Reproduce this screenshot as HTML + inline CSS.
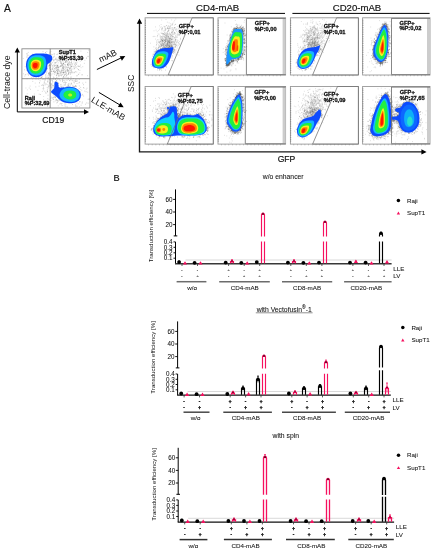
<!DOCTYPE html>
<html><head><meta charset="utf-8"><title>Figure</title>
<style>html,body{margin:0;padding:0;background:#fff}svg{display:block}text{font-family:"Liberation Sans",sans-serif}</style>
</head><body>
<svg width="434" height="550" viewBox="0 0 434 550">
<defs><filter id="b" x="-20%" y="-20%" width="140%" height="140%"><feGaussianBlur stdDeviation="0.45"/></filter>
<filter id="b2" x="-20%" y="-20%" width="140%" height="140%"><feGaussianBlur stdDeviation="0.3"/></filter></defs>
<rect width="434" height="550" fill="#fff"/>
<text x="4.0" y="11.5" font-size="10.3" text-anchor="start" font-weight="normal" fill="#111" stroke="#111" stroke-width="0.18" >A</text>
<rect x="21.9" y="48.8" width="68.0" height="59.2" fill="#fff" stroke="#8a8a8a" stroke-width="0.9"/>
<path d="M44.3 58.4h0.8M65.9 53.9h0.8M58.3 70.7h0.8M26.7 78.8h0.8M25.4 74.6h0.8M27.5 55.0h0.8M50.9 97.1h0.8M31.1 62.6h0.8M64.3 104.0h0.8M61.0 72.5h0.8M87.3 52.5h0.8M79.6 66.4h0.8M32.4 56.5h0.8M43.3 96.5h0.8M34.8 83.1h0.8M65.1 71.1h0.8M59.1 53.4h0.8M26.8 61.6h0.8M67.8 74.3h0.8M43.6 83.3h0.8M52.8 66.9h0.8M75.3 89.8h0.8M39.0 82.7h0.8M57.6 99.9h0.8M71.0 66.3h0.8M87.6 56.6h0.8M50.5 93.1h0.8M32.9 77.8h0.8M25.5 88.0h0.8M73.4 82.6h0.8M80.7 67.7h0.8M68.8 83.8h0.8M61.2 75.9h0.8M78.3 103.8h0.8M54.2 87.8h0.8M26.9 89.9h0.8M65.6 106.6h0.8M77.1 66.1h0.8M48.4 88.0h0.8M24.4 76.2h0.8M34.0 56.5h0.8M26.8 93.7h0.8M31.4 64.0h0.8M48.7 99.6h0.8M28.2 75.5h0.8M59.2 100.3h0.8M77.0 99.2h0.8M41.3 73.6h0.8M46.6 100.4h0.8M86.1 58.4h0.8M34.5 63.1h0.8M38.3 77.5h0.8M61.8 64.8h0.8M23.2 73.8h0.8M47.3 82.2h0.8M85.8 89.3h0.8M56.9 85.1h0.8M67.5 52.9h0.8M82.3 94.4h0.8M80.6 95.4h0.8M48.8 72.6h0.8M29.7 86.1h0.8M27.0 53.7h0.8M36.7 59.1h0.8M45.3 52.8h0.8M22.9 58.5h0.8M29.6 70.6h0.8M24.6 99.8h0.8M63.4 58.3h0.8M39.5 69.7h0.8M46.9 56.8h0.8M78.9 106.6h0.8M53.7 77.5h0.8M28.6 55.6h0.8M45.5 64.9h0.8M77.6 59.0h0.8M24.4 104.2h0.8M57.8 58.2h0.8M58.7 51.3h0.8M57.8 105.8h0.8M79.9 89.6h0.8M40.1 70.8h0.8M33.9 94.0h0.8M58.1 94.4h0.8M44.7 62.6h0.8M76.5 106.1h0.8M79.2 95.9h0.8M76.9 92.1h0.8M37.9 79.4h0.8M46.4 51.5h0.8" stroke="#555" stroke-opacity="0.28" stroke-width="0.8" fill="none"/>
<path d="M70.2 67.2h0.8M62.2 79.0h0.8M72.4 63.5h0.8M87.7 56.3h0.8M71.2 63.7h0.8M64.2 72.0h0.8M65.0 71.4h0.8M49.3 53.2h0.8M68.5 57.8h0.8M53.8 53.5h0.8M74.4 72.3h0.8M76.3 58.0h0.8M63.0 56.3h0.8M69.9 79.5h0.8M55.0 79.3h0.8M71.9 64.5h0.8M45.3 78.0h0.8M62.1 60.9h0.8M66.6 69.5h0.8M76.5 57.3h0.8M73.2 78.6h0.8M76.1 64.5h0.8M56.3 74.7h0.8M64.0 67.1h0.8M75.8 63.8h0.8M46.3 73.0h0.8M65.9 60.8h0.8M62.9 73.1h0.8M63.7 77.3h0.8M62.4 74.8h0.8M76.4 79.7h0.8M57.0 73.5h0.8M46.1 56.8h0.8M45.3 75.1h0.8M51.9 65.9h0.8M61.3 65.8h0.8M57.7 68.0h0.8M79.1 66.4h0.8M67.8 74.5h0.8M61.2 55.3h0.8M58.0 75.1h0.8M48.2 60.9h0.8M72.1 72.7h0.8M63.1 72.8h0.8M64.5 56.0h0.8M48.9 60.6h0.8M71.3 61.2h0.8M54.9 59.4h0.8M49.2 65.0h0.8M52.4 69.1h0.8M69.5 63.7h0.8M65.6 62.1h0.8M70.0 72.4h0.8M69.0 68.8h0.8M75.0 71.6h0.8M71.1 77.1h0.8M60.3 62.0h0.8M80.5 51.1h0.8M67.2 86.6h0.8M54.7 71.9h0.8M80.0 65.0h0.8M68.1 73.7h0.8M54.8 65.2h0.8M65.6 73.0h0.8M62.7 64.3h0.8M53.9 62.9h0.8M71.0 66.9h0.8M55.3 58.8h0.8M87.0 75.7h0.8M68.6 70.1h0.8M78.2 69.6h0.8M62.4 70.4h0.8M45.5 74.8h0.8M65.9 60.0h0.8M74.9 81.4h0.8M50.4 60.3h0.8M65.6 67.6h0.8M59.4 57.7h0.8M82.1 74.8h0.8M52.3 54.6h0.8M78.3 74.4h0.8M79.4 72.9h0.8M55.2 68.2h0.8M62.5 70.4h0.8M56.5 64.9h0.8M67.1 69.2h0.8M68.7 67.8h0.8M60.1 72.7h0.8M63.4 59.0h0.8M57.4 66.0h0.8M62.0 67.3h0.8M63.0 67.5h0.8M61.8 55.3h0.8M66.8 75.0h0.8M66.9 64.4h0.8M67.0 57.8h0.8M45.9 66.5h0.8M54.6 72.3h0.8M53.6 79.4h0.8M59.6 54.4h0.8M56.1 70.4h0.8M67.5 67.5h0.8M76.4 72.0h0.8M62.8 71.1h0.8M77.9 74.3h0.8M72.2 56.8h0.8M61.7 72.2h0.8M60.3 75.1h0.8M68.4 73.7h0.8M61.1 87.6h0.8M74.2 64.2h0.8M63.8 88.1h0.8M59.9 73.4h0.8M71.8 66.1h0.8M52.5 67.6h0.8M66.2 75.6h0.8M70.0 66.2h0.8M70.7 70.6h0.8M64.9 66.5h0.8M60.8 71.8h0.8M53.5 60.7h0.8M63.0 53.6h0.8M56.9 70.8h0.8M68.1 65.5h0.8M60.9 54.0h0.8M79.5 70.4h0.8M72.8 58.5h0.8M61.3 50.5h0.8M70.0 73.9h0.8M45.9 65.6h0.8M68.7 51.0h0.8M46.6 56.9h0.8M57.3 54.1h0.8M63.3 68.1h0.8M68.7 72.0h0.8M76.5 75.9h0.8M51.2 61.7h0.8M53.5 56.8h0.8M62.3 66.0h0.8M67.4 52.5h0.8M51.9 65.8h0.8M61.2 63.4h0.8M62.4 59.5h0.8M69.3 69.0h0.8M62.2 60.3h0.8M54.2 66.3h0.8M49.5 67.7h0.8M64.3 54.3h0.8M60.7 63.3h0.8M67.1 71.2h0.8M62.7 58.8h0.8M61.7 65.4h0.8M69.6 68.5h0.8M56.5 54.5h0.8M59.6 59.7h0.8M53.0 65.0h0.8M58.6 66.9h0.8M67.7 62.5h0.8M83.9 63.3h0.8M72.9 67.0h0.8M56.2 68.1h0.8M68.4 85.9h0.8M65.9 76.9h0.8M69.9 74.1h0.8M67.6 64.7h0.8M67.6 56.8h0.8M73.6 57.4h0.8M65.2 84.0h0.8M61.0 66.2h0.8M73.5 66.2h0.8M55.7 68.2h0.8M68.2 72.0h0.8M56.0 80.9h0.8M78.0 66.2h0.8M65.4 62.4h0.8M75.7 60.0h0.8M69.1 61.9h0.8M56.8 72.1h0.8M75.0 65.9h0.8M56.9 72.9h0.8M62.6 68.6h0.8M76.7 75.6h0.8M58.3 85.4h0.8M63.0 72.7h0.8M57.2 65.6h0.8M47.3 81.2h0.8M75.3 55.7h0.8M49.5 52.2h0.8M73.6 62.1h0.8M62.5 63.3h0.8M61.9 56.8h0.8M63.2 53.8h0.8M62.4 68.6h0.8M67.2 64.0h0.8M54.9 67.4h0.8M58.6 79.3h0.8M69.9 65.0h0.8M58.8 60.0h0.8M54.6 63.0h0.8M65.7 70.4h0.8M68.1 83.8h0.8M56.7 66.1h0.8M88.2 50.1h0.8M58.3 67.4h0.8M64.4 69.5h0.8M60.9 69.1h0.8M63.5 72.6h0.8M46.0 58.5h0.8M63.0 57.2h0.8M53.6 71.3h0.8M57.2 71.4h0.8M69.7 68.6h0.8M67.6 65.1h0.8M50.3 65.7h0.8M67.1 61.5h0.8M62.1 72.4h0.8M55.1 71.4h0.8M79.8 61.3h0.8M64.3 64.7h0.8M76.9 68.7h0.8M71.1 60.1h0.8M62.9 65.9h0.8M47.0 78.2h0.8M71.1 51.1h0.8M69.7 64.9h0.8M67.0 69.1h0.8M49.5 64.2h0.8M76.4 61.1h0.8M53.8 54.4h0.8M52.0 68.9h0.8M78.2 69.7h0.8M65.2 85.0h0.8M58.3 60.3h0.8M67.8 70.7h0.8M53.9 56.1h0.8M65.6 68.1h0.8M51.2 64.3h0.8M58.1 69.9h0.8M61.9 65.3h0.8M59.8 75.0h0.8M75.5 62.9h0.8M70.6 59.6h0.8M63.6 72.4h0.8M76.6 62.7h0.8M62.3 67.7h0.8M49.5 66.1h0.8M56.9 69.2h0.8M63.3 68.2h0.8M58.1 73.6h0.8M60.5 60.9h0.8M67.3 52.7h0.8M56.9 65.8h0.8M70.6 64.6h0.8M65.8 60.4h0.8M65.7 80.1h0.8M56.8 86.1h0.8M57.2 66.1h0.8M64.6 74.7h0.8M68.5 72.8h0.8M68.6 88.4h0.8M64.8 68.2h0.8M71.4 69.1h0.8M78.0 55.5h0.8M70.3 62.8h0.8M71.3 84.3h0.8M62.9 63.8h0.8M58.5 58.9h0.8M57.3 71.4h0.8M63.3 66.6h0.8M61.4 73.8h0.8M67.4 64.8h0.8M69.0 64.7h0.8M52.6 78.4h0.8M67.2 57.9h0.8M72.7 68.9h0.8M48.9 79.7h0.8M66.0 73.6h0.8M64.8 64.7h0.8M49.1 74.3h0.8M63.3 63.6h0.8M66.2 66.7h0.8M69.1 62.8h0.8M59.2 71.7h0.8M75.0 62.9h0.8M61.9 79.5h0.8M60.1 72.2h0.8M78.1 66.3h0.8M74.0 60.0h0.8M64.9 65.3h0.8M64.0 75.6h0.8M84.5 60.3h0.8M57.8 70.2h0.8M53.5 70.2h0.8M68.1 63.6h0.8M67.8 52.8h0.8M69.8 52.9h0.8M56.7 61.3h0.8M59.4 73.3h0.8M63.7 62.6h0.8M67.9 79.4h0.8M63.1 69.1h0.8M74.2 68.3h0.8M51.4 87.2h0.8M62.6 69.5h0.8M71.7 71.7h0.8M60.6 57.0h0.8M63.9 74.8h0.8M53.2 57.3h0.8M60.7 62.3h0.8M67.1 60.0h0.8M55.1 62.6h0.8M62.6 60.4h0.8M63.1 72.4h0.8M73.7 80.5h0.8M55.9 62.4h0.8M56.5 65.7h0.8M67.7 54.5h0.8M67.2 65.8h0.8M46.6 68.5h0.8M73.8 50.1h0.8M70.3 67.8h0.8M67.3 69.8h0.8M74.7 64.1h0.8M70.9 62.5h0.8M69.6 59.1h0.8M62.0 80.7h0.8M67.0 64.7h0.8M52.7 59.3h0.8M64.7 74.0h0.8M66.8 70.5h0.8M62.6 77.5h0.8M59.5 61.3h0.8M71.0 66.5h0.8M60.5 61.1h0.8M60.7 71.3h0.8M66.2 55.7h0.8M66.8 67.5h0.8M54.0 72.6h0.8M60.5 63.1h0.8M70.2 77.2h0.8M56.8 69.7h0.8M55.1 85.7h0.8M58.6 76.2h0.8M57.2 72.9h0.8M59.1 70.3h0.8M62.2 60.3h0.8M82.4 66.7h0.8M48.2 73.3h0.8M47.5 75.8h0.8M57.8 67.2h0.8M74.3 67.0h0.8M50.5 51.6h0.8M73.6 72.3h0.8M55.7 73.3h0.8M67.5 71.5h0.8M71.1 72.2h0.8M64.5 70.2h0.8M86.0 57.9h0.8M60.0 66.3h0.8M71.0 62.2h0.8M73.3 59.3h0.8M65.4 61.5h0.8M64.4 60.1h0.8M48.6 75.3h0.8M65.7 61.3h0.8M64.8 74.4h0.8M54.2 65.1h0.8M67.9 70.5h0.8M74.2 68.8h0.8M63.1 63.6h0.8M65.4 62.4h0.8M53.8 59.7h0.8M57.6 60.8h0.8M52.6 71.4h0.8M51.2 71.6h0.8M53.9 69.0h0.8M75.4 67.7h0.8M56.4 66.4h0.8M64.3 51.3h0.8M57.5 67.4h0.8M58.8 66.7h0.8M69.6 72.5h0.8M71.2 71.0h0.8M60.4 65.8h0.8M60.6 63.3h0.8M61.4 51.3h0.8M60.0 65.8h0.8M54.2 65.8h0.8M67.6 64.6h0.8M61.1 50.5h0.8M71.8 88.6h0.8M67.7 63.4h0.8M70.7 69.2h0.8M63.2 61.0h0.8M68.7 61.9h0.8M65.0 61.7h0.8M64.8 72.4h0.8M55.1 65.7h0.8M68.6 67.2h0.8M74.2 82.9h0.8M70.7 79.0h0.8M71.3 72.9h0.8M57.4 59.9h0.8M71.0 58.3h0.8M46.7 57.5h0.8M85.4 82.3h0.8M56.8 59.8h0.8M65.1 59.6h0.8M74.8 65.3h0.8M53.2 77.1h0.8M57.8 67.9h0.8M62.9 63.3h0.8M65.9 60.1h0.8M51.6 59.6h0.8M62.8 66.5h0.8M68.0 67.0h0.8M55.9 60.0h0.8M67.4 70.5h0.8M61.9 64.5h0.8M71.4 66.1h0.8M69.6 71.0h0.8M64.9 77.1h0.8M57.8 62.9h0.8M55.7 59.2h0.8M77.0 81.0h0.8M63.2 70.8h0.8M73.6 72.9h0.8M73.8 55.3h0.8M57.2 69.8h0.8M75.9 66.9h0.8M55.3 63.0h0.8" stroke="#555" stroke-opacity="0.33" stroke-width="0.8" fill="none"/>
<path d="M48.7 73.1h0.8M66.0 75.0h0.8M54.2 97.3h0.8M63.5 82.7h0.8M49.1 83.3h0.8M67.0 85.0h0.8M64.1 80.8h0.8M58.1 78.4h0.8M57.4 90.4h0.8M42.6 79.5h0.8M55.9 75.4h0.8M51.5 86.3h0.8M70.0 85.0h0.8M56.6 67.6h0.8M69.4 80.6h0.8M53.7 71.1h0.8M53.5 71.2h0.8M54.6 83.7h0.8M54.2 82.2h0.8M47.2 91.4h0.8M48.8 65.5h0.8M52.5 73.9h0.8M45.9 77.2h0.8M56.3 70.5h0.8M52.9 91.4h0.8M59.5 78.8h0.8M55.0 79.0h0.8M53.6 85.9h0.8M53.3 60.8h0.8M53.8 72.9h0.8M59.2 75.1h0.8M55.2 97.4h0.8M45.6 71.0h0.8M42.7 60.8h0.8M39.0 82.9h0.8M48.9 65.1h0.8M42.1 84.9h0.8M47.8 77.1h0.8M56.6 90.9h0.8M69.5 88.3h0.8M55.1 81.5h0.8M68.4 91.4h0.8M51.5 83.7h0.8M56.3 80.4h0.8M50.0 69.4h0.8M49.7 67.6h0.8M63.8 84.3h0.8M44.4 91.2h0.8M61.1 64.7h0.8M68.7 86.5h0.8M70.5 70.2h0.8M58.2 83.4h0.8M55.6 81.4h0.8M62.4 68.0h0.8M44.1 68.8h0.8M49.5 75.2h0.8M56.9 82.1h0.8M54.3 74.6h0.8M50.5 87.6h0.8M60.1 80.8h0.8M51.4 92.4h0.8M49.2 85.2h0.8M63.2 77.9h0.8M60.6 71.1h0.8M62.1 81.6h0.8M41.3 85.4h0.8M46.9 90.3h0.8M48.6 78.7h0.8M56.3 77.3h0.8M56.1 75.6h0.8M59.4 80.0h0.8M55.7 58.0h0.8M63.3 80.3h0.8M39.7 80.8h0.8M57.7 88.6h0.8M45.3 92.4h0.8M52.7 99.2h0.8M52.8 85.4h0.8M51.1 71.1h0.8M62.8 87.3h0.8M66.3 86.9h0.8M49.4 66.7h0.8M48.8 74.6h0.8M47.5 84.7h0.8M56.6 77.8h0.8M55.4 78.8h0.8M55.7 86.0h0.8M61.7 74.5h0.8M41.9 91.4h0.8M54.9 88.8h0.8M40.9 77.4h0.8M54.2 68.5h0.8M49.9 85.8h0.8M62.6 92.8h0.8M47.1 68.8h0.8M58.2 87.5h0.8M55.5 69.6h0.8M60.3 86.3h0.8M58.4 76.1h0.8M56.4 86.3h0.8M49.5 65.3h0.8M56.6 83.8h0.8M54.1 87.1h0.8M49.3 79.3h0.8M51.6 84.6h0.8M66.8 78.0h0.8M70.4 92.2h0.8M60.3 84.7h0.8M68.2 78.6h0.8M53.1 71.5h0.8M57.8 90.8h0.8M58.3 83.4h0.8M52.4 81.4h0.8M42.6 88.4h0.8M50.7 71.2h0.8M48.0 73.4h0.8M60.8 88.5h0.8M43.1 87.4h0.8M61.1 75.4h0.8M42.1 74.0h0.8M48.9 82.7h0.8M51.1 63.8h0.8M55.9 67.7h0.8M61.2 70.3h0.8M48.5 73.2h0.8M49.7 90.4h0.8M60.8 84.8h0.8M56.6 67.6h0.8M49.8 75.6h0.8M46.2 84.1h0.8M48.1 74.3h0.8M45.6 63.5h0.8M58.8 90.6h0.8M55.4 72.2h0.8M32.4 81.4h0.8M63.7 82.4h0.8M61.4 91.8h0.8M63.0 76.5h0.8M62.4 86.2h0.8M41.7 76.8h0.8M42.6 79.1h0.8M58.6 71.5h0.8M37.6 90.4h0.8M57.0 91.8h0.8M43.4 88.5h0.8M70.6 96.1h0.8M52.3 82.2h0.8M52.8 88.0h0.8M62.3 80.7h0.8M43.1 85.9h0.8M50.2 85.0h0.8M56.1 93.0h0.8M63.1 76.4h0.8M56.8 94.1h0.8M49.7 83.5h0.8M63.5 90.1h0.8M58.1 69.4h0.8M43.9 82.0h0.8M57.1 100.4h0.8M47.1 89.1h0.8M60.2 66.6h0.8M47.5 81.3h0.8M50.1 78.8h0.8M57.8 73.5h0.8M57.7 74.9h0.8M49.6 84.3h0.8M49.4 82.3h0.8M66.8 80.2h0.8M52.8 85.9h0.8M51.1 88.7h0.8M43.7 84.9h0.8M49.9 73.6h0.8M68.2 73.2h0.8M68.1 85.3h0.8M65.6 72.2h0.8M63.6 91.7h0.8M53.1 79.0h0.8M73.6 81.4h0.8M50.6 75.0h0.8M57.6 82.6h0.8M55.4 93.8h0.8M51.4 83.8h0.8M65.7 72.0h0.8M62.3 94.7h0.8M43.2 71.2h0.8M45.7 65.2h0.8M57.6 65.2h0.8M58.0 91.6h0.8M41.1 77.5h0.8M38.7 86.2h0.8M48.1 77.9h0.8M54.4 84.4h0.8M51.2 80.1h0.8M49.6 80.9h0.8M44.6 80.5h0.8M38.5 76.1h0.8M69.3 80.6h0.8M43.9 82.1h0.8M46.2 66.8h0.8M48.1 85.9h0.8M57.1 79.2h0.8M46.6 71.4h0.8M64.8 82.0h0.8M46.4 63.1h0.8M43.0 99.8h0.8M44.8 79.4h0.8M55.7 78.7h0.8M51.8 69.0h0.8M45.6 93.5h0.8M47.9 86.8h0.8M40.4 77.8h0.8M56.1 88.3h0.8M45.0 84.8h0.8M57.1 74.1h0.8M57.8 72.8h0.8M47.6 79.8h0.8M32.3 79.1h0.8M46.0 68.3h0.8M50.6 86.1h0.8M50.8 90.1h0.8" stroke="#555" stroke-opacity="0.33" stroke-width="0.8" fill="none"/>
<path d="M26.1 53.8h0.8M49.2 68.4h0.8M44.0 58.0h0.8M42.8 67.2h0.8M41.5 65.2h0.8M46.3 59.5h0.8M27.8 52.4h0.8M45.9 58.7h0.8M27.1 57.0h0.8M32.2 54.2h0.8M33.5 59.7h0.8M31.3 56.8h0.8M36.3 61.1h0.8M37.0 67.1h0.8M31.4 58.2h0.8M42.6 51.6h0.8M29.9 62.5h0.8M33.1 73.4h0.8M32.2 73.2h0.8M46.4 68.7h0.8M40.1 66.0h0.8M40.1 54.7h0.8M44.1 60.5h0.8M44.4 65.7h0.8M45.6 63.8h0.8M32.6 67.1h0.8M32.4 60.4h0.8M36.9 66.2h0.8M48.9 65.4h0.8M52.0 80.3h0.8M50.6 74.0h0.8M37.1 66.2h0.8M34.8 58.8h0.8M35.4 59.6h0.8M49.9 69.5h0.8M35.5 61.5h0.8M26.8 55.3h0.8M35.4 86.9h0.8M35.7 63.7h0.8M48.3 66.1h0.8M37.4 61.8h0.8M30.9 77.7h0.8M44.5 79.6h0.8M33.0 65.3h0.8M28.5 73.2h0.8M24.2 69.8h0.8M45.3 77.0h0.8M28.0 74.3h0.8M29.9 58.6h0.8M24.8 74.8h0.8M50.0 59.9h0.8M29.5 62.1h0.8M57.3 73.5h0.8M30.3 75.1h0.8M51.9 62.7h0.8M30.1 60.7h0.8M26.8 74.0h0.8M38.5 58.5h0.8M42.6 65.1h0.8M26.0 70.3h0.8M51.5 69.2h0.8M29.9 62.0h0.8M45.2 52.6h0.8M34.0 67.9h0.8M40.3 78.5h0.8M41.6 62.4h0.8M26.0 57.0h0.8M30.4 66.2h0.8M35.6 79.2h0.8M38.4 55.9h0.8M49.1 73.1h0.8M36.9 58.9h0.8M43.7 58.2h0.8M24.8 66.7h0.8M38.1 70.2h0.8M41.6 77.0h0.8M28.9 73.3h0.8M27.6 70.9h0.8M37.5 67.1h0.8M44.2 64.9h0.8M45.5 72.4h0.8M37.2 60.2h0.8M29.6 60.5h0.8M34.3 64.8h0.8M61.3 70.4h0.8M42.5 57.7h0.8M30.0 62.3h0.8M37.6 56.2h0.8M49.7 60.2h0.8M35.9 67.4h0.8M37.6 70.1h0.8M38.4 66.4h0.8M38.6 63.3h0.8M29.0 60.1h0.8M51.7 79.7h0.8M35.5 75.9h0.8M31.9 57.6h0.8M31.2 66.6h0.8M61.7 59.4h0.8M36.4 67.3h0.8M35.7 72.9h0.8M51.1 54.4h0.8M37.4 62.7h0.8" stroke="#555" stroke-opacity="0.35" stroke-width="0.8" fill="none"/>
<path d="M70.9 83.3h0.8M47.7 77.8h0.8M72.8 95.3h0.8M67.8 77.4h0.8M62.9 88.7h0.8M51.4 87.6h0.8M74.7 97.8h0.8M66.8 97.6h0.8M60.4 94.5h0.8M67.4 97.9h0.8M66.2 93.0h0.8M65.5 89.5h0.8M82.4 83.1h0.8M74.6 99.9h0.8M87.7 103.2h0.8M75.5 85.8h0.8M57.4 95.9h0.8M72.6 86.8h0.8M62.8 91.2h0.8M67.7 96.4h0.8M63.8 85.3h0.8M80.7 105.2h0.8M65.8 101.2h0.8M71.9 98.6h0.8M72.3 88.7h0.8M73.3 101.1h0.8M88.9 99.2h0.8M63.3 89.8h0.8M58.1 94.8h0.8M66.6 98.7h0.8M74.4 97.3h0.8M70.0 92.5h0.8M65.6 88.2h0.8M69.0 93.8h0.8M70.5 88.0h0.8M67.4 94.3h0.8M73.6 86.6h0.8M71.6 100.9h0.8M73.6 91.4h0.8M61.6 92.3h0.8M75.0 104.9h0.8M65.3 89.5h0.8M71.1 95.4h0.8M57.0 88.8h0.8M65.9 98.7h0.8M53.9 86.9h0.8M72.5 85.4h0.8M68.2 96.5h0.8M65.8 86.9h0.8M66.3 91.7h0.8M70.7 88.1h0.8M79.0 82.3h0.8M65.1 94.1h0.8M77.6 89.7h0.8M73.0 90.0h0.8M75.1 106.2h0.8M62.6 97.1h0.8M56.8 100.8h0.8M80.3 94.2h0.8M54.5 96.8h0.8M79.6 101.6h0.8M75.9 81.2h0.8M59.5 104.0h0.8M53.5 101.9h0.8M87.7 99.3h0.8M79.3 91.7h0.8M53.5 93.3h0.8M64.8 93.7h0.8M74.7 93.0h0.8M69.1 97.0h0.8M66.9 106.9h0.8M71.9 94.6h0.8M64.7 89.6h0.8M81.8 95.1h0.8M55.1 90.1h0.8M65.5 90.9h0.8M78.9 85.9h0.8M72.4 95.0h0.8M54.0 94.3h0.8M66.0 97.5h0.8M62.0 96.1h0.8M48.7 86.4h0.8M75.6 101.3h0.8M66.9 89.8h0.8M78.9 79.4h0.8M58.2 98.7h0.8M74.2 86.8h0.8M46.2 104.2h0.8M68.7 87.7h0.8M67.6 100.3h0.8M38.5 101.8h0.8M75.1 79.4h0.8M75.5 81.5h0.8M79.5 96.8h0.8M67.1 101.3h0.8M60.0 89.1h0.8M62.9 93.5h0.8M55.1 97.4h0.8M73.0 94.5h0.8M85.7 91.7h0.8M81.4 90.2h0.8M75.3 80.5h0.8M69.2 92.8h0.8M61.6 89.7h0.8M63.2 89.0h0.8M42.9 89.8h0.8M61.0 90.3h0.8M55.4 93.1h0.8M75.6 92.2h0.8M61.6 103.5h0.8M77.7 100.5h0.8M79.7 91.7h0.8M65.6 101.8h0.8M60.9 93.2h0.8M71.2 96.6h0.8M64.0 100.9h0.8M65.0 99.1h0.8M78.8 98.6h0.8M75.1 85.9h0.8M52.6 89.7h0.8M72.2 104.5h0.8M53.6 96.1h0.8M57.6 88.9h0.8M64.0 98.8h0.8M69.3 102.3h0.8M56.2 100.2h0.8M77.2 94.5h0.8M72.2 90.1h0.8M55.0 91.2h0.8M61.7 105.6h0.8M69.2 96.2h0.8M75.2 88.5h0.8M77.1 96.6h0.8M50.3 98.2h0.8M73.1 97.2h0.8M84.4 91.1h0.8M72.6 99.2h0.8M57.1 102.4h0.8M51.0 84.9h0.8M72.7 86.4h0.8M65.7 82.5h0.8M67.8 86.1h0.8M70.8 83.3h0.8M71.9 92.1h0.8M67.7 93.5h0.8M68.4 84.8h0.8M38.8 94.2h0.8M56.7 90.8h0.8M71.7 80.1h0.8M58.6 89.7h0.8M55.4 96.3h0.8M65.5 88.3h0.8M56.2 99.7h0.8M59.7 98.1h0.8M71.9 80.7h0.8M55.1 94.0h0.8M70.8 99.5h0.8M75.8 101.2h0.8M62.9 92.5h0.8M75.5 91.0h0.8M78.6 82.9h0.8M74.2 92.8h0.8M45.4 100.9h0.8M70.4 94.1h0.8M55.2 90.7h0.8M83.6 88.2h0.8M28.8 88.0h0.8M53.8 93.1h0.8M62.7 87.6h0.8M57.7 101.3h0.8M61.0 86.4h0.8M75.7 97.9h0.8M55.5 99.2h0.8M46.8 87.5h0.8M79.4 92.2h0.8M52.7 97.6h0.8M77.1 93.8h0.8M47.1 91.6h0.8M71.6 99.4h0.8M87.4 92.2h0.8M61.7 93.7h0.8M80.3 87.4h0.8M81.4 74.8h0.8M75.8 89.3h0.8M72.1 98.8h0.8M54.0 93.4h0.8M69.6 98.1h0.8M56.8 87.1h0.8M64.9 92.4h0.8M50.6 100.5h0.8M61.1 104.0h0.8M76.4 94.1h0.8M75.0 86.2h0.8M63.4 90.0h0.8M53.0 94.1h0.8M65.4 104.0h0.8M30.1 89.3h0.8M56.9 90.8h0.8M71.6 96.8h0.8M67.3 90.7h0.8M72.4 96.5h0.8M46.7 92.2h0.8M51.9 85.7h0.8M68.6 94.4h0.8M68.3 87.9h0.8M64.8 87.6h0.8M71.2 98.8h0.8M86.3 102.9h0.8M58.1 90.8h0.8M56.7 96.1h0.8M88.8 99.0h0.8M42.8 85.2h0.8M52.8 97.6h0.8M67.0 96.1h0.8M86.6 88.2h0.8M70.8 88.5h0.8M44.7 83.3h0.8M40.1 94.5h0.8M67.5 101.0h0.8M65.5 89.1h0.8M47.6 95.2h0.8M67.3 98.3h0.8M62.5 97.5h0.8M76.0 93.0h0.8M62.0 92.7h0.8M56.4 92.5h0.8M63.7 95.5h0.8M81.7 103.2h0.8M62.1 98.2h0.8M70.2 99.3h0.8M67.2 95.9h0.8M61.8 88.5h0.8M76.6 103.1h0.8M74.3 97.1h0.8M69.9 90.8h0.8M47.4 98.6h0.8M69.2 90.1h0.8M56.4 102.9h0.8M47.2 106.3h0.8M59.1 93.8h0.8M61.4 95.1h0.8M64.7 88.8h0.8M78.8 88.5h0.8M61.4 97.9h0.8M61.1 91.0h0.8M70.9 91.4h0.8M53.3 93.3h0.8M64.6 105.9h0.8M54.9 100.8h0.8M58.4 91.5h0.8M63.4 95.9h0.8M76.5 106.2h0.8M60.0 103.3h0.8M77.9 99.7h0.8M58.6 100.3h0.8M65.8 96.5h0.8M64.0 98.6h0.8M79.3 101.9h0.8M64.7 101.0h0.8M83.0 87.5h0.8M83.2 84.7h0.8M73.0 98.2h0.8M83.3 96.0h0.8M61.7 88.4h0.8M53.2 99.4h0.8M64.4 89.0h0.8M72.9 88.6h0.8M62.2 90.8h0.8M85.2 104.2h0.8M65.3 83.0h0.8M70.0 94.5h0.8M70.8 98.0h0.8M63.5 100.5h0.8M76.2 95.5h0.8M62.5 90.6h0.8M74.6 86.3h0.8M65.2 88.8h0.8M51.7 98.2h0.8M66.7 94.3h0.8M76.6 83.5h0.8M66.3 96.0h0.8M76.2 86.4h0.8M74.9 95.5h0.8M81.9 102.0h0.8M67.0 91.0h0.8M63.3 87.4h0.8" stroke="#555" stroke-opacity="0.36" stroke-width="0.8" fill="none"/>
<path d="M50.2 48.8V108.0M21.9 78.7H89.9" stroke="#777" stroke-width="0.8" fill="none"/>
<g filter="url(#b)">
<path d="M36.00 53.60C37.83 53.33 40.00 53.50 42.00 53.60C44.00 53.70 46.40 53.83 48.00 54.20C49.60 54.57 50.90 54.92 51.60 55.80C52.30 56.68 52.47 58.38 52.20 59.50C51.93 60.62 50.78 61.67 50.00 62.50C49.22 63.33 48.00 63.42 47.50 64.50C47.00 65.58 47.58 67.42 47.00 69.00C46.42 70.58 45.42 72.67 44.00 74.00C42.58 75.33 40.50 76.63 38.50 77.00C36.50 77.37 33.83 77.12 32.00 76.20C30.17 75.28 28.50 73.37 27.50 71.50C26.50 69.63 26.00 67.08 26.00 65.00C26.00 62.92 26.67 60.63 27.50 59.00C28.33 57.37 29.58 56.10 31.00 55.20C32.42 54.30 34.17 53.87 36.00 53.60Z" fill="#0a4cff"/>
</g>
<g filter="url(#b)">
<path d="M35.50 55.20C37.08 55.05 39.42 55.13 41.00 55.60C42.58 56.07 44.13 56.77 45.00 58.00C45.87 59.23 46.20 61.17 46.20 63.00C46.20 64.83 45.70 67.25 45.00 69.00C44.30 70.75 43.25 72.40 42.00 73.50C40.75 74.60 39.17 75.38 37.50 75.60C35.83 75.82 33.48 75.57 32.00 74.80C30.52 74.03 29.38 72.63 28.60 71.00C27.82 69.37 27.30 66.92 27.30 65.00C27.30 63.08 27.90 60.92 28.60 59.50C29.30 58.08 30.35 57.22 31.50 56.50C32.65 55.78 33.92 55.35 35.50 55.20Z" fill="#14b4ff"/>
<path d="M35.34 57.28C36.61 57.16 38.47 57.23 39.74 57.60C41.01 57.97 42.25 58.53 42.94 59.52C43.63 60.51 43.90 62.05 43.90 63.52C43.90 64.99 43.50 66.92 42.94 68.32C42.38 69.72 41.54 71.04 40.54 71.92C39.54 72.80 38.27 73.43 36.94 73.60C35.61 73.77 33.73 73.57 32.54 72.96C31.35 72.35 30.45 71.23 29.82 69.92C29.19 68.61 28.78 66.65 28.78 65.12C28.78 63.59 29.26 61.85 29.82 60.72C30.38 59.59 31.22 58.89 32.14 58.32C33.06 57.75 34.07 57.40 35.34 57.28Z" fill="#20f040"/>
<path d="M35.15 59.78C36.03 59.69 37.34 59.74 38.23 60.00C39.11 60.26 39.98 60.65 40.47 61.34C40.95 62.03 41.14 63.12 41.14 64.14C41.14 65.17 40.86 66.52 40.47 67.50C40.08 68.48 39.49 69.41 38.79 70.02C38.09 70.64 37.20 71.08 36.27 71.20C35.33 71.32 34.02 71.18 33.19 70.75C32.36 70.32 31.72 69.54 31.28 68.62C30.85 67.71 30.56 66.34 30.56 65.26C30.56 64.19 30.89 62.98 31.28 62.18C31.68 61.39 32.26 60.91 32.91 60.50C33.55 60.10 34.26 59.86 35.15 59.78Z" fill="#f8f020"/>
<path d="M35.04 61.23C35.70 61.17 36.68 61.20 37.35 61.40C38.01 61.60 38.66 61.89 39.03 62.41C39.39 62.93 39.53 63.74 39.53 64.51C39.53 65.28 39.32 66.29 39.03 67.03C38.73 67.76 38.29 68.46 37.77 68.92C37.24 69.38 36.58 69.71 35.88 69.80C35.18 69.89 34.19 69.79 33.57 69.46C32.94 69.14 32.47 68.55 32.14 67.87C31.81 67.18 31.59 66.15 31.59 65.35C31.59 64.54 31.84 63.63 32.14 63.04C32.43 62.44 32.87 62.08 33.36 61.78C33.84 61.48 34.37 61.30 35.04 61.23Z" fill="#ff8000"/>
<path d="M34.91 62.90C35.32 62.86 35.93 62.88 36.34 63.00C36.75 63.12 37.15 63.30 37.38 63.62C37.60 63.94 37.69 64.45 37.69 64.92C37.69 65.40 37.56 66.03 37.38 66.48C37.20 66.94 36.92 67.37 36.60 67.65C36.27 67.94 35.86 68.14 35.43 68.20C34.99 68.26 34.38 68.19 34.00 67.99C33.61 67.79 33.32 67.43 33.11 67.00C32.91 66.58 32.78 65.94 32.78 65.44C32.78 64.95 32.93 64.38 33.11 64.01C33.30 63.65 33.57 63.42 33.87 63.23C34.17 63.05 34.50 62.93 34.91 62.90Z" fill="#ff1800"/>
</g>
<g filter="url(#b)">
<path d="M54.80 82.20C55.42 81.40 57.30 82.15 58.00 83.00C58.70 83.85 58.17 86.53 59.00 87.30C59.83 88.07 61.17 87.68 63.00 87.60C64.83 87.52 67.75 86.67 70.00 86.80C72.25 86.93 74.73 87.37 76.50 88.40C78.27 89.43 79.98 91.32 80.60 93.00C81.22 94.68 80.97 96.95 80.20 98.50C79.43 100.05 77.87 101.50 76.00 102.30C74.13 103.10 71.33 103.42 69.00 103.30C66.67 103.18 64.08 102.68 62.00 101.60C59.92 100.52 58.30 98.35 56.50 96.80C54.70 95.25 51.87 93.43 51.20 92.30C50.53 91.17 51.98 90.75 52.50 90.00C53.02 89.25 53.92 89.10 54.30 87.80C54.68 86.50 54.18 83.00 54.80 82.20Z" fill="#0a4cff"/>
</g>
<g filter="url(#b)">
<path d="M59.50 95.00C59.50 93.58 60.42 91.62 61.50 90.50C62.58 89.38 64.17 88.72 66.00 88.30C67.83 87.88 70.58 87.72 72.50 88.00C74.42 88.28 76.32 88.92 77.50 90.00C78.68 91.08 79.52 92.95 79.60 94.50C79.68 96.05 79.10 98.08 78.00 99.30C76.90 100.52 74.92 101.43 73.00 101.80C71.08 102.17 68.42 101.97 66.50 101.50C64.58 101.03 62.67 100.08 61.50 99.00C60.33 97.92 59.50 96.42 59.50 95.00Z" fill="#14b4ff"/>
<path d="M63.39 95.04C63.39 94.13 63.97 92.87 64.67 92.16C65.36 91.44 66.37 91.01 67.55 90.75C68.72 90.48 70.48 90.37 71.71 90.56C72.93 90.74 74.15 91.14 74.91 91.84C75.67 92.53 76.20 93.72 76.25 94.72C76.31 95.71 75.93 97.01 75.23 97.79C74.52 98.57 73.25 99.15 72.03 99.39C70.80 99.62 69.09 99.49 67.87 99.20C66.64 98.90 65.41 98.29 64.67 97.60C63.92 96.90 63.39 95.94 63.39 95.04Z" fill="#20f040"/>
<path d="M68.14 95.08C68.14 94.77 68.32 94.33 68.54 94.09C68.76 93.84 69.07 93.70 69.44 93.60C69.81 93.51 70.36 93.48 70.74 93.54C71.12 93.60 71.50 93.74 71.74 93.98C71.98 94.22 72.14 94.63 72.16 94.97C72.18 95.31 72.06 95.76 71.84 96.02C71.62 96.29 71.22 96.49 70.84 96.57C70.46 96.65 69.92 96.61 69.54 96.51C69.16 96.41 68.77 96.20 68.54 95.96C68.31 95.72 68.14 95.39 68.14 95.08Z" fill="#c0f020"/>
</g>
<text x="58.8" y="54.4" font-size="5.6" text-anchor="start" font-weight="bold" fill="#111" stroke="#111" stroke-width="0.28" >SupT1</text>
<text x="58.8" y="59.8" font-size="5.6" text-anchor="start" font-weight="bold" fill="#111" stroke="#111" stroke-width="0.28" >%P:63,39</text>
<text x="24.8" y="99.6" font-size="5.6" text-anchor="start" font-weight="bold" fill="#111" stroke="#111" stroke-width="0.28" >Raji</text>
<text x="24.8" y="105.2" font-size="5.6" text-anchor="start" font-weight="bold" fill="#111" stroke="#111" stroke-width="0.28" >%P:32,69</text>
<path d="M17.3 50V111.9H86" stroke="#000" stroke-width="1" fill="none"/>
<path d="M17.3 47.6l-2.6 5h5.2zM89 111.9l-5-2.6v5.2z" fill="#000"/>
<text x="53.3" y="122.6" font-size="8.6" text-anchor="middle" font-weight="normal" fill="#111" stroke="#111" stroke-width="0.18" >CD19</text>
<text transform="translate(10.3 82.3) rotate(-90)" font-size="8.7" text-anchor="middle" fill="#111">Cell-trace dye</text>
<path d="M96.9 69.5L122 57.5" stroke="#000" stroke-width="1" fill="none"/>
<path d="M125.3 55.9l-5.6 0.3l2.2 4.6z" fill="#000"/>
<text transform="translate(109.0 58.5) rotate(-25.6)" font-size="8.8" text-anchor="middle" fill="#111">mAB</text>
<path d="M98.9 92.4L120.5 105.3" stroke="#000" stroke-width="1" fill="none"/>
<path d="M123.7 107.2l-3.2-4.6l-2.6 4.4z" fill="#000"/>
<text transform="translate(106.8 111.1) rotate(30.5)" font-size="8.8" text-anchor="middle" fill="#111">LLE-mAB</text>
<text transform="translate(134 83.4) rotate(-90)" font-size="8.4" text-anchor="middle" fill="#111">SSC</text>
<path d="M139.5 21V151.9H423" stroke="#1a1a1a" stroke-width="1.35" fill="none"/>
<path d="M139.5 18.6l-2.7 5.2h5.4zM426.6 151.9l-5.2-2.6v5.2z" fill="#000"/>
<text x="286.5" y="161.7" font-size="8.6" text-anchor="middle" font-weight="normal" fill="#111" stroke="#111" stroke-width="0.18" >GFP</text>
<text x="217.7" y="11.1" font-size="9.6" text-anchor="middle" font-weight="normal" fill="#111" stroke="#111" stroke-width="0.18" >CD4-mAB</text>
<text x="357.0" y="11.2" font-size="9.6" text-anchor="middle" font-weight="normal" fill="#111" stroke="#111" stroke-width="0.18" >CD20-mAB</text>
<path d="M147 13.4H285M292.4 13.4H429.6" stroke="#000" stroke-width="1" fill="none"/>
<rect x="145.1" y="17.8" width="68.2" height="57.2" fill="#fff" stroke="#999" stroke-width="0.9"/>
<path d="M145.4 19.8V73.0" stroke="#777" stroke-width="0.9" stroke-dasharray="0.8 1.0" fill="none"/>
<path d="M148.1 75.7H211.3" stroke="#888" stroke-width="0.7" stroke-dasharray="0.8 2.9" fill="none"/>
<path d="M157.1 35.9h0.8M169.6 40.5h0.8M168.3 29.9h0.8M167.8 25.9h0.8M156.8 36.8h0.8M161.0 44.1h0.8M174.4 27.4h0.8M167.4 49.2h0.8M167.5 34.6h0.8M165.9 38.3h0.8M156.5 40.4h0.8M174.2 42.0h0.8M169.9 26.5h0.8M164.3 44.9h0.8M171.8 32.1h0.8M167.9 44.5h0.8M169.7 41.6h0.8M158.5 39.8h0.8M171.7 39.8h0.8M163.9 48.1h0.8M167.9 31.0h0.8M176.7 48.0h0.8M175.3 33.9h0.8M173.7 49.7h0.8M160.2 51.9h0.8M176.6 35.2h0.8M161.4 45.6h0.8M157.7 34.0h0.8M172.2 34.7h0.8M169.2 43.7h0.8M171.3 33.1h0.8M177.0 37.3h0.8M167.1 43.3h0.8M171.6 45.1h0.8M168.9 43.2h0.8M168.2 38.0h0.8M171.7 24.6h0.8M175.7 28.7h0.8M170.2 27.8h0.8M174.0 32.6h0.8M167.3 44.6h0.8M167.0 40.0h0.8M167.2 27.0h0.8M153.7 49.9h0.8M162.8 41.6h0.8M170.6 39.9h0.8M173.9 25.0h0.8M164.8 33.9h0.8M176.3 36.6h0.8M160.7 24.5h0.8M178.3 34.4h0.8M161.8 29.6h0.8M169.8 42.5h0.8M164.3 34.2h0.8M170.2 48.0h0.8M171.5 52.5h0.8M169.2 39.4h0.8M160.8 49.0h0.8M161.5 30.8h0.8M165.6 19.5h0.8M164.5 49.1h0.8M172.7 36.3h0.8M165.4 41.7h0.8M163.8 40.0h0.8M169.0 37.2h0.8M167.2 44.6h0.8M167.1 39.0h0.8M161.3 26.9h0.8M162.5 35.1h0.8M174.6 44.2h0.8M164.1 47.7h0.8M171.0 45.5h0.8M156.0 44.2h0.8M167.0 34.2h0.8M172.4 43.5h0.8M163.1 45.7h0.8M170.1 38.5h0.8M171.6 45.0h0.8M171.3 19.9h0.8M161.3 20.0h0.8M169.4 26.8h0.8M166.1 37.3h0.8M159.0 42.0h0.8M173.3 44.5h0.8M168.7 29.0h0.8M162.4 42.1h0.8M173.9 52.0h0.8M169.9 33.7h0.8M160.8 41.3h0.8M175.2 29.5h0.8M170.2 48.5h0.8M167.9 49.2h0.8M162.7 46.2h0.8M171.1 35.7h0.8M165.8 29.2h0.8M178.8 28.3h0.8M169.9 39.9h0.8M164.6 45.1h0.8M164.4 50.0h0.8M175.1 39.7h0.8M174.3 32.6h0.8M165.3 41.6h0.8M167.8 42.2h0.8M160.6 51.0h0.8M164.8 37.9h0.8M171.4 25.2h0.8M177.9 28.1h0.8M168.3 43.8h0.8M169.2 27.8h0.8M164.8 37.3h0.8M165.8 37.9h0.8M173.0 40.0h0.8M171.9 27.8h0.8M172.6 38.8h0.8M161.1 39.6h0.8M165.5 28.3h0.8M164.9 29.7h0.8M166.9 22.2h0.8M177.7 34.6h0.8M172.8 49.5h0.8M156.0 42.7h0.8M173.1 34.3h0.8M153.6 36.3h0.8M165.7 38.9h0.8M165.0 41.6h0.8M159.7 52.7h0.8M180.5 26.9h0.8M162.8 40.7h0.8M174.2 37.6h0.8M163.2 31.0h0.8M168.7 37.9h0.8M177.7 29.2h0.8M175.3 36.8h0.8M174.6 44.9h0.8M168.5 43.2h0.8M165.1 29.9h0.8M156.3 41.7h0.8M167.6 37.6h0.8M169.3 42.5h0.8M166.3 37.8h0.8M178.9 35.5h0.8M161.3 41.0h0.8M166.4 44.1h0.8M164.5 32.7h0.8M164.7 29.0h0.8M172.0 32.9h0.8M180.2 38.9h0.8M165.9 40.9h0.8M173.3 36.6h0.8M165.4 50.5h0.8M168.9 46.2h0.8M171.4 27.8h0.8M168.2 40.2h0.8M169.9 34.7h0.8M162.6 41.0h0.8M173.4 42.6h0.8M174.4 42.2h0.8M168.2 36.7h0.8M159.5 51.5h0.8M164.0 26.5h0.8M159.0 45.3h0.8M169.4 44.6h0.8M158.3 30.6h0.8M168.3 26.0h0.8M174.8 46.7h0.8M160.7 37.5h0.8M161.9 43.0h0.8M163.0 46.7h0.8M171.7 32.4h0.8M178.6 55.1h0.8M165.5 47.3h0.8M171.6 40.1h0.8M169.0 42.5h0.8M173.6 21.9h0.8M166.3 48.5h0.8M163.4 45.0h0.8M169.8 38.0h0.8M171.2 42.8h0.8M160.1 38.3h0.8M167.9 31.2h0.8M167.3 27.9h0.8M170.7 34.8h0.8M172.0 50.6h0.8M173.0 30.9h0.8M166.7 32.6h0.8M168.7 39.5h0.8M172.4 36.8h0.8M163.2 39.5h0.8M168.2 44.3h0.8M156.4 50.5h0.8M163.5 41.4h0.8M152.7 36.6h0.8M165.3 41.4h0.8M159.1 29.2h0.8M169.2 42.3h0.8M175.1 37.0h0.8M164.8 28.5h0.8M167.4 33.2h0.8M173.5 48.2h0.8M161.3 42.7h0.8M161.9 40.9h0.8M172.2 31.4h0.8M173.4 28.2h0.8M171.4 45.9h0.8M163.3 43.6h0.8M167.3 40.4h0.8M167.5 28.1h0.8M168.3 36.1h0.8M158.3 47.5h0.8M169.1 41.5h0.8M170.9 37.2h0.8M165.3 37.8h0.8M163.3 33.8h0.8M162.1 49.5h0.8M160.9 49.9h0.8M162.6 44.2h0.8M163.1 38.0h0.8M157.3 39.5h0.8M163.2 36.3h0.8M153.6 30.8h0.8M166.6 46.0h0.8M168.3 38.4h0.8M164.7 51.7h0.8M162.7 36.1h0.8M169.2 32.8h0.8M165.2 38.1h0.8M169.5 34.6h0.8M173.0 30.4h0.8M164.7 43.7h0.8M168.0 30.8h0.8M171.3 36.7h0.8M154.6 36.5h0.8M169.0 38.3h0.8M163.8 36.6h0.8M170.0 28.8h0.8M162.0 42.9h0.8M162.6 34.1h0.8M175.5 50.7h0.8M176.6 30.0h0.8M174.3 28.7h0.8M169.3 55.0h0.8M173.4 29.6h0.8M168.5 26.8h0.8M172.0 39.3h0.8M173.1 41.6h0.8M171.4 39.5h0.8M159.8 35.7h0.8M175.3 39.0h0.8M179.7 32.5h0.8M165.8 33.4h0.8M157.3 35.5h0.8M171.8 42.1h0.8M176.8 34.5h0.8M161.5 45.6h0.8M157.0 52.8h0.8M180.0 38.2h0.8M171.8 50.9h0.8M166.0 34.6h0.8M168.5 39.9h0.8M182.9 24.4h0.8M174.3 20.4h0.8M177.5 33.2h0.8M170.8 35.4h0.8M164.8 39.8h0.8M174.6 52.6h0.8M155.1 39.1h0.8M168.0 36.7h0.8M177.7 40.7h0.8M165.8 39.4h0.8M165.4 45.2h0.8M167.4 43.0h0.8M175.5 49.5h0.8M174.2 33.2h0.8M173.8 34.5h0.8M176.9 35.8h0.8M177.5 33.0h0.8M166.1 43.2h0.8M170.7 46.7h0.8M167.2 31.3h0.8M183.2 38.7h0.8M164.9 26.7h0.8M170.7 40.9h0.8M169.5 40.0h0.8M172.5 29.7h0.8M168.4 49.4h0.8M167.8 40.0h0.8M158.5 41.3h0.8M162.2 48.8h0.8M150.0 43.2h0.8M164.4 27.4h0.8M168.4 46.0h0.8M169.0 46.6h0.8M167.8 43.5h0.8M167.8 38.1h0.8M154.7 51.7h0.8M175.0 41.8h0.8M168.9 44.5h0.8M170.5 38.5h0.8M162.1 28.1h0.8M167.3 36.4h0.8M162.1 40.1h0.8M159.8 43.8h0.8M178.0 52.5h0.8M172.2 24.8h0.8M164.3 31.1h0.8M175.6 40.3h0.8M162.0 37.6h0.8M161.5 39.3h0.8M162.5 50.2h0.8M162.1 40.9h0.8M160.1 44.8h0.8M175.6 39.5h0.8M178.9 44.7h0.8M164.6 53.0h0.8M163.5 48.4h0.8M170.8 39.1h0.8M167.6 28.6h0.8M163.1 49.0h0.8M164.5 35.3h0.8M179.0 34.5h0.8M165.6 51.5h0.8M159.9 27.2h0.8M166.8 36.9h0.8M170.7 53.2h0.8M165.5 36.4h0.8M172.2 36.4h0.8M172.7 33.6h0.8M162.3 33.5h0.8M167.1 42.7h0.8M160.8 40.3h0.8M163.9 54.6h0.8M164.4 37.7h0.8M161.6 40.9h0.8M164.9 45.1h0.8M169.4 45.6h0.8M167.8 40.4h0.8M175.4 37.8h0.8M170.4 34.4h0.8M162.7 39.0h0.8M170.2 43.0h0.8M166.0 36.4h0.8M155.6 47.4h0.8M173.9 38.1h0.8M161.1 33.5h0.8M168.1 41.2h0.8M166.9 47.3h0.8M162.5 39.2h0.8M168.5 50.8h0.8M163.7 34.5h0.8M169.5 49.0h0.8M167.5 33.5h0.8M170.3 25.2h0.8M170.5 49.7h0.8M168.8 41.2h0.8M162.2 36.9h0.8M163.2 48.6h0.8M165.9 25.5h0.8M172.4 28.1h0.8M165.9 48.7h0.8M164.2 32.7h0.8M166.9 49.0h0.8M161.6 54.7h0.8M157.4 43.2h0.8M167.8 41.3h0.8M159.7 41.6h0.8M158.7 34.2h0.8M171.6 35.4h0.8M176.8 26.6h0.8M169.9 36.5h0.8M160.5 36.5h0.8M174.3 27.7h0.8M160.6 39.4h0.8M174.4 27.6h0.8M167.9 50.0h0.8M172.5 23.2h0.8M166.4 34.9h0.8M171.6 46.1h0.8M171.4 41.4h0.8M170.6 42.8h0.8M164.3 30.3h0.8M164.2 47.8h0.8M171.2 32.6h0.8M163.5 26.3h0.8M165.5 33.8h0.8M169.5 38.7h0.8M163.7 46.7h0.8M165.8 49.1h0.8M162.6 45.2h0.8M164.6 36.0h0.8M167.2 28.4h0.8M171.3 32.4h0.8M163.5 47.2h0.8M163.3 45.3h0.8M176.5 44.4h0.8M174.8 45.2h0.8M161.7 33.0h0.8M172.4 31.1h0.8M165.6 40.3h0.8M166.6 36.3h0.8M164.1 42.8h0.8M167.3 28.2h0.8M162.4 33.9h0.8M158.2 42.5h0.8M170.6 41.8h0.8M165.7 35.6h0.8M167.3 33.3h0.8M170.0 36.4h0.8M155.7 30.2h0.8M168.1 51.1h0.8M179.2 43.8h0.8M163.9 40.0h0.8M174.5 27.6h0.8M175.3 24.2h0.8M170.8 41.9h0.8M163.0 44.8h0.8M164.8 43.2h0.8M167.0 31.7h0.8M165.7 35.5h0.8M155.2 26.9h0.8M167.8 41.0h0.8M170.0 49.7h0.8M174.9 39.4h0.8M173.5 32.2h0.8M161.3 38.4h0.8M164.5 40.0h0.8M165.7 36.1h0.8M168.2 28.5h0.8M171.8 42.6h0.8M161.0 36.9h0.8M167.6 35.2h0.8M160.7 46.4h0.8M170.4 35.5h0.8M178.3 45.2h0.8M165.4 34.5h0.8M167.5 36.8h0.8M153.2 54.5h0.8M174.8 54.1h0.8M165.5 40.0h0.8M171.2 45.4h0.8M176.7 41.7h0.8M178.4 35.3h0.8M169.2 40.6h0.8M165.4 42.3h0.8M159.8 52.3h0.8M161.5 45.7h0.8M172.2 29.4h0.8M175.4 30.4h0.8M175.3 33.1h0.8M170.1 45.4h0.8M163.8 40.7h0.8M182.2 32.9h0.8M174.1 50.1h0.8M165.2 30.7h0.8M170.2 37.4h0.8M166.6 35.3h0.8M164.2 49.7h0.8M174.0 33.2h0.8M175.1 35.5h0.8M164.6 47.1h0.8M173.7 37.9h0.8M170.7 38.6h0.8M179.0 41.5h0.8M175.4 19.0h0.8M163.3 54.3h0.8M160.0 49.6h0.8M177.2 40.1h0.8M172.3 36.3h0.8M171.3 31.0h0.8M164.7 45.9h0.8M166.9 35.7h0.8M163.8 43.9h0.8M158.0 49.6h0.8M165.3 39.1h0.8M175.1 41.1h0.8M168.1 36.5h0.8M158.6 46.8h0.8M163.9 34.4h0.8M162.9 33.6h0.8M167.5 37.8h0.8M168.1 30.1h0.8M167.8 42.5h0.8M176.6 41.5h0.8M164.0 40.2h0.8M169.2 42.4h0.8M171.8 38.3h0.8M176.9 54.7h0.8M172.3 23.8h0.8M165.1 49.2h0.8M156.8 31.7h0.8M159.7 36.3h0.8M176.1 37.6h0.8M162.3 27.9h0.8M176.0 29.2h0.8M169.2 42.8h0.8M169.8 25.9h0.8M164.5 38.2h0.8M159.2 25.8h0.8M166.2 25.6h0.8M161.4 28.6h0.8M161.8 45.7h0.8M161.1 29.4h0.8M165.7 32.9h0.8M169.2 28.2h0.8M167.9 34.7h0.8M170.4 23.6h0.8M178.0 42.6h0.8M171.3 39.5h0.8M166.6 45.4h0.8M157.8 41.7h0.8M169.8 52.6h0.8M160.6 32.9h0.8M168.7 22.9h0.8M167.8 42.5h0.8M155.9 45.6h0.8M171.8 47.2h0.8M161.7 28.4h0.8M170.9 29.1h0.8M169.1 35.0h0.8M163.3 33.9h0.8M161.3 45.3h0.8M169.8 43.1h0.8M172.7 51.8h0.8M162.7 43.2h0.8M171.7 34.0h0.8M160.9 39.9h0.8M156.3 44.5h0.8M176.3 31.5h0.8M175.1 24.5h0.8M172.4 37.6h0.8M168.7 30.7h0.8M179.9 39.8h0.8M155.5 50.5h0.8M168.9 48.2h0.8M168.9 28.6h0.8M169.0 33.4h0.8M165.4 35.6h0.8" stroke="#555" stroke-opacity="0.27" stroke-width="0.8" fill="none"/>
<path d="M166.9 45.0h0.8M171.9 52.5h0.8M159.1 46.8h0.8M167.0 48.3h0.8M171.6 47.6h0.8M170.5 41.8h0.8M159.6 50.6h0.8M172.2 41.8h0.8M172.6 47.2h0.8M156.4 48.0h0.8M162.7 48.9h0.8M164.0 42.5h0.8M160.3 44.3h0.8M171.4 42.7h0.8M158.9 52.2h0.8M175.0 47.3h0.8M164.7 40.9h0.8M159.9 46.9h0.8M172.6 41.4h0.8M167.0 44.1h0.8M165.9 46.7h0.8M176.1 42.9h0.8M170.7 48.7h0.8M165.8 44.5h0.8M161.2 48.6h0.8M164.7 42.8h0.8M167.3 42.1h0.8M162.5 44.0h0.8M173.4 44.3h0.8M169.3 40.1h0.8M158.6 51.1h0.8M165.3 39.8h0.8M166.5 47.0h0.8M159.5 42.0h0.8M168.1 41.9h0.8M170.5 48.2h0.8M168.9 43.6h0.8M166.8 42.9h0.8M166.4 46.1h0.8M165.7 48.3h0.8M178.3 43.2h0.8M168.5 47.8h0.8M169.8 44.2h0.8M164.9 48.4h0.8M169.7 46.7h0.8M163.5 47.1h0.8M170.5 44.4h0.8M169.8 52.3h0.8M158.8 47.1h0.8M161.9 40.4h0.8M166.0 46.8h0.8M167.2 41.1h0.8M160.7 43.1h0.8M167.1 42.2h0.8M160.5 50.9h0.8M163.4 44.5h0.8M164.6 43.0h0.8M167.2 44.0h0.8M169.7 41.0h0.8M160.5 51.6h0.8M166.7 47.6h0.8M172.1 46.9h0.8M167.2 39.7h0.8M160.0 48.3h0.8M169.9 46.9h0.8M159.8 37.8h0.8M162.4 41.0h0.8M167.7 41.5h0.8M173.9 42.9h0.8M164.6 47.9h0.8M168.4 41.9h0.8M170.6 51.5h0.8M161.6 44.2h0.8M162.3 38.4h0.8M169.7 47.4h0.8M171.3 46.5h0.8M158.2 44.9h0.8M164.1 41.0h0.8M162.2 47.6h0.8M165.7 51.7h0.8M169.1 38.5h0.8M170.9 49.2h0.8M167.1 40.9h0.8M174.7 40.5h0.8M166.6 38.5h0.8M161.5 39.2h0.8M171.8 49.0h0.8M165.2 40.4h0.8M166.7 46.3h0.8M160.3 41.1h0.8M166.6 47.4h0.8M167.3 46.5h0.8M161.5 36.5h0.8M168.4 41.9h0.8M166.5 43.7h0.8M169.1 42.4h0.8M173.3 45.1h0.8M169.3 47.1h0.8M171.6 46.4h0.8M159.3 42.9h0.8M175.2 46.6h0.8M169.5 46.6h0.8M164.2 42.7h0.8M164.2 49.0h0.8M168.6 51.1h0.8M169.2 51.5h0.8M169.0 40.9h0.8M174.7 46.2h0.8M172.2 45.7h0.8M165.6 45.6h0.8M162.1 40.9h0.8M163.1 43.2h0.8M161.0 44.6h0.8M168.3 52.0h0.8M175.1 44.8h0.8M170.9 44.2h0.8M168.7 44.9h0.8M164.6 45.3h0.8M160.5 46.5h0.8M165.7 41.3h0.8M165.4 46.9h0.8M164.0 46.6h0.8M169.5 50.4h0.8M162.2 44.6h0.8M169.3 50.2h0.8M168.2 47.6h0.8M160.5 43.0h0.8M174.4 44.0h0.8M176.6 42.5h0.8M165.8 39.5h0.8M169.8 45.9h0.8M176.0 45.6h0.8M165.9 40.1h0.8M166.6 48.3h0.8M170.3 49.2h0.8M170.8 44.8h0.8M169.7 45.6h0.8M161.1 50.9h0.8M168.7 41.4h0.8M168.7 46.0h0.8M171.4 50.0h0.8M153.5 46.9h0.8M173.8 41.7h0.8M158.7 46.0h0.8M168.5 46.2h0.8M162.1 43.4h0.8M167.9 47.6h0.8M176.8 46.0h0.8M164.3 36.8h0.8M171.8 44.5h0.8M166.5 41.6h0.8M170.3 38.8h0.8M167.5 45.4h0.8M168.3 49.5h0.8M166.6 45.3h0.8M170.8 39.6h0.8M165.7 45.2h0.8M171.3 42.2h0.8M170.6 46.3h0.8M160.4 39.9h0.8M160.6 45.5h0.8M167.9 47.5h0.8M170.7 43.1h0.8M171.8 47.8h0.8M169.1 46.7h0.8M161.3 46.3h0.8M162.4 40.9h0.8M165.4 45.5h0.8M166.8 43.9h0.8M162.5 45.6h0.8M163.7 40.1h0.8M167.4 50.1h0.8M165.2 41.3h0.8M173.2 51.0h0.8M165.7 44.3h0.8M167.9 55.3h0.8M167.6 48.5h0.8M169.0 38.7h0.8M162.1 40.7h0.8M168.9 45.4h0.8M175.0 44.1h0.8M168.4 45.3h0.8M167.6 53.1h0.8M168.3 50.1h0.8M172.8 42.9h0.8M170.1 43.7h0.8M167.5 45.6h0.8M167.1 43.4h0.8M174.0 44.1h0.8M170.2 50.9h0.8M169.8 48.6h0.8M173.2 48.8h0.8M174.7 40.0h0.8M175.8 45.1h0.8M159.2 42.8h0.8M160.7 44.9h0.8M160.3 41.5h0.8M168.3 45.5h0.8M163.4 44.2h0.8M166.6 45.3h0.8" stroke="#555" stroke-opacity="0.33" stroke-width="0.8" fill="none"/>
<path d="M173.5 50.2h0.8M173.5 48.8h0.8M164.8 47.0h0.8M154.0 55.0h0.8M152.5 62.7h0.8M153.3 65.4h0.8M163.5 47.4h0.8M172.3 60.8h0.8M161.8 48.2h0.8M157.7 68.4h0.8M152.5 58.5h0.8M151.8 64.5h0.8M173.6 52.2h0.8M150.5 64.8h0.8M171.9 46.8h0.8M154.4 54.9h0.8M167.6 47.4h0.8M162.5 48.8h0.8M173.0 53.5h0.8M171.6 56.4h0.8M169.8 48.2h0.8M170.2 57.8h0.8M154.7 66.7h0.8M151.5 59.2h0.8M157.6 48.6h0.8M165.0 48.1h0.8M165.1 70.1h0.8M159.2 69.2h0.8M157.1 70.0h0.8M159.7 69.5h0.8M157.1 51.0h0.8M156.5 50.7h0.8M171.8 53.3h0.8M170.9 46.9h0.8M157.2 52.2h0.8M151.4 64.0h0.8M173.9 49.9h0.8M159.9 49.3h0.8M152.8 53.9h0.8M159.7 68.7h0.8M157.5 67.6h0.8M160.8 67.8h0.8M161.2 67.9h0.8M166.0 48.3h0.8M152.3 64.9h0.8M153.3 67.7h0.8M154.4 53.6h0.8M162.8 68.3h0.8M163.0 48.0h0.8M168.8 46.1h0.8M158.2 48.9h0.8M172.6 52.0h0.8M162.3 67.5h0.8M151.9 66.1h0.8M171.9 55.7h0.8M153.8 56.5h0.8M156.2 52.4h0.8M162.3 48.5h0.8M159.3 68.9h0.8M155.5 51.5h0.8M158.9 70.4h0.8M157.0 67.8h0.8M160.5 49.1h0.8M161.1 69.0h0.8M155.7 55.3h0.8M158.2 47.5h0.8M154.3 52.1h0.8M171.6 57.9h0.8M151.9 60.9h0.8M169.6 47.7h0.8M157.2 50.1h0.8M173.3 51.6h0.8M161.3 70.6h0.8M153.6 52.0h0.8M153.7 67.0h0.8M165.7 66.6h0.8M171.1 46.4h0.8M160.2 66.7h0.8M160.3 48.5h0.8M155.1 53.9h0.8M172.1 49.8h0.8M155.2 48.7h0.8M168.5 47.3h0.8M169.2 60.6h0.8M152.5 65.5h0.8M171.8 52.5h0.8M172.3 51.4h0.8M155.0 51.4h0.8M156.2 49.3h0.8M152.5 55.0h0.8M165.1 66.4h0.8M173.8 47.2h0.8M156.2 49.6h0.8M151.9 62.6h0.8M172.8 49.7h0.8M169.0 48.4h0.8M157.7 50.1h0.8M167.3 62.7h0.8M154.8 67.5h0.8M169.1 46.9h0.8M162.5 68.2h0.8M171.4 60.6h0.8M156.1 51.1h0.8M166.1 67.2h0.8M172.8 47.1h0.8M160.4 48.1h0.8M152.4 56.3h0.8M174.0 50.0h0.8M153.0 64.6h0.8M152.6 65.8h0.8M155.7 52.6h0.8M152.5 65.1h0.8M168.0 46.8h0.8M170.7 54.0h0.8M172.4 49.5h0.8M151.6 66.4h0.8M174.6 51.2h0.8M165.0 47.6h0.8M162.5 47.7h0.8M172.6 50.7h0.8" stroke="#444" stroke-opacity="0.3" stroke-width="0.8" fill="none"/>
<g filter="url(#b)">
<path d="M173.10 47.30C172.33 46.80 169.85 47.82 168.00 48.00C166.15 48.18 163.83 47.93 162.00 48.40C160.17 48.87 158.40 49.53 157.00 50.80C155.60 52.07 154.45 54.13 153.60 56.00C152.75 57.87 151.97 60.23 151.90 62.00C151.83 63.77 152.18 65.53 153.20 66.60C154.22 67.67 156.20 68.27 158.00 68.40C159.80 68.53 162.28 68.30 164.00 67.40C165.72 66.50 167.13 64.82 168.30 63.00C169.47 61.18 170.28 58.50 171.00 56.50C171.72 54.50 172.25 52.53 172.60 51.00C172.95 49.47 173.87 47.80 173.10 47.30Z" fill="#0a4cff"/>
</g>
<g filter="url(#b)">
<path d="M153.00 61.00C153.00 59.22 153.58 57.00 154.50 55.50C155.42 54.00 156.92 52.70 158.50 52.00C160.08 51.30 162.42 51.17 164.00 51.30C165.58 51.43 167.33 51.93 168.00 52.80C168.67 53.67 168.33 55.05 168.00 56.50C167.67 57.95 166.83 59.95 166.00 61.50C165.17 63.05 164.25 64.78 163.00 65.80C161.75 66.82 159.92 67.53 158.50 67.60C157.08 67.67 155.42 67.30 154.50 66.20C153.58 65.10 153.00 62.78 153.00 61.00Z" fill="#14b4ff"/>
<path d="M154.12 61.13C154.12 59.74 154.58 58.01 155.29 56.84C156.01 55.67 157.18 54.66 158.41 54.11C159.65 53.57 161.47 53.46 162.70 53.57C163.94 53.67 165.30 54.06 165.82 54.74C166.34 55.41 166.08 56.49 165.82 57.62C165.56 58.75 164.91 60.31 164.26 61.52C163.61 62.73 162.90 64.08 161.92 64.88C160.95 65.67 159.52 66.23 158.41 66.28C157.31 66.33 156.01 66.05 155.29 65.19C154.58 64.33 154.12 62.52 154.12 61.13Z" fill="#20f040"/>
<path d="M155.29 61.27C155.29 60.29 155.62 59.07 156.12 58.24C156.62 57.42 157.45 56.70 158.32 56.32C159.19 55.94 160.47 55.86 161.34 55.94C162.22 56.01 163.18 56.28 163.54 56.76C163.91 57.24 163.73 58.00 163.54 58.80C163.36 59.59 162.90 60.69 162.44 61.55C161.99 62.40 161.48 63.35 160.79 63.91C160.11 64.47 159.10 64.86 158.32 64.90C157.54 64.94 156.62 64.73 156.12 64.13C155.62 63.52 155.29 62.25 155.29 61.27Z" fill="#f8f020"/>
<path d="M156.06 61.36C156.06 60.65 156.29 59.76 156.66 59.16C157.03 58.56 157.63 58.04 158.26 57.76C158.89 57.48 159.83 57.43 160.46 57.48C161.09 57.53 161.79 57.73 162.06 58.08C162.33 58.43 162.19 58.98 162.06 59.56C161.93 60.14 161.59 60.94 161.26 61.56C160.93 62.18 160.56 62.87 160.06 63.28C159.56 63.69 158.83 63.97 158.26 64.00C157.69 64.03 157.03 63.88 156.66 63.44C156.29 63.00 156.06 62.07 156.06 61.36Z" fill="#ff8000"/>
<path d="M156.98 61.44C156.98 60.96 157.11 60.36 157.31 59.95C157.51 59.55 157.84 59.20 158.19 59.01C158.54 58.82 159.05 58.78 159.40 58.82C159.75 58.86 160.13 58.99 160.28 59.22C160.42 59.46 160.35 59.83 160.28 60.22C160.20 60.61 160.02 61.15 159.84 61.57C159.65 61.99 159.45 62.46 159.18 62.73C158.90 63.01 158.50 63.20 158.19 63.22C157.88 63.24 157.51 63.14 157.31 62.84C157.11 62.55 156.98 61.92 156.98 61.44Z" fill="#ff1800"/>
</g>
<path d="M168.2 75.0L192.1 17.8H213.3V75.0Z" stroke="#707070" stroke-width="0.75" fill="none"/>
<text x="178.7" y="27.8" font-size="5.7" text-anchor="start" font-weight="bold" fill="#111" stroke="#111" stroke-width="0.28" >GFP+</text>
<text x="178.7" y="33.7" font-size="5.7" text-anchor="start" font-weight="bold" fill="#111" stroke="#111" stroke-width="0.28" >%P:0,01</text>
<rect x="290.4" y="17.8" width="68.0" height="57.2" fill="#fff" stroke="#999" stroke-width="0.9"/>
<path d="M290.7 19.8V73.0" stroke="#777" stroke-width="0.9" stroke-dasharray="0.8 1.0" fill="none"/>
<path d="M293.4 75.7H356.4" stroke="#888" stroke-width="0.7" stroke-dasharray="0.8 2.9" fill="none"/>
<path d="M321.4 44.5h0.8M315.9 36.0h0.8M316.0 33.8h0.8M305.7 53.2h0.8M316.9 36.4h0.8M307.3 35.2h0.8M314.7 41.1h0.8M328.6 41.9h0.8M317.6 34.0h0.8M300.6 35.2h0.8M311.9 28.8h0.8M314.5 26.1h0.8M318.4 42.3h0.8M303.0 38.0h0.8M317.0 35.0h0.8M313.6 33.8h0.8M309.2 33.4h0.8M317.4 39.3h0.8M325.3 30.9h0.8M315.4 41.3h0.8M307.7 36.6h0.8M319.6 36.4h0.8M305.2 27.2h0.8M312.3 39.0h0.8M305.6 34.5h0.8M320.3 48.9h0.8M309.8 33.9h0.8M315.3 44.9h0.8M315.8 44.5h0.8M317.2 34.1h0.8M312.3 29.6h0.8M300.2 46.8h0.8M308.8 36.4h0.8M312.4 22.9h0.8M316.9 24.0h0.8M302.7 34.1h0.8M321.3 41.0h0.8M316.5 52.4h0.8M320.6 32.6h0.8M319.4 49.1h0.8M319.1 50.2h0.8M306.7 24.7h0.8M327.5 28.4h0.8M304.3 35.7h0.8M311.0 39.1h0.8M310.2 28.9h0.8M312.0 46.0h0.8M304.2 31.8h0.8M311.4 33.0h0.8M315.5 42.7h0.8M318.0 32.8h0.8M319.6 23.5h0.8M315.3 38.2h0.8M321.0 26.4h0.8M320.0 36.9h0.8M314.9 52.5h0.8M313.9 30.5h0.8M300.1 47.3h0.8M307.9 37.2h0.8M310.2 28.4h0.8M320.6 30.6h0.8M308.5 31.1h0.8M310.7 47.0h0.8M310.2 26.9h0.8M318.9 37.6h0.8M319.3 55.7h0.8M309.7 38.6h0.8M312.9 35.8h0.8M307.2 44.6h0.8M306.5 37.9h0.8M319.6 30.5h0.8M306.0 28.6h0.8M314.9 42.8h0.8M302.6 35.2h0.8M325.7 38.3h0.8M315.7 28.8h0.8M315.9 49.8h0.8M313.1 32.3h0.8M317.0 42.0h0.8M309.2 37.4h0.8M307.9 47.0h0.8M309.5 39.4h0.8M304.6 50.9h0.8M326.9 34.1h0.8M305.5 50.7h0.8M310.8 31.2h0.8M312.9 32.2h0.8M317.2 28.3h0.8M310.5 20.8h0.8M314.3 27.6h0.8M313.2 27.0h0.8M321.8 32.6h0.8M308.3 33.2h0.8M308.6 42.5h0.8M318.4 41.4h0.8M309.4 47.4h0.8M313.6 37.3h0.8M318.3 47.8h0.8M308.8 36.7h0.8M319.8 40.6h0.8M321.6 35.0h0.8M312.4 32.6h0.8M304.5 48.2h0.8M304.0 35.1h0.8M308.0 38.2h0.8M305.3 24.1h0.8M323.8 20.0h0.8M312.7 41.7h0.8M321.8 25.6h0.8M309.5 39.2h0.8M311.2 50.5h0.8M315.4 30.2h0.8M309.0 35.9h0.8M316.7 37.4h0.8M314.0 49.4h0.8M315.7 40.7h0.8M315.6 38.1h0.8M318.5 36.9h0.8M311.1 43.4h0.8M310.8 47.4h0.8M315.1 27.9h0.8M313.8 28.2h0.8M321.4 36.7h0.8M316.8 35.7h0.8M320.8 27.4h0.8M314.6 29.1h0.8M316.0 45.0h0.8M317.5 48.1h0.8M313.8 42.5h0.8M309.8 28.8h0.8M318.9 21.5h0.8M307.4 37.4h0.8M299.4 48.1h0.8M314.1 46.6h0.8M318.9 43.5h0.8M302.7 42.7h0.8M313.5 33.1h0.8M317.7 51.8h0.8M306.6 32.7h0.8M307.2 39.9h0.8M313.9 27.0h0.8M313.6 43.1h0.8M325.5 27.0h0.8M311.9 37.0h0.8M317.4 44.2h0.8M310.5 46.2h0.8M311.8 30.7h0.8M306.0 42.6h0.8M316.5 43.8h0.8M302.9 47.6h0.8M318.3 40.3h0.8M314.5 45.3h0.8M312.3 27.7h0.8M317.7 40.9h0.8M310.7 34.8h0.8M311.7 38.3h0.8M315.2 37.6h0.8M310.5 35.4h0.8M315.1 38.2h0.8M321.9 42.2h0.8M299.5 37.5h0.8M314.0 27.0h0.8M312.9 34.4h0.8M312.9 29.0h0.8M323.5 35.9h0.8M310.4 31.2h0.8M324.1 25.6h0.8M305.4 35.2h0.8M313.5 35.6h0.8M315.4 34.2h0.8M318.5 25.1h0.8M310.0 40.2h0.8M317.0 36.2h0.8M304.4 46.1h0.8M314.6 29.7h0.8M315.1 28.7h0.8M314.1 44.0h0.8M329.2 40.5h0.8M317.1 24.5h0.8M317.0 36.6h0.8M318.8 34.8h0.8M310.9 37.6h0.8M307.2 50.2h0.8M317.2 29.4h0.8M306.7 32.8h0.8M307.9 43.3h0.8M307.1 22.8h0.8M310.4 42.0h0.8M319.2 35.8h0.8M312.4 38.1h0.8M305.1 30.1h0.8M312.6 38.9h0.8M308.2 33.5h0.8M304.8 41.3h0.8M306.8 37.3h0.8M313.1 26.2h0.8M317.0 43.0h0.8M324.5 44.2h0.8M304.6 30.9h0.8M300.9 21.5h0.8M307.5 39.3h0.8M308.7 36.2h0.8M309.6 41.2h0.8M309.9 30.1h0.8M324.8 45.2h0.8M325.1 23.0h0.8M309.8 36.7h0.8M305.8 34.8h0.8M311.9 27.1h0.8M322.3 27.0h0.8M317.6 33.4h0.8M324.8 27.4h0.8M312.1 51.9h0.8M322.0 41.6h0.8M310.2 39.6h0.8M308.9 51.8h0.8M322.0 37.9h0.8M317.9 41.2h0.8M315.9 28.9h0.8M303.9 50.5h0.8M306.9 35.5h0.8M310.5 30.9h0.8M314.0 28.1h0.8M322.8 29.6h0.8M322.4 32.3h0.8M306.2 50.8h0.8M321.6 31.7h0.8M314.5 43.6h0.8M311.9 36.7h0.8M312.2 41.7h0.8M306.8 24.1h0.8M317.4 29.1h0.8M310.4 51.9h0.8M307.5 37.3h0.8M313.1 32.5h0.8M324.3 30.3h0.8M316.8 34.8h0.8M310.5 45.7h0.8M327.6 31.5h0.8M309.8 53.4h0.8M325.6 42.1h0.8M326.3 38.6h0.8M297.5 52.1h0.8M305.5 33.8h0.8M305.3 53.7h0.8M312.7 41.9h0.8M312.0 23.0h0.8M302.5 41.1h0.8M319.7 39.0h0.8M303.1 24.1h0.8M312.9 33.0h0.8M304.9 40.2h0.8M313.5 42.9h0.8M319.9 33.3h0.8M311.0 44.8h0.8M316.0 47.1h0.8M305.7 34.7h0.8M326.2 31.9h0.8M314.2 33.2h0.8M299.3 55.0h0.8M315.1 47.6h0.8M314.0 39.2h0.8M316.2 37.7h0.8M320.0 43.1h0.8M301.4 55.5h0.8M307.0 39.6h0.8M314.2 25.7h0.8M304.6 53.4h0.8M307.0 40.4h0.8M308.2 42.8h0.8M314.2 31.4h0.8M313.6 34.8h0.8M317.0 27.3h0.8M320.4 37.3h0.8M324.2 28.4h0.8M303.4 41.9h0.8M303.0 41.3h0.8M313.9 35.3h0.8M318.4 44.5h0.8M316.2 29.2h0.8M311.7 27.2h0.8M312.4 37.1h0.8M316.9 37.5h0.8M311.3 35.3h0.8M313.1 31.2h0.8M310.8 28.9h0.8M323.1 52.3h0.8M314.4 50.6h0.8M322.2 24.7h0.8M314.0 33.8h0.8M308.4 36.7h0.8M318.9 34.5h0.8M297.4 45.3h0.8M304.3 45.0h0.8M323.2 33.2h0.8M308.8 45.1h0.8M312.2 31.8h0.8M316.6 35.7h0.8M321.3 33.3h0.8M310.3 35.4h0.8M309.2 49.1h0.8M308.2 45.5h0.8M312.3 39.4h0.8M317.9 30.3h0.8M323.0 39.9h0.8M323.9 40.6h0.8M315.6 38.6h0.8M311.1 46.6h0.8M318.9 48.2h0.8M322.1 38.5h0.8M309.2 31.5h0.8M309.4 41.6h0.8M315.0 35.1h0.8M314.6 40.5h0.8M306.4 41.8h0.8M318.2 43.8h0.8M313.3 31.6h0.8M318.4 35.2h0.8M321.4 50.1h0.8M306.4 38.6h0.8M314.9 37.2h0.8M324.6 28.6h0.8M309.4 40.1h0.8M310.9 39.6h0.8M310.3 45.7h0.8M322.3 28.6h0.8M305.6 38.0h0.8M322.4 34.1h0.8M312.7 50.6h0.8M324.7 24.7h0.8M315.1 32.0h0.8M313.8 43.3h0.8M321.2 28.4h0.8M315.3 30.2h0.8M321.0 42.0h0.8M319.2 38.4h0.8M306.3 39.6h0.8M315.4 36.8h0.8M312.9 34.1h0.8M309.7 47.9h0.8M322.4 36.2h0.8M308.2 53.7h0.8M324.2 47.4h0.8M308.3 32.2h0.8M320.1 33.4h0.8M322.2 30.9h0.8M304.7 39.3h0.8M313.6 35.3h0.8M301.9 38.1h0.8M318.1 33.3h0.8M319.0 28.1h0.8M307.4 37.6h0.8M307.0 39.1h0.8M308.0 38.2h0.8M315.1 28.6h0.8M314.3 34.3h0.8M300.9 36.9h0.8M309.4 40.4h0.8M309.5 26.4h0.8M318.7 32.9h0.8M312.5 38.2h0.8M316.9 30.7h0.8M321.8 49.5h0.8M303.1 30.5h0.8M298.8 54.6h0.8M297.9 47.3h0.8M309.8 42.7h0.8M309.1 47.5h0.8M316.3 43.9h0.8M308.8 49.2h0.8M317.9 38.3h0.8M309.6 48.1h0.8M313.5 50.4h0.8M320.8 35.9h0.8M321.9 43.5h0.8M302.1 39.2h0.8M310.4 44.3h0.8M312.9 27.9h0.8M314.7 44.1h0.8M314.6 50.7h0.8M308.4 32.0h0.8M308.9 37.4h0.8M312.1 46.2h0.8M317.1 42.4h0.8M303.9 34.6h0.8M317.6 37.7h0.8M305.7 32.7h0.8M304.0 41.1h0.8M308.0 39.0h0.8M317.5 31.1h0.8M307.6 50.2h0.8M315.8 22.2h0.8M318.5 38.7h0.8M323.3 28.2h0.8M306.2 36.7h0.8M314.8 43.7h0.8M309.3 51.7h0.8M310.5 22.6h0.8M310.5 30.3h0.8M313.2 45.3h0.8M314.2 32.4h0.8M318.1 35.5h0.8M312.6 21.5h0.8M320.1 49.4h0.8M311.5 29.8h0.8M323.9 35.8h0.8M314.0 41.7h0.8M311.9 29.3h0.8M314.6 48.7h0.8M314.1 38.4h0.8M314.5 45.6h0.8M316.1 29.9h0.8M308.1 35.8h0.8M304.1 40.8h0.8M314.3 37.7h0.8M304.3 41.1h0.8M316.2 40.7h0.8M306.9 23.3h0.8M320.9 39.3h0.8M308.5 44.0h0.8M316.6 31.0h0.8M304.6 43.2h0.8M311.4 42.3h0.8M318.4 37.8h0.8M313.4 45.9h0.8M312.5 34.0h0.8M314.7 31.6h0.8M310.9 32.9h0.8M307.8 44.2h0.8M320.2 23.9h0.8M309.6 34.1h0.8M307.1 34.3h0.8M313.8 35.1h0.8M314.3 43.4h0.8M302.6 46.2h0.8M308.9 30.1h0.8M315.9 51.8h0.8M317.4 33.6h0.8M306.9 35.8h0.8M314.1 34.2h0.8M312.1 44.1h0.8M314.3 34.2h0.8M318.2 32.1h0.8M312.8 48.2h0.8M320.6 44.1h0.8M320.6 35.0h0.8M310.5 46.3h0.8M311.2 33.3h0.8M311.1 31.0h0.8M317.8 46.2h0.8M309.1 43.9h0.8M326.2 21.9h0.8M314.1 41.5h0.8M305.2 41.9h0.8M316.3 43.0h0.8M310.1 32.2h0.8M315.6 45.0h0.8M322.3 33.7h0.8M306.1 41.0h0.8M313.6 43.9h0.8M307.7 33.7h0.8M309.5 32.4h0.8M311.6 37.8h0.8M328.6 38.5h0.8M303.5 40.8h0.8M310.0 47.7h0.8M316.9 37.4h0.8M303.4 43.8h0.8M321.0 41.3h0.8M321.4 32.2h0.8M320.6 35.1h0.8M318.3 44.4h0.8M320.0 33.0h0.8M309.8 40.8h0.8M319.5 45.3h0.8M307.0 48.6h0.8M306.4 33.5h0.8M319.6 38.4h0.8M308.3 30.6h0.8M307.6 36.1h0.8M307.3 30.1h0.8M320.9 30.3h0.8M322.1 19.4h0.8M315.8 23.9h0.8M323.4 43.4h0.8M324.9 34.0h0.8M312.4 39.5h0.8M311.4 29.6h0.8M307.4 29.2h0.8M305.3 53.9h0.8M326.4 36.5h0.8M313.8 39.4h0.8M314.3 40.2h0.8M320.0 28.4h0.8M316.5 35.1h0.8M316.9 41.3h0.8M312.3 19.8h0.8M312.1 53.4h0.8M324.6 45.9h0.8M306.1 30.0h0.8M315.6 38.3h0.8M312.9 27.3h0.8M301.4 48.6h0.8M322.6 32.0h0.8M310.5 53.4h0.8M312.3 43.8h0.8M313.9 30.9h0.8M302.1 35.0h0.8M321.9 40.7h0.8M313.9 43.6h0.8M328.3 38.2h0.8M315.8 46.5h0.8M312.3 40.0h0.8M303.7 34.6h0.8M311.1 31.1h0.8M318.7 37.7h0.8M304.2 36.7h0.8M314.1 47.9h0.8M327.1 30.6h0.8M310.9 48.4h0.8M309.7 35.5h0.8M307.3 37.7h0.8M311.1 35.8h0.8M320.4 42.6h0.8M310.9 46.5h0.8M309.4 42.7h0.8M313.0 38.5h0.8M309.5 34.7h0.8M308.4 30.7h0.8M305.1 46.1h0.8M323.4 29.8h0.8M322.5 46.0h0.8M305.6 32.4h0.8M308.6 32.5h0.8M297.3 43.7h0.8M315.9 37.3h0.8M313.8 47.9h0.8" stroke="#555" stroke-opacity="0.27" stroke-width="0.8" fill="none"/>
<path d="M314.4 46.0h0.8M315.5 41.4h0.8M314.2 45.8h0.8M309.9 42.9h0.8M307.0 44.7h0.8M307.6 45.5h0.8M312.9 43.5h0.8M315.2 43.0h0.8M320.0 45.4h0.8M307.4 42.1h0.8M314.1 50.0h0.8M310.0 49.3h0.8M313.3 48.5h0.8M309.9 41.3h0.8M310.9 44.2h0.8M308.2 39.8h0.8M315.7 47.6h0.8M312.3 42.4h0.8M317.3 38.0h0.8M315.7 44.8h0.8M315.5 45.3h0.8M317.0 46.1h0.8M312.5 47.0h0.8M308.3 44.8h0.8M314.2 38.6h0.8M314.9 45.6h0.8M316.5 44.2h0.8M317.9 47.4h0.8M315.3 32.6h0.8M312.8 44.9h0.8M312.7 40.4h0.8M316.6 42.5h0.8M311.8 45.3h0.8M317.6 42.7h0.8M308.0 45.4h0.8M313.5 37.4h0.8M309.7 44.3h0.8M304.6 48.1h0.8M307.0 46.8h0.8M307.8 42.6h0.8M309.5 42.8h0.8M304.1 41.5h0.8M316.3 45.6h0.8M321.6 37.4h0.8M318.8 44.4h0.8M306.7 39.0h0.8M310.2 44.3h0.8M310.3 49.3h0.8M312.1 41.7h0.8M308.4 40.0h0.8M312.0 43.4h0.8M308.8 45.1h0.8M309.2 42.2h0.8M317.1 47.8h0.8M310.7 50.0h0.8M310.6 48.1h0.8M313.3 42.4h0.8M312.3 42.7h0.8M313.4 43.7h0.8M311.8 40.7h0.8M314.4 47.2h0.8M307.8 44.0h0.8M316.4 47.0h0.8M308.9 52.7h0.8M308.9 46.5h0.8M314.1 53.1h0.8M309.7 48.5h0.8M314.7 41.0h0.8M312.6 41.2h0.8M313.5 44.7h0.8M303.8 46.2h0.8M313.9 47.6h0.8M312.8 41.2h0.8M315.6 47.5h0.8M303.0 47.7h0.8M315.2 42.4h0.8M308.2 42.6h0.8M317.3 44.8h0.8M315.8 42.5h0.8M306.4 41.2h0.8M321.9 47.1h0.8M315.4 45.9h0.8M312.3 43.3h0.8M310.8 45.3h0.8M311.7 44.1h0.8M314.4 46.0h0.8M314.2 44.7h0.8M314.4 48.0h0.8M317.9 48.9h0.8M309.5 45.3h0.8M313.0 50.7h0.8M319.6 45.7h0.8M321.4 48.8h0.8M307.4 46.6h0.8M313.9 42.8h0.8M318.9 46.1h0.8M306.4 41.1h0.8M311.6 48.0h0.8M314.4 47.5h0.8M311.3 48.6h0.8M311.4 46.7h0.8M311.3 42.8h0.8M314.2 40.1h0.8M312.8 45.7h0.8M307.2 43.8h0.8M311.7 40.7h0.8M304.4 47.9h0.8M310.6 53.7h0.8M323.2 37.3h0.8M315.8 43.1h0.8M314.9 39.6h0.8M316.9 55.6h0.8M307.6 38.9h0.8M310.8 43.5h0.8M314.3 42.4h0.8M312.1 48.8h0.8M314.2 47.7h0.8M312.0 42.5h0.8M311.4 42.6h0.8M306.1 44.8h0.8M312.0 43.0h0.8M316.6 52.3h0.8M308.8 46.3h0.8M307.6 47.8h0.8M312.1 38.9h0.8M307.7 46.6h0.8M309.6 43.8h0.8M323.6 41.2h0.8M314.9 33.2h0.8M304.1 45.4h0.8M312.9 49.8h0.8M310.2 35.9h0.8M317.1 37.8h0.8M311.6 50.1h0.8M308.7 44.5h0.8M307.0 48.6h0.8M317.3 38.4h0.8M311.2 42.1h0.8M315.8 47.8h0.8M313.5 47.1h0.8M314.6 45.2h0.8M311.8 41.6h0.8M314.8 41.4h0.8M314.7 41.6h0.8M312.0 47.5h0.8M317.3 44.3h0.8M312.0 44.4h0.8M315.3 41.4h0.8M323.9 44.0h0.8M313.0 46.6h0.8M314.5 44.2h0.8M311.0 39.5h0.8M309.1 43.9h0.8M309.8 53.0h0.8M303.1 51.6h0.8M314.3 42.8h0.8M313.0 43.4h0.8M310.5 37.8h0.8M310.6 39.8h0.8M313.5 42.1h0.8M309.1 43.3h0.8M310.1 45.4h0.8M311.0 39.6h0.8M313.7 39.2h0.8M304.2 39.4h0.8M314.7 39.8h0.8M307.8 51.1h0.8M311.1 45.2h0.8M309.0 48.7h0.8M318.4 41.9h0.8M307.0 37.0h0.8M313.4 40.3h0.8M305.1 45.4h0.8M311.6 45.5h0.8M306.5 39.7h0.8M312.6 49.3h0.8M314.3 42.9h0.8M316.0 47.1h0.8M306.9 51.4h0.8M317.4 43.9h0.8M314.2 39.2h0.8M318.1 52.3h0.8M313.3 45.2h0.8M311.7 44.2h0.8M307.9 44.4h0.8M317.0 43.0h0.8M317.1 39.1h0.8M309.7 42.7h0.8M310.7 47.8h0.8M307.4 47.1h0.8M308.5 43.9h0.8M300.6 36.7h0.8M313.7 47.0h0.8M314.5 44.1h0.8M316.9 45.3h0.8M316.1 39.4h0.8M320.9 42.6h0.8M307.4 41.6h0.8M316.9 44.3h0.8M312.0 48.9h0.8" stroke="#555" stroke-opacity="0.33" stroke-width="0.8" fill="none"/>
<path d="M311.6 47.8h0.8M307.5 67.8h0.8M310.4 46.0h0.8M316.1 55.4h0.8M315.9 45.9h0.8M297.7 59.4h0.8M296.7 59.6h0.8M316.1 54.9h0.8M320.8 46.3h0.8M318.1 44.5h0.8M297.1 65.9h0.8M302.5 48.2h0.8M298.6 53.8h0.8M302.4 47.9h0.8M298.7 51.6h0.8M313.3 63.4h0.8M310.7 69.1h0.8M301.0 69.7h0.8M297.9 63.5h0.8M317.7 55.3h0.8M305.3 49.4h0.8M299.8 56.6h0.8M298.5 55.1h0.8M297.6 68.3h0.8M319.1 46.0h0.8M298.3 59.9h0.8M299.4 66.2h0.8M297.4 60.7h0.8M295.9 61.2h0.8M312.8 47.1h0.8M308.5 45.1h0.8M307.3 67.4h0.8M303.7 68.7h0.8M297.2 66.1h0.8M303.2 49.3h0.8M299.6 68.9h0.8M319.2 51.1h0.8M311.3 47.3h0.8M299.5 57.4h0.8M298.1 54.8h0.8M297.4 64.5h0.8M319.0 53.6h0.8M295.9 66.8h0.8M306.2 69.0h0.8M297.0 59.8h0.8M311.5 63.3h0.8M298.0 50.1h0.8M320.8 51.2h0.8M302.3 51.4h0.8M306.4 69.4h0.8M314.0 46.1h0.8M319.5 52.3h0.8M318.5 51.6h0.8M307.9 68.6h0.8M310.0 65.9h0.8M300.9 50.0h0.8M311.5 66.8h0.8M313.4 46.5h0.8M298.6 57.3h0.8M312.4 47.7h0.8M321.3 50.1h0.8M302.4 49.2h0.8M298.0 66.9h0.8M315.3 45.4h0.8M309.4 65.6h0.8M295.5 62.9h0.8M318.4 51.3h0.8M319.5 46.4h0.8M297.5 66.9h0.8M316.5 45.9h0.8M318.0 52.5h0.8M307.9 67.7h0.8M297.3 64.4h0.8M319.9 49.7h0.8M301.5 52.7h0.8M299.3 69.5h0.8M319.9 48.7h0.8M314.5 61.9h0.8M310.4 66.2h0.8M318.6 50.8h0.8M319.4 50.0h0.8M296.6 62.3h0.8M317.5 45.5h0.8M296.6 63.5h0.8M316.8 54.5h0.8M318.8 45.6h0.8M310.1 68.9h0.8M320.5 48.7h0.8M319.0 45.2h0.8M305.6 69.7h0.8M301.0 52.1h0.8M298.0 57.5h0.8M302.2 50.0h0.8M298.3 56.0h0.8M305.1 70.0h0.8M302.2 70.8h0.8M311.1 44.7h0.8M297.8 68.8h0.8M319.6 47.6h0.8M296.1 62.5h0.8M305.1 69.7h0.8M308.0 47.2h0.8M299.4 66.9h0.8M320.3 49.6h0.8M304.7 69.9h0.8M314.1 60.2h0.8M300.8 54.5h0.8M314.1 60.7h0.8M317.3 46.6h0.8M315.3 56.0h0.8M318.5 49.6h0.8M305.4 48.1h0.8M314.3 44.8h0.8M311.7 65.8h0.8M308.3 48.2h0.8M318.8 45.3h0.8M317.1 51.3h0.8M300.9 49.4h0.8M304.4 70.2h0.8M310.2 44.6h0.8" stroke="#444" stroke-opacity="0.3" stroke-width="0.8" fill="none"/>
<g filter="url(#b)">
<path d="M319.70 45.50C319.07 45.00 316.95 46.57 315.00 47.00C313.05 47.43 310.00 47.52 308.00 48.10C306.00 48.68 304.42 49.35 303.00 50.50C301.58 51.65 300.45 53.08 299.50 55.00C298.55 56.92 297.45 60.00 297.30 62.00C297.15 64.00 297.65 65.83 298.60 67.00C299.55 68.17 301.27 69.00 303.00 69.00C304.73 69.00 307.33 68.17 309.00 67.00C310.67 65.83 311.83 64.00 313.00 62.00C314.17 60.00 315.03 57.00 316.00 55.00C316.97 53.00 318.18 51.58 318.80 50.00C319.42 48.42 320.33 46.00 319.70 45.50Z" fill="#0a4cff"/>
</g>
<g filter="url(#b)">
<path d="M298.30 62.00C298.38 60.25 299.05 57.62 300.00 56.00C300.95 54.38 302.50 53.13 304.00 52.30C305.50 51.47 307.42 51.05 309.00 51.00C310.58 50.95 312.67 51.17 313.50 52.00C314.33 52.83 314.25 54.42 314.00 56.00C313.75 57.58 312.83 59.83 312.00 61.50C311.17 63.17 310.42 64.88 309.00 66.00C307.58 67.12 305.08 68.12 303.50 68.20C301.92 68.28 300.37 67.53 299.50 66.50C298.63 65.47 298.22 63.75 298.30 62.00Z" fill="#14b4ff"/>
<path d="M299.36 61.91C299.42 60.55 299.94 58.49 300.68 57.23C301.42 55.97 302.63 55.00 303.80 54.35C304.97 53.70 306.47 53.37 307.70 53.33C308.94 53.29 310.56 53.46 311.21 54.11C311.86 54.76 311.80 56.00 311.60 57.23C311.41 58.47 310.69 60.22 310.04 61.52C309.39 62.82 308.81 64.16 307.70 65.03C306.60 65.90 304.65 66.68 303.41 66.75C302.18 66.81 300.97 66.23 300.29 65.42C299.62 64.62 299.29 63.28 299.36 61.91Z" fill="#20f040"/>
<path d="M300.46 61.82C300.51 60.86 300.87 59.41 301.39 58.52C301.92 57.63 302.77 56.94 303.60 56.48C304.42 56.03 305.47 55.80 306.35 55.77C307.22 55.74 308.36 55.86 308.82 56.32C309.28 56.78 309.23 57.65 309.10 58.52C308.96 59.39 308.45 60.63 308.00 61.55C307.54 62.46 307.12 63.41 306.35 64.02C305.57 64.63 304.19 65.18 303.32 65.23C302.45 65.28 301.60 64.86 301.12 64.30C300.64 63.73 300.41 62.78 300.46 61.82Z" fill="#f8f020"/>
<path d="M301.18 61.76C301.21 61.06 301.48 60.01 301.86 59.36C302.24 58.71 302.86 58.21 303.46 57.88C304.06 57.55 304.83 57.38 305.46 57.36C306.09 57.34 306.93 57.43 307.26 57.76C307.59 58.09 307.56 58.73 307.46 59.36C307.36 59.99 306.99 60.89 306.66 61.56C306.33 62.23 306.03 62.91 305.46 63.36C304.89 63.81 303.89 64.21 303.26 64.24C302.63 64.27 302.01 63.97 301.66 63.56C301.31 63.15 301.15 62.46 301.18 61.76Z" fill="#ff8000"/>
<path d="M302.04 61.71C302.06 61.24 302.21 60.52 302.42 60.09C302.63 59.65 302.97 59.31 303.30 59.09C303.63 58.86 304.05 58.75 304.40 58.74C304.75 58.72 305.20 58.78 305.39 59.01C305.57 59.23 305.55 59.66 305.50 60.09C305.44 60.52 305.24 61.12 305.06 61.57C304.87 62.02 304.71 62.49 304.40 62.79C304.09 63.09 303.54 63.36 303.19 63.38C302.84 63.40 302.50 63.20 302.31 62.92C302.12 62.64 302.03 62.18 302.04 61.71Z" fill="#ff1800"/>
</g>
<path d="M312.6 75.0L336.6 17.8H358.4V75.0Z" stroke="#707070" stroke-width="0.75" fill="none"/>
<text x="323.7" y="28.0" font-size="5.7" text-anchor="start" font-weight="bold" fill="#111" stroke="#111" stroke-width="0.28" >GFP+</text>
<text x="323.7" y="33.9" font-size="5.7" text-anchor="start" font-weight="bold" fill="#111" stroke="#111" stroke-width="0.28" >%P:0,01</text>
<rect x="290.4" y="86.5" width="68.0" height="57.6" fill="#fff" stroke="#999" stroke-width="0.9"/>
<path d="M290.7 88.5V142.1" stroke="#777" stroke-width="0.9" stroke-dasharray="0.8 1.0" fill="none"/>
<path d="M293.4 144.79999999999998H356.4" stroke="#888" stroke-width="0.7" stroke-dasharray="0.8 2.9" fill="none"/>
<path d="M307.6 105.0h0.8M309.5 111.0h0.8M310.8 107.5h0.8M313.7 107.4h0.8M306.6 114.4h0.8M317.9 99.9h0.8M310.4 108.7h0.8M320.4 109.2h0.8M310.5 112.1h0.8M317.8 109.6h0.8M305.8 113.1h0.8M314.8 110.1h0.8M310.8 112.8h0.8M314.9 105.6h0.8M309.7 111.3h0.8M321.5 94.4h0.8M310.4 94.9h0.8M322.3 109.3h0.8M309.9 124.9h0.8M309.6 89.2h0.8M312.3 111.7h0.8M325.6 104.4h0.8M308.4 102.6h0.8M317.8 120.6h0.8M301.2 107.5h0.8M312.6 113.5h0.8M306.0 106.0h0.8M302.2 119.3h0.8M315.0 90.9h0.8M323.6 99.9h0.8M317.1 97.6h0.8M306.8 121.7h0.8M318.0 94.7h0.8M312.1 113.7h0.8M312.7 103.2h0.8M300.1 117.7h0.8M305.3 105.7h0.8M316.9 91.6h0.8M324.8 91.7h0.8M316.4 100.2h0.8M313.7 101.1h0.8M305.8 124.8h0.8M311.6 115.4h0.8M326.5 106.5h0.8M310.2 111.8h0.8M315.4 99.5h0.8M313.1 93.1h0.8M310.4 122.4h0.8M320.3 114.5h0.8M322.1 107.2h0.8M306.2 114.2h0.8M310.6 93.7h0.8M325.9 103.0h0.8M321.4 117.6h0.8M314.7 101.5h0.8M313.6 109.5h0.8M307.9 97.8h0.8M328.6 102.6h0.8M315.2 111.6h0.8M318.6 89.3h0.8M328.2 96.7h0.8M319.8 89.8h0.8M307.3 119.2h0.8M323.0 101.0h0.8M318.4 90.8h0.8M321.3 111.9h0.8M309.2 105.6h0.8M314.0 102.8h0.8M318.6 102.2h0.8M308.0 119.5h0.8M319.0 89.4h0.8M305.6 100.3h0.8M310.7 107.3h0.8M305.2 104.3h0.8M303.9 111.0h0.8M318.9 95.6h0.8M312.2 103.8h0.8M299.2 116.3h0.8M321.0 105.8h0.8M303.5 122.0h0.8M309.3 125.6h0.8M307.5 103.6h0.8M304.0 99.9h0.8M304.4 119.5h0.8M298.2 101.6h0.8M309.6 96.8h0.8M307.1 106.9h0.8M320.3 112.2h0.8M323.9 109.5h0.8M319.1 100.4h0.8M304.2 117.5h0.8M315.4 112.5h0.8M299.3 116.7h0.8M315.6 95.5h0.8M319.1 113.4h0.8M312.2 95.8h0.8M317.6 98.7h0.8M310.7 111.9h0.8M314.8 97.0h0.8M309.3 111.2h0.8M313.7 110.5h0.8M299.7 113.7h0.8M314.6 103.9h0.8M318.9 105.7h0.8M305.4 94.7h0.8M315.8 95.6h0.8M327.8 100.5h0.8M304.2 111.5h0.8M315.9 110.0h0.8M311.2 117.4h0.8M318.9 105.5h0.8M319.1 103.2h0.8M318.9 108.7h0.8M307.0 101.4h0.8M305.7 113.4h0.8M310.3 106.0h0.8M305.5 103.9h0.8M299.2 116.5h0.8M305.0 117.2h0.8M319.3 104.0h0.8M312.6 105.5h0.8M317.1 103.1h0.8M314.2 97.1h0.8M314.3 99.6h0.8M322.2 93.9h0.8M315.7 108.9h0.8M316.9 117.6h0.8M313.7 96.7h0.8M310.9 108.0h0.8M319.8 115.4h0.8M318.7 101.8h0.8M321.7 94.6h0.8M305.7 120.1h0.8M316.0 116.7h0.8M306.1 114.1h0.8M315.7 105.4h0.8M310.4 95.7h0.8M303.0 108.4h0.8M312.7 109.7h0.8M313.6 99.4h0.8M313.2 101.2h0.8M313.2 95.6h0.8M318.2 103.7h0.8M295.7 111.4h0.8M311.1 120.3h0.8M312.8 106.7h0.8M317.4 108.2h0.8M302.2 105.6h0.8M313.8 97.9h0.8M312.2 102.2h0.8M308.0 92.3h0.8M305.5 103.2h0.8M317.6 89.6h0.8M320.5 89.5h0.8M318.5 108.2h0.8M303.1 120.6h0.8M313.2 104.5h0.8M312.4 111.9h0.8M309.4 109.6h0.8M303.4 116.0h0.8M317.9 116.6h0.8M295.4 106.7h0.8M304.5 107.3h0.8M312.3 108.1h0.8M307.6 124.9h0.8M313.7 118.5h0.8M318.5 96.8h0.8M313.3 96.6h0.8M319.4 100.3h0.8M322.2 109.0h0.8M305.4 111.0h0.8M303.2 123.2h0.8M314.2 94.6h0.8M307.0 117.8h0.8M306.7 125.3h0.8M315.2 100.4h0.8M312.1 116.7h0.8M306.5 121.4h0.8M301.4 125.7h0.8M308.2 108.8h0.8M317.6 108.3h0.8M316.0 114.1h0.8M313.9 107.8h0.8M308.1 102.5h0.8M302.2 105.2h0.8M304.5 117.2h0.8M320.7 104.4h0.8M310.7 99.3h0.8M328.7 91.9h0.8M318.2 115.9h0.8M312.1 109.2h0.8M297.9 105.2h0.8M311.7 101.2h0.8M315.5 118.1h0.8M307.1 112.3h0.8M299.3 122.3h0.8M314.7 121.4h0.8M318.4 117.5h0.8M310.8 103.7h0.8M312.0 106.0h0.8M307.7 92.5h0.8M315.8 111.1h0.8M312.7 107.6h0.8M319.8 107.4h0.8M318.1 109.6h0.8M311.0 110.4h0.8M305.4 120.2h0.8M310.3 108.6h0.8M304.3 119.4h0.8M314.6 118.1h0.8M313.0 91.6h0.8M313.6 108.6h0.8M313.8 107.9h0.8M314.9 104.2h0.8M306.3 116.8h0.8M310.2 119.9h0.8M316.8 115.5h0.8M315.6 108.2h0.8M316.4 91.2h0.8M303.3 98.7h0.8M311.8 114.0h0.8M324.1 104.1h0.8M303.2 93.9h0.8M318.5 120.0h0.8M308.2 123.6h0.8M321.2 110.4h0.8M301.9 120.3h0.8M330.4 88.1h0.8M302.8 123.4h0.8M323.0 93.0h0.8M309.8 101.1h0.8M313.2 124.6h0.8M316.0 110.2h0.8M300.0 110.1h0.8M310.3 111.3h0.8M311.1 119.8h0.8M301.9 109.9h0.8M293.9 106.2h0.8M322.1 90.1h0.8M314.3 109.2h0.8M317.2 109.4h0.8M320.2 100.6h0.8M314.4 93.5h0.8M317.6 107.9h0.8M321.6 98.9h0.8M320.2 101.2h0.8M307.8 101.5h0.8M319.9 104.0h0.8M311.0 118.8h0.8M309.9 107.8h0.8M306.4 116.0h0.8M317.4 101.6h0.8M303.9 97.3h0.8M322.3 96.8h0.8M313.8 111.5h0.8M310.7 97.7h0.8M313.7 99.2h0.8M321.7 98.5h0.8M312.7 101.8h0.8M315.2 118.0h0.8M310.1 102.7h0.8M310.1 124.6h0.8M310.3 97.9h0.8M308.6 118.6h0.8M310.3 104.5h0.8M325.1 109.1h0.8M314.3 109.5h0.8M317.3 103.7h0.8M311.5 97.6h0.8M313.4 118.8h0.8M310.1 112.7h0.8M324.5 99.0h0.8M315.5 113.4h0.8M322.7 107.0h0.8M328.9 104.6h0.8M327.6 106.0h0.8M301.3 103.0h0.8M321.3 95.4h0.8M319.7 92.8h0.8M313.4 104.9h0.8M307.7 95.7h0.8M317.5 121.6h0.8M319.2 94.3h0.8M305.5 112.5h0.8M309.3 110.9h0.8M307.9 96.4h0.8M310.0 119.5h0.8M302.0 100.4h0.8M310.9 114.9h0.8M312.8 105.3h0.8M310.9 105.6h0.8M310.6 123.7h0.8M303.9 124.4h0.8M307.5 101.8h0.8M311.6 104.0h0.8M312.1 100.3h0.8M314.9 124.7h0.8M306.2 119.1h0.8M315.0 97.4h0.8M322.9 108.1h0.8M302.9 115.8h0.8M306.2 120.7h0.8M316.2 94.6h0.8M321.6 103.8h0.8M303.2 113.2h0.8M315.5 101.3h0.8M316.9 107.9h0.8M316.7 97.7h0.8M311.0 99.8h0.8M304.7 110.1h0.8M310.6 102.8h0.8M313.5 107.6h0.8M320.4 106.8h0.8M313.8 100.1h0.8M317.7 99.4h0.8M313.7 113.2h0.8M313.9 97.7h0.8M316.0 103.9h0.8M307.1 116.6h0.8M312.1 103.6h0.8M311.2 107.2h0.8M315.6 102.6h0.8M311.7 96.5h0.8M305.9 112.3h0.8M318.7 108.6h0.8M306.7 110.6h0.8M308.2 125.8h0.8M317.7 107.4h0.8M322.6 118.3h0.8M303.8 110.5h0.8M306.9 101.1h0.8M301.6 112.8h0.8M304.6 120.5h0.8M304.0 104.9h0.8M311.3 102.7h0.8M321.8 103.3h0.8M316.6 121.7h0.8M307.3 124.4h0.8M299.4 109.8h0.8M318.4 103.6h0.8M315.0 110.6h0.8M309.6 114.9h0.8M303.5 116.3h0.8M310.1 108.4h0.8M309.1 121.0h0.8M309.2 99.3h0.8M329.6 96.7h0.8M315.5 101.1h0.8M309.7 112.4h0.8M301.1 117.9h0.8M306.0 119.7h0.8M321.9 105.9h0.8M310.7 100.9h0.8M312.5 102.7h0.8M312.3 111.7h0.8M316.4 109.7h0.8M313.1 111.5h0.8M312.8 114.0h0.8M313.0 116.6h0.8M310.1 112.2h0.8M311.8 102.5h0.8M309.1 108.6h0.8M305.1 100.7h0.8M317.0 96.1h0.8M314.3 100.5h0.8M319.9 105.5h0.8M309.1 121.7h0.8M318.6 116.0h0.8M314.0 103.5h0.8M313.2 105.2h0.8M303.9 109.8h0.8M316.5 90.9h0.8M319.3 101.4h0.8M314.1 97.1h0.8M315.2 97.7h0.8M304.8 105.4h0.8M308.9 107.6h0.8M297.7 110.7h0.8M302.8 95.1h0.8M317.4 100.1h0.8M317.0 106.8h0.8M312.0 117.6h0.8M310.6 106.4h0.8M307.9 102.4h0.8M317.6 109.9h0.8M315.7 96.8h0.8M303.2 104.3h0.8M309.9 94.8h0.8M319.1 97.3h0.8M307.5 120.5h0.8M326.3 101.8h0.8M318.3 112.9h0.8M325.5 92.2h0.8M310.7 114.7h0.8M317.3 116.6h0.8M310.1 120.4h0.8M319.0 100.6h0.8M325.2 100.9h0.8M316.9 113.3h0.8M300.8 117.9h0.8M331.2 97.7h0.8M312.8 100.6h0.8M314.8 110.5h0.8M305.4 117.0h0.8M311.7 109.6h0.8M300.8 119.2h0.8M322.6 109.4h0.8M309.4 106.6h0.8M317.8 95.0h0.8M312.6 99.3h0.8M312.7 117.7h0.8M314.8 116.8h0.8M321.2 106.4h0.8M320.3 108.6h0.8M324.5 103.9h0.8M317.0 95.8h0.8M307.7 107.9h0.8M323.1 94.5h0.8M320.6 99.9h0.8M315.6 107.4h0.8M311.6 99.0h0.8M307.4 90.5h0.8M325.9 98.0h0.8M308.4 107.5h0.8M308.0 119.6h0.8M318.1 107.7h0.8M317.0 97.8h0.8M302.6 105.8h0.8M325.2 109.9h0.8M315.4 109.0h0.8M322.3 116.2h0.8M321.4 110.4h0.8M313.1 93.8h0.8M298.0 118.8h0.8M314.0 101.9h0.8M315.8 100.8h0.8M308.5 102.9h0.8M324.5 117.1h0.8M317.8 100.0h0.8M311.3 113.9h0.8M316.4 108.5h0.8M302.5 98.7h0.8M318.1 102.9h0.8M314.9 100.3h0.8M311.9 102.1h0.8M316.5 112.2h0.8M313.9 112.3h0.8M330.4 98.7h0.8M313.6 122.4h0.8M311.9 110.5h0.8M324.5 102.2h0.8M317.8 102.7h0.8M318.3 116.1h0.8M299.2 97.5h0.8M311.0 111.0h0.8M300.4 108.4h0.8M321.2 101.2h0.8M308.5 122.8h0.8M311.6 104.0h0.8M314.5 109.7h0.8M313.4 115.1h0.8M321.4 109.1h0.8M311.3 109.4h0.8M316.1 113.2h0.8M300.6 115.6h0.8M303.9 91.3h0.8M320.1 109.3h0.8M323.2 107.4h0.8M315.1 102.1h0.8M304.6 101.7h0.8M313.8 103.2h0.8M322.1 104.3h0.8M327.9 107.0h0.8M318.8 101.2h0.8M310.8 102.9h0.8M320.2 106.1h0.8M311.9 109.5h0.8M317.1 103.2h0.8M321.8 93.7h0.8M320.9 114.4h0.8M314.4 115.4h0.8M312.3 109.4h0.8M313.0 103.5h0.8M312.4 110.3h0.8M305.2 109.1h0.8M314.8 118.4h0.8M312.8 110.1h0.8M309.1 97.7h0.8M315.4 101.8h0.8M311.6 100.7h0.8M307.2 117.1h0.8M308.7 89.5h0.8M316.2 103.8h0.8M314.7 105.9h0.8M311.1 99.1h0.8M310.0 102.7h0.8M314.9 110.5h0.8M319.7 114.8h0.8M314.5 114.0h0.8M304.2 116.3h0.8M322.7 88.8h0.8M319.2 114.1h0.8M317.7 109.7h0.8M314.0 113.0h0.8M320.0 99.7h0.8M310.5 104.8h0.8M304.4 124.8h0.8M319.3 114.6h0.8M309.2 117.8h0.8M305.9 107.5h0.8M317.1 98.7h0.8M314.6 104.1h0.8M314.6 97.5h0.8M322.4 122.7h0.8M314.2 105.7h0.8M308.0 114.7h0.8M316.5 108.4h0.8M313.8 115.4h0.8M313.6 110.9h0.8M311.0 108.5h0.8M314.5 117.3h0.8M315.5 102.0h0.8M317.2 117.8h0.8M323.9 95.6h0.8M326.2 105.0h0.8M326.9 115.8h0.8M312.9 120.7h0.8M322.2 104.8h0.8M314.1 110.9h0.8M315.2 88.7h0.8M307.4 102.8h0.8M314.8 94.0h0.8M318.8 117.8h0.8M298.8 106.9h0.8M311.2 101.8h0.8M316.3 105.1h0.8M306.5 101.2h0.8M314.3 114.9h0.8M315.9 98.7h0.8M312.7 91.1h0.8M307.8 96.1h0.8M321.7 102.1h0.8M317.9 109.3h0.8M321.4 108.0h0.8M313.3 99.1h0.8M310.0 112.0h0.8M317.4 111.7h0.8M315.3 121.2h0.8M312.0 110.3h0.8M310.8 95.3h0.8M316.0 104.4h0.8M314.8 96.9h0.8M310.0 103.4h0.8M310.6 109.7h0.8M309.2 121.1h0.8M315.3 109.4h0.8M305.7 95.6h0.8M311.8 112.0h0.8M315.4 93.0h0.8M306.1 109.0h0.8M319.9 110.3h0.8M318.7 100.0h0.8M310.5 114.0h0.8M312.4 111.7h0.8M333.2 98.2h0.8M307.1 109.8h0.8M305.3 96.1h0.8M311.0 101.9h0.8" stroke="#555" stroke-opacity="0.27" stroke-width="0.8" fill="none"/>
<path d="M315.3 113.2h0.8M303.8 111.0h0.8M307.8 111.8h0.8M306.1 114.7h0.8M309.6 113.4h0.8M313.3 113.9h0.8M317.2 115.0h0.8M315.4 107.7h0.8M311.9 113.3h0.8M306.1 109.2h0.8M307.7 117.0h0.8M311.6 114.5h0.8M309.6 117.2h0.8M314.6 115.7h0.8M311.5 121.7h0.8M316.5 107.5h0.8M309.9 108.3h0.8M311.2 118.3h0.8M309.9 110.7h0.8M314.9 112.7h0.8M305.6 117.5h0.8M307.3 116.3h0.8M312.9 119.0h0.8M304.2 111.0h0.8M306.4 111.0h0.8M313.7 118.2h0.8M295.6 113.0h0.8M316.9 113.4h0.8M312.0 116.0h0.8M305.6 112.6h0.8M317.2 118.1h0.8M304.0 118.9h0.8M313.8 115.5h0.8M312.9 116.6h0.8M319.2 106.4h0.8M312.4 108.7h0.8M312.1 112.0h0.8M303.6 113.7h0.8M312.6 116.8h0.8M309.6 112.7h0.8M303.9 114.3h0.8M308.5 112.0h0.8M315.3 112.8h0.8M313.8 114.0h0.8M315.3 110.1h0.8M313.4 109.0h0.8M307.1 108.6h0.8M314.1 113.0h0.8M309.1 112.7h0.8M309.9 113.6h0.8M302.8 117.2h0.8M315.4 108.7h0.8M316.6 112.4h0.8M314.3 109.7h0.8M314.9 115.5h0.8M310.1 110.0h0.8M313.8 106.5h0.8M316.0 114.6h0.8M308.8 107.2h0.8M313.6 111.9h0.8M308.6 115.6h0.8M312.3 111.0h0.8M320.3 110.0h0.8M312.2 117.2h0.8M318.0 118.1h0.8M304.6 113.3h0.8M309.5 115.2h0.8M307.4 111.4h0.8M301.9 106.7h0.8M307.7 114.4h0.8M306.9 113.4h0.8M303.9 108.2h0.8M311.1 110.4h0.8M315.4 107.7h0.8M313.5 109.6h0.8M308.7 107.5h0.8M311.1 111.5h0.8M315.7 114.8h0.8M316.1 108.6h0.8M303.9 111.4h0.8M314.0 109.8h0.8M313.0 112.3h0.8M315.1 114.6h0.8M320.0 115.9h0.8M305.7 123.2h0.8M311.9 113.0h0.8M312.1 112.0h0.8M313.5 111.3h0.8M302.7 119.5h0.8M308.4 113.6h0.8M302.9 115.8h0.8M312.6 116.2h0.8M310.2 115.7h0.8M310.0 114.8h0.8M305.2 110.5h0.8M308.0 113.1h0.8M310.1 116.6h0.8M304.3 110.1h0.8M314.1 108.5h0.8M312.7 113.4h0.8M312.3 111.2h0.8M311.2 111.8h0.8M316.8 119.8h0.8M311.3 107.9h0.8M307.2 115.9h0.8M311.5 114.0h0.8M311.5 114.9h0.8M298.4 112.3h0.8M306.9 112.1h0.8M307.1 112.7h0.8M318.0 112.3h0.8M317.7 114.2h0.8M306.8 111.9h0.8M308.7 106.1h0.8M321.3 115.3h0.8M311.9 107.9h0.8M311.8 104.9h0.8M317.3 114.7h0.8M308.7 112.5h0.8M319.4 104.8h0.8M306.5 112.9h0.8M312.6 110.8h0.8M313.2 112.6h0.8M306.5 111.6h0.8M313.1 116.2h0.8M313.3 106.2h0.8M314.1 112.7h0.8M312.8 112.5h0.8M316.8 117.3h0.8M306.7 111.0h0.8M315.8 114.0h0.8M307.0 115.6h0.8M315.1 114.8h0.8M306.5 111.2h0.8M315.2 113.9h0.8M305.0 113.0h0.8M307.9 112.1h0.8M309.4 113.1h0.8M312.9 114.3h0.8M310.2 112.9h0.8M304.7 113.4h0.8M302.0 108.9h0.8M309.8 116.6h0.8M314.3 108.9h0.8M313.6 122.4h0.8M311.4 117.8h0.8M308.7 112.7h0.8M316.8 114.1h0.8M314.6 114.9h0.8M311.8 105.0h0.8M311.3 112.2h0.8M306.3 117.4h0.8M314.6 115.3h0.8M312.1 115.1h0.8M309.1 107.1h0.8M305.1 114.7h0.8M315.3 115.2h0.8M306.7 116.5h0.8M303.6 112.0h0.8M308.9 108.6h0.8M307.7 116.0h0.8M311.7 114.9h0.8M308.0 113.5h0.8M301.4 106.8h0.8M311.2 116.6h0.8M313.5 109.4h0.8M315.5 113.3h0.8M314.4 110.4h0.8M302.3 114.3h0.8M311.0 107.0h0.8M311.9 116.2h0.8M311.9 110.2h0.8M316.2 120.0h0.8M314.5 114.8h0.8M312.8 112.3h0.8M315.1 117.1h0.8M314.5 111.5h0.8M309.5 111.1h0.8M316.8 113.0h0.8M312.1 111.5h0.8M310.7 112.6h0.8M304.4 109.3h0.8M305.6 114.5h0.8M313.2 111.6h0.8M311.9 108.8h0.8M309.4 113.8h0.8M310.9 111.0h0.8M309.8 112.8h0.8M318.6 112.2h0.8M301.4 112.5h0.8M316.5 113.6h0.8M318.4 115.6h0.8M310.8 114.4h0.8M310.3 111.1h0.8M303.0 113.9h0.8M318.3 113.4h0.8M309.9 108.1h0.8M315.9 110.7h0.8M311.8 111.3h0.8M317.2 115.4h0.8" stroke="#555" stroke-opacity="0.33" stroke-width="0.8" fill="none"/>
<path d="M319.8 110.6h0.8M321.5 115.6h0.8M322.3 114.7h0.8M317.0 127.7h0.8M308.7 134.5h0.8M306.2 135.5h0.8M319.8 110.5h0.8M300.4 120.4h0.8M310.5 133.3h0.8M320.8 114.3h0.8M312.0 116.5h0.8M297.5 135.8h0.8M303.6 139.6h0.8M312.0 115.0h0.8M297.2 132.1h0.8M318.1 121.8h0.8M308.6 117.6h0.8M321.2 111.3h0.8M316.6 111.9h0.8M298.7 136.9h0.8M312.5 131.8h0.8M305.7 118.2h0.8M297.4 134.6h0.8M298.0 131.2h0.8M315.3 113.0h0.8M306.9 117.1h0.8M320.5 114.3h0.8M297.9 124.1h0.8M310.9 115.2h0.8M320.4 115.4h0.8M317.1 122.4h0.8M297.7 134.9h0.8M303.3 119.2h0.8M303.8 138.5h0.8M297.0 128.4h0.8M299.9 135.4h0.8M317.5 111.9h0.8M320.0 109.2h0.8M311.7 116.0h0.8M302.8 120.1h0.8M315.1 113.1h0.8M321.4 115.4h0.8M309.2 116.6h0.8M312.3 131.5h0.8M320.6 111.2h0.8M295.8 129.1h0.8M320.7 116.3h0.8M315.3 128.2h0.8M321.5 115.6h0.8M308.3 116.5h0.8M318.5 120.7h0.8M297.1 136.3h0.8M299.6 123.6h0.8M301.1 121.2h0.8M312.7 129.7h0.8M319.6 110.0h0.8M299.8 120.9h0.8M320.8 110.5h0.8M321.1 116.7h0.8M294.2 131.1h0.8M311.3 115.9h0.8M296.7 124.7h0.8M319.1 119.6h0.8M298.4 136.1h0.8M317.4 122.0h0.8M304.0 117.5h0.8M302.1 136.5h0.8M316.7 128.9h0.8M312.9 130.1h0.8M316.6 123.8h0.8M308.6 118.0h0.8M316.7 112.3h0.8M321.3 113.2h0.8M313.6 115.3h0.8M302.9 119.3h0.8M297.2 128.2h0.8M319.3 109.9h0.8M311.6 132.3h0.8M320.7 113.5h0.8M314.9 113.9h0.8M313.8 131.1h0.8M299.9 122.3h0.8M304.9 115.2h0.8M297.5 133.4h0.8M314.1 128.0h0.8M295.9 129.4h0.8M317.9 109.9h0.8M322.3 114.4h0.8M299.2 134.9h0.8M299.9 123.4h0.8M298.7 123.6h0.8M297.1 123.0h0.8M304.2 119.5h0.8M306.5 136.9h0.8M301.6 118.1h0.8M307.3 116.4h0.8M316.1 128.8h0.8M296.1 129.8h0.8M313.0 116.6h0.8M321.0 117.1h0.8M318.7 123.1h0.8M297.6 130.7h0.8M298.7 124.1h0.8M320.0 113.9h0.8M311.0 132.5h0.8M301.8 138.2h0.8M318.4 123.0h0.8M308.0 115.8h0.8M315.7 127.3h0.8M309.4 115.6h0.8M321.2 117.7h0.8M295.4 132.2h0.8M306.1 119.0h0.8M299.3 122.3h0.8M304.2 137.8h0.8M297.5 130.2h0.8M316.9 123.8h0.8M298.0 131.9h0.8M312.3 116.6h0.8M316.5 111.3h0.8" stroke="#444" stroke-opacity="0.3" stroke-width="0.8" fill="none"/>
<g filter="url(#b)">
<path d="M319.80 109.50C320.58 109.67 321.17 111.58 321.20 113.00C321.23 114.42 320.70 116.33 320.00 118.00C319.30 119.67 318.00 121.17 317.00 123.00C316.00 124.83 315.17 127.17 314.00 129.00C312.83 130.83 311.83 132.60 310.00 134.00C308.17 135.40 304.97 137.20 303.00 137.40C301.03 137.60 299.20 136.43 298.20 135.20C297.20 133.97 296.87 131.87 297.00 130.00C297.13 128.13 298.00 125.73 299.00 124.00C300.00 122.27 301.50 120.67 303.00 119.60C304.50 118.53 306.33 118.20 308.00 117.60C309.67 117.00 311.58 116.93 313.00 116.00C314.42 115.07 315.37 113.08 316.50 112.00C317.63 110.92 319.02 109.33 319.80 109.50Z" fill="#0a4cff"/>
</g>
<g filter="url(#b)">
<path d="M298.00 130.00C298.17 128.25 299.00 125.92 300.00 124.50C301.00 123.08 302.50 122.17 304.00 121.50C305.50 120.83 307.42 120.58 309.00 120.50C310.58 120.42 312.67 120.25 313.50 121.00C314.33 121.75 314.25 123.50 314.00 125.00C313.75 126.50 312.92 128.42 312.00 130.00C311.08 131.58 310.00 133.40 308.50 134.50C307.00 135.60 304.58 136.52 303.00 136.60C301.42 136.68 299.83 136.10 299.00 135.00C298.17 133.90 297.83 131.75 298.00 130.00Z" fill="#14b4ff"/>
<path d="M299.08 130.35C299.21 128.99 299.86 127.17 300.64 126.06C301.42 124.96 302.59 124.24 303.76 123.72C304.93 123.20 306.42 123.01 307.66 122.94C308.89 122.88 310.52 122.75 311.17 123.33C311.82 123.92 311.75 125.28 311.56 126.45C311.36 127.62 310.71 129.12 310.00 130.35C309.28 131.59 308.44 133.00 307.27 133.86C306.10 134.72 304.21 135.44 302.98 135.50C301.74 135.56 300.51 135.11 299.86 134.25C299.21 133.39 298.95 131.72 299.08 130.35Z" fill="#20f040"/>
<path d="M300.20 130.72C300.30 129.76 300.75 128.47 301.31 127.69C301.86 126.92 302.68 126.41 303.50 126.05C304.33 125.68 305.38 125.54 306.25 125.49C307.13 125.45 308.27 125.36 308.73 125.77C309.19 126.18 309.14 127.14 309.00 127.97C308.87 128.79 308.41 129.85 307.90 130.72C307.40 131.59 306.81 132.59 305.98 133.19C305.16 133.80 303.83 134.30 302.95 134.35C302.08 134.40 301.21 134.07 300.75 133.47C300.30 132.87 300.11 131.68 300.20 130.72Z" fill="#f8f020"/>
<path d="M300.94 130.96C301.01 130.26 301.34 129.33 301.74 128.76C302.14 128.19 302.74 127.83 303.34 127.56C303.94 127.29 304.71 127.19 305.34 127.16C305.97 127.13 306.81 127.06 307.14 127.36C307.47 127.66 307.44 128.36 307.34 128.96C307.24 129.56 306.91 130.33 306.54 130.96C306.17 131.59 305.74 132.32 305.14 132.76C304.54 133.20 303.57 133.57 302.94 133.60C302.31 133.63 301.67 133.40 301.34 132.96C301.01 132.52 300.87 131.66 300.94 130.96Z" fill="#ff8000"/>
<path d="M301.82 131.17C301.86 130.70 302.04 130.07 302.26 129.68C302.48 129.30 302.81 129.05 303.14 128.87C303.47 128.69 303.89 128.63 304.24 128.60C304.59 128.58 305.05 128.54 305.23 128.74C305.42 128.94 305.40 129.41 305.34 129.82C305.29 130.22 305.10 130.74 304.90 131.17C304.70 131.60 304.46 132.09 304.13 132.38C303.80 132.68 303.27 132.93 302.92 132.95C302.57 132.97 302.23 132.81 302.04 132.52C301.86 132.22 301.79 131.64 301.82 131.17Z" fill="#ff1800"/>
</g>
<path d="M312.6 144.1L337.5 86.5H358.4V144.1Z" stroke="#707070" stroke-width="0.75" fill="none"/>
<text x="323.7" y="96.3" font-size="5.7" text-anchor="start" font-weight="bold" fill="#111" stroke="#111" stroke-width="0.28" >GFP+</text>
<text x="323.7" y="102.2" font-size="5.7" text-anchor="start" font-weight="bold" fill="#111" stroke="#111" stroke-width="0.28" >%P:0,09</text>
<rect x="218.0" y="17.8" width="67.6" height="57.2" fill="#fff" stroke="#999" stroke-width="0.9"/>
<path d="M218.3 19.8V73.0" stroke="#777" stroke-width="0.9" stroke-dasharray="0.8 1.0" fill="none"/>
<path d="M221.0 75.7H283.6" stroke="#888" stroke-width="0.7" stroke-dasharray="0.8 2.9" fill="none"/>
<path d="M228.8 51.8h0.8M223.6 68.9h0.8M241.0 41.6h0.8M232.9 41.2h0.8M238.8 30.9h0.8M232.6 30.3h0.8M233.1 42.6h0.8M233.3 45.9h0.8M232.4 49.4h0.8M233.3 46.5h0.8M233.5 38.8h0.8M233.1 63.1h0.8M235.8 44.2h0.8M236.6 28.3h0.8M230.2 45.3h0.8M239.0 46.6h0.8M231.3 42.6h0.8M239.1 45.3h0.8M243.0 26.5h0.8M238.9 30.9h0.8M226.4 43.6h0.8M236.3 51.6h0.8M239.9 47.1h0.8M222.8 52.4h0.8M240.1 40.2h0.8M232.9 44.8h0.8M237.8 29.5h0.8M235.5 68.6h0.8M237.4 47.7h0.8M235.9 53.1h0.8M238.0 34.0h0.8M236.0 44.1h0.8M233.4 56.0h0.8M237.0 40.4h0.8M234.9 20.5h0.8M243.6 42.7h0.8M239.0 50.4h0.8M234.3 51.5h0.8M231.6 65.9h0.8M233.5 41.6h0.8M233.8 49.5h0.8M243.3 36.6h0.8M222.9 48.7h0.8M238.2 44.3h0.8M233.5 53.3h0.8M233.1 31.9h0.8M227.9 41.1h0.8M231.6 42.3h0.8M239.1 50.4h0.8M236.8 62.1h0.8M225.5 53.9h0.8M231.2 35.8h0.8M243.5 42.7h0.8M233.0 49.9h0.8M236.8 43.1h0.8M231.6 30.8h0.8M233.3 39.4h0.8M239.7 56.2h0.8M232.5 46.6h0.8M232.4 40.8h0.8M229.7 71.0h0.8M232.1 29.7h0.8M239.1 32.8h0.8M229.8 48.3h0.8M227.1 61.5h0.8M239.0 38.3h0.8M235.8 36.2h0.8M241.6 47.1h0.8M237.6 33.8h0.8M242.2 45.6h0.8M228.3 63.9h0.8M237.4 39.4h0.8M240.3 38.5h0.8M232.2 57.2h0.8M230.2 41.3h0.8M233.8 49.3h0.8M232.8 29.2h0.8M235.6 32.6h0.8M235.8 43.2h0.8M235.3 46.9h0.8M230.8 38.9h0.8M233.0 60.6h0.8M236.2 45.3h0.8M245.1 40.3h0.8M239.5 53.9h0.8M229.6 43.2h0.8M241.1 30.2h0.8M242.5 39.1h0.8M237.5 42.1h0.8M238.5 35.2h0.8M243.8 35.4h0.8M243.1 41.8h0.8M229.1 54.1h0.8M236.1 40.7h0.8M230.1 40.0h0.8M236.2 33.4h0.8M231.6 31.1h0.8M227.8 57.2h0.8M239.7 38.6h0.8M230.4 41.7h0.8M238.4 36.7h0.8M231.8 57.3h0.8M234.6 38.7h0.8M240.6 43.9h0.8M236.8 31.8h0.8M238.9 47.9h0.8M233.7 42.3h0.8M241.2 43.9h0.8M233.8 45.6h0.8M233.0 56.6h0.8M234.5 38.3h0.8M231.3 45.3h0.8M230.2 36.2h0.8M228.1 41.3h0.8M234.3 41.0h0.8M234.3 32.2h0.8M226.3 64.1h0.8M232.6 63.5h0.8M243.1 47.3h0.8M229.6 48.9h0.8M230.7 44.4h0.8M232.4 64.6h0.8M234.5 41.7h0.8M232.4 55.3h0.8M232.3 38.5h0.8M236.0 52.0h0.8M235.1 57.6h0.8M230.3 63.5h0.8M236.9 42.0h0.8M237.0 46.4h0.8M233.0 51.2h0.8M230.3 49.4h0.8M239.9 43.9h0.8M234.5 39.4h0.8M230.9 26.8h0.8M237.6 40.7h0.8M235.6 69.7h0.8M236.2 24.0h0.8M239.3 53.3h0.8M241.6 49.3h0.8M238.0 34.3h0.8M242.1 46.6h0.8M241.2 45.9h0.8M230.9 53.1h0.8M231.7 51.4h0.8M239.7 45.5h0.8M230.7 48.3h0.8M225.6 48.3h0.8M229.9 52.2h0.8M238.7 25.1h0.8M244.1 20.4h0.8M241.0 41.4h0.8M234.4 45.9h0.8M231.3 42.3h0.8M226.5 72.1h0.8M239.0 46.9h0.8M239.7 26.5h0.8M234.9 31.5h0.8M239.7 59.3h0.8M237.9 30.5h0.8M229.1 34.9h0.8M229.9 44.6h0.8M227.4 45.8h0.8M236.7 33.4h0.8M237.9 32.9h0.8M235.0 33.6h0.8M237.9 32.8h0.8M230.3 55.5h0.8M234.4 42.8h0.8M226.7 35.0h0.8M241.7 57.1h0.8M224.6 23.0h0.8M237.3 24.7h0.8M237.4 31.6h0.8M238.4 63.1h0.8M242.6 31.6h0.8M233.5 59.9h0.8M231.0 43.2h0.8M229.9 45.1h0.8M241.6 43.9h0.8M245.3 42.5h0.8M234.9 65.3h0.8M228.5 56.0h0.8M229.7 35.7h0.8M229.7 62.9h0.8M226.8 60.4h0.8M228.5 44.6h0.8M238.6 45.4h0.8M244.3 47.5h0.8M229.2 41.0h0.8M243.7 22.2h0.8M220.7 68.1h0.8M227.2 57.1h0.8M238.9 34.8h0.8M230.3 50.2h0.8M230.6 55.6h0.8M236.6 41.5h0.8M243.1 44.9h0.8M230.3 37.3h0.8M229.0 65.3h0.8M239.6 36.6h0.8M231.9 44.5h0.8M230.5 70.0h0.8M233.9 33.6h0.8M234.3 38.4h0.8M239.1 46.0h0.8M233.1 40.8h0.8M231.7 41.4h0.8M230.7 65.8h0.8M227.5 60.4h0.8M237.2 32.6h0.8M242.5 51.3h0.8M230.4 38.7h0.8M235.4 29.8h0.8M235.7 44.2h0.8M241.6 42.6h0.8M224.2 58.9h0.8M241.6 35.3h0.8M241.0 47.2h0.8M228.5 52.9h0.8M237.2 39.2h0.8M238.8 36.2h0.8M234.4 48.5h0.8" stroke="#555" stroke-opacity="0.28" stroke-width="0.8" fill="none"/>
<path d="M240.2 28.0h0.8M239.4 27.6h0.8M227.0 61.8h0.8M230.2 40.2h0.8M232.9 31.2h0.8M230.3 34.1h0.8M229.4 38.8h0.8M237.0 57.5h0.8M227.0 64.5h0.8M243.7 33.5h0.8M227.1 62.3h0.8M233.6 60.5h0.8M231.0 38.5h0.8M231.6 31.9h0.8M224.8 60.6h0.8M243.3 39.1h0.8M228.4 63.1h0.8M225.0 51.0h0.8M225.0 60.2h0.8M241.5 29.7h0.8M228.3 63.1h0.8M241.3 28.9h0.8M227.4 65.3h0.8M233.5 60.1h0.8M236.1 28.7h0.8M227.2 63.5h0.8M233.9 27.8h0.8M226.7 49.3h0.8M231.4 61.7h0.8M243.6 53.7h0.8M237.0 61.7h0.8M242.5 55.3h0.8M241.7 32.6h0.8M227.1 54.2h0.8M230.0 34.3h0.8M234.2 28.7h0.8M244.0 28.5h0.8M240.9 29.0h0.8M242.4 31.4h0.8M240.8 28.9h0.8M242.9 58.4h0.8M234.1 28.4h0.8M233.4 61.5h0.8M239.3 29.4h0.8M243.3 59.9h0.8M244.0 31.7h0.8M240.3 55.9h0.8M225.9 62.7h0.8M234.8 27.5h0.8M243.7 33.3h0.8M228.0 64.9h0.8M233.0 29.8h0.8M241.4 51.0h0.8M227.3 63.5h0.8M241.6 30.1h0.8M230.8 60.1h0.8M232.5 33.2h0.8M243.9 39.2h0.8M243.7 32.3h0.8M232.9 59.3h0.8M226.6 65.3h0.8M231.5 59.8h0.8M242.0 56.7h0.8M226.2 64.0h0.8M238.5 58.9h0.8M243.6 40.1h0.8M227.4 65.0h0.8M231.9 34.4h0.8M237.0 61.2h0.8M242.4 53.7h0.8M229.1 44.3h0.8M227.9 64.8h0.8M233.3 28.4h0.8M230.5 62.3h0.8M242.0 55.4h0.8M228.8 40.4h0.8M226.4 64.3h0.8M234.6 30.2h0.8M241.8 55.6h0.8M233.0 28.4h0.8M234.5 28.4h0.8M242.6 57.8h0.8M226.9 49.6h0.8M229.8 41.3h0.8M238.5 58.2h0.8M226.3 64.5h0.8M226.4 61.7h0.8M242.1 32.0h0.8M241.7 30.6h0.8M245.9 34.3h0.8M243.8 50.2h0.8M226.8 64.4h0.8M238.1 60.2h0.8M229.7 64.1h0.8M243.1 34.6h0.8M243.6 38.1h0.8M244.3 43.3h0.8M227.4 64.3h0.8M229.7 61.3h0.8M242.0 30.2h0.8M238.6 58.2h0.8M243.3 51.7h0.8M231.1 60.2h0.8M244.2 54.3h0.8M226.8 45.8h0.8M243.4 43.9h0.8M233.6 29.6h0.8M233.1 61.7h0.8M244.2 46.7h0.8M240.8 57.5h0.8M233.5 61.8h0.8M242.5 50.2h0.8M232.1 61.8h0.8M242.5 28.9h0.8M227.3 54.2h0.8M237.3 27.9h0.8M235.9 28.6h0.8M229.2 62.1h0.8M239.5 27.3h0.8M241.4 53.8h0.8M225.8 53.9h0.8M237.7 58.7h0.8M242.1 54.0h0.8M224.6 51.7h0.8M230.4 61.2h0.8M231.4 61.4h0.8M228.8 62.1h0.8M226.2 58.3h0.8M241.5 29.1h0.8M227.2 46.6h0.8M228.7 62.6h0.8M237.6 27.4h0.8M231.3 60.5h0.8M238.0 60.0h0.8M243.2 46.1h0.8M235.8 28.3h0.8M234.7 59.8h0.8M225.9 49.5h0.8M227.6 63.3h0.8M243.4 50.1h0.8M229.6 40.1h0.8M227.2 40.9h0.8M233.2 60.6h0.8M242.6 54.0h0.8M233.1 30.2h0.8M229.1 44.6h0.8M231.5 36.6h0.8M228.7 63.8h0.8M228.3 62.4h0.8M240.5 59.4h0.8M232.3 32.0h0.8M233.0 30.8h0.8M243.5 42.7h0.8M227.1 52.1h0.8M242.9 33.5h0.8M231.5 31.9h0.8M233.7 31.1h0.8M225.9 63.1h0.8M238.8 57.6h0.8M230.8 62.3h0.8M232.6 59.4h0.8M243.7 34.7h0.8M226.3 50.6h0.8M227.7 49.5h0.8M237.0 25.9h0.8M244.2 38.8h0.8M241.9 30.1h0.8M232.0 61.3h0.8M239.8 57.4h0.8M240.6 31.2h0.8M245.1 47.7h0.8M240.0 56.6h0.8M227.4 63.8h0.8M225.8 59.8h0.8M235.8 60.1h0.8M225.6 50.5h0.8M230.0 37.6h0.8M227.0 61.3h0.8M229.8 64.0h0.8M230.7 34.8h0.8M226.3 65.5h0.8M229.1 36.1h0.8M235.2 29.3h0.8M243.7 30.5h0.8M243.4 40.3h0.8M225.7 55.3h0.8M226.3 63.6h0.8M242.5 33.0h0.8M226.3 57.9h0.8M227.2 64.3h0.8M240.2 56.5h0.8M242.3 32.0h0.8M226.7 53.1h0.8M238.3 57.8h0.8M229.5 37.5h0.8M242.2 34.9h0.8M229.9 35.9h0.8M237.4 58.8h0.8M225.5 61.1h0.8M242.3 29.1h0.8M237.3 60.1h0.8M236.3 28.2h0.8M242.8 29.4h0.8M242.3 53.9h0.8M227.9 47.5h0.8M227.1 55.3h0.8M230.8 38.6h0.8M230.7 35.6h0.8M244.5 36.5h0.8M228.9 44.1h0.8M230.2 37.6h0.8M240.8 27.3h0.8M243.3 38.3h0.8M232.7 60.9h0.8M240.2 28.6h0.8M230.9 60.9h0.8M240.5 55.7h0.8M227.3 65.9h0.8M225.8 48.2h0.8M227.8 65.7h0.8M227.0 65.5h0.8M226.9 52.8h0.8M243.6 54.5h0.8M236.1 26.4h0.8M237.9 59.3h0.8M239.9 54.8h0.8M241.3 53.5h0.8M246.4 46.8h0.8M234.0 29.9h0.8M231.7 60.0h0.8M240.3 56.3h0.8M229.7 38.4h0.8M234.4 28.8h0.8M233.2 32.2h0.8M237.9 29.1h0.8M227.6 42.8h0.8M241.8 54.8h0.8M234.6 29.6h0.8M244.4 54.4h0.8M243.8 47.5h0.8M225.4 60.5h0.8M241.5 28.4h0.8M240.0 57.9h0.8M236.8 29.2h0.8M240.9 58.4h0.8M231.2 37.2h0.8M234.7 60.5h0.8M243.6 35.5h0.8M230.3 37.0h0.8M231.7 60.2h0.8M228.8 64.5h0.8M226.1 63.6h0.8M242.5 36.8h0.8M231.6 60.5h0.8M240.9 25.3h0.8M239.2 57.1h0.8M226.7 62.3h0.8M243.3 42.1h0.8M232.2 32.4h0.8M226.6 45.7h0.8M227.9 46.8h0.8M236.0 60.2h0.8M237.9 28.8h0.8M235.4 60.1h0.8M236.1 29.1h0.8M240.2 56.8h0.8M237.7 28.1h0.8M227.1 65.3h0.8M239.0 58.9h0.8M239.1 29.9h0.8M231.6 62.0h0.8M229.6 44.0h0.8M233.2 59.9h0.8M226.0 62.9h0.8M242.6 50.9h0.8M228.2 47.5h0.8M236.3 59.9h0.8M241.0 28.5h0.8M226.5 52.9h0.8M228.5 63.6h0.8M226.3 55.7h0.8M239.5 28.0h0.8M238.8 28.1h0.8M242.3 31.7h0.8M226.4 64.4h0.8M226.4 65.0h0.8M238.1 58.0h0.8M244.6 46.5h0.8M225.7 64.5h0.8M230.9 36.5h0.8M237.0 61.2h0.8M234.3 30.6h0.8M230.7 37.4h0.8M243.0 33.1h0.8M228.9 63.9h0.8M229.3 63.3h0.8M241.9 30.8h0.8M225.1 49.6h0.8M243.0 36.9h0.8M225.8 65.7h0.8M225.9 62.2h0.8M237.8 29.3h0.8M228.9 63.0h0.8M235.6 24.6h0.8M227.2 66.0h0.8M241.7 54.3h0.8M227.0 62.1h0.8M228.0 65.2h0.8M233.3 60.8h0.8M242.5 49.5h0.8M243.8 49.0h0.8M237.0 27.5h0.8M237.8 29.5h0.8M234.0 29.3h0.8M229.6 42.0h0.8M228.1 64.2h0.8M232.8 32.0h0.8M231.3 34.0h0.8M243.6 36.9h0.8M226.1 64.1h0.8M227.3 57.4h0.8M237.8 59.2h0.8M226.2 56.1h0.8M244.4 38.4h0.8M242.7 31.5h0.8M242.2 54.7h0.8M227.4 63.8h0.8M238.1 58.2h0.8M241.1 58.0h0.8M236.1 28.8h0.8M228.6 65.2h0.8M230.0 40.7h0.8M226.2 65.2h0.8M241.1 29.2h0.8M227.5 64.6h0.8M240.8 56.9h0.8M240.2 26.6h0.8M244.2 43.0h0.8M230.6 59.8h0.8M239.0 29.1h0.8M245.1 35.0h0.8M226.3 61.9h0.8M243.6 31.0h0.8M243.1 31.8h0.8M225.1 59.0h0.8M241.4 53.6h0.8M225.8 47.4h0.8M232.5 63.6h0.8M229.2 39.5h0.8M242.4 27.7h0.8M228.9 44.6h0.8M225.3 54.4h0.8M232.0 35.6h0.8M226.4 66.0h0.8M231.6 61.6h0.8M228.7 40.4h0.8M245.3 35.5h0.8M225.9 65.2h0.8M241.3 55.9h0.8M238.7 57.7h0.8M225.9 58.8h0.8M242.5 27.7h0.8M225.5 65.5h0.8M226.7 65.5h0.8M229.7 62.4h0.8M242.4 30.3h0.8M227.3 47.9h0.8M240.6 27.1h0.8M227.5 66.7h0.8M231.0 61.2h0.8M244.7 42.8h0.8M226.4 57.8h0.8M228.0 45.9h0.8M240.5 56.5h0.8M229.2 45.7h0.8M237.0 58.3h0.8M239.8 57.0h0.8M242.9 34.7h0.8M225.6 49.9h0.8M242.2 31.2h0.8M235.3 28.6h0.8M244.6 49.5h0.8M233.4 29.6h0.8M229.1 62.1h0.8M235.2 59.1h0.8M233.8 59.2h0.8M228.9 63.6h0.8M238.0 58.1h0.8M236.3 28.0h0.8M239.4 56.2h0.8M229.1 62.9h0.8M229.9 38.9h0.8M226.6 63.0h0.8M231.7 60.8h0.8M238.8 59.5h0.8M235.1 29.4h0.8M226.3 63.9h0.8M235.7 61.4h0.8M242.1 57.4h0.8M242.3 31.4h0.8M227.2 46.7h0.8M228.5 64.7h0.8M242.2 41.9h0.8M225.4 49.6h0.8M226.9 57.1h0.8M243.4 48.5h0.8M244.0 29.2h0.8M225.7 67.2h0.8M229.1 43.4h0.8M241.4 59.5h0.8M241.0 56.4h0.8M244.7 51.9h0.8M228.3 65.5h0.8M238.9 57.3h0.8M225.6 52.5h0.8M225.7 58.1h0.8M236.6 29.1h0.8M235.7 59.7h0.8M230.1 62.5h0.8M232.8 31.5h0.8M239.7 56.6h0.8M243.9 39.5h0.8M242.5 52.4h0.8M227.7 44.7h0.8M242.4 53.2h0.8M227.3 59.8h0.8M229.3 64.0h0.8M224.7 53.9h0.8M225.2 58.5h0.8M226.7 62.3h0.8M241.9 29.6h0.8M225.5 61.3h0.8M243.3 31.1h0.8M243.6 35.3h0.8M244.1 52.2h0.8M237.2 59.4h0.8M228.2 45.4h0.8M226.3 55.0h0.8M233.7 29.9h0.8M243.7 39.8h0.8M229.3 65.2h0.8M244.6 41.0h0.8M234.9 28.7h0.8M244.3 50.6h0.8M230.5 39.3h0.8M226.4 52.0h0.8M226.4 60.2h0.8M244.6 35.4h0.8M227.6 64.5h0.8M229.7 38.5h0.8M225.4 47.0h0.8M229.3 63.1h0.8M243.2 52.7h0.8M244.4 43.2h0.8M238.5 27.9h0.8M240.3 56.0h0.8M235.3 29.3h0.8M239.4 29.2h0.8M226.2 57.1h0.8M235.8 28.5h0.8M242.3 27.3h0.8M232.9 31.6h0.8M230.1 44.1h0.8M240.2 54.8h0.8M233.5 30.6h0.8M226.0 49.2h0.8M232.7 60.8h0.8M244.2 30.3h0.8M232.3 61.1h0.8M235.5 29.2h0.8M241.3 53.3h0.8M240.3 29.3h0.8M232.6 60.6h0.8M236.8 62.9h0.8M243.5 43.2h0.8M235.4 28.6h0.8M244.2 54.4h0.8M240.4 57.8h0.8M243.5 39.6h0.8M244.3 50.0h0.8M228.0 65.3h0.8M226.2 59.4h0.8M231.4 61.3h0.8M243.6 43.3h0.8M233.2 60.6h0.8M244.0 41.4h0.8M242.4 27.3h0.8M238.2 59.7h0.8M226.4 66.8h0.8M235.4 29.8h0.8M232.5 32.5h0.8M243.1 28.1h0.8M237.3 59.3h0.8M237.3 28.2h0.8M225.4 59.7h0.8M225.5 63.5h0.8M241.9 31.3h0.8M242.8 29.1h0.8M238.9 29.4h0.8M246.2 46.6h0.8M242.3 29.4h0.8M230.0 37.8h0.8M225.3 63.5h0.8M241.8 32.9h0.8M243.1 33.2h0.8M230.9 65.0h0.8M229.7 62.5h0.8M244.2 41.0h0.8M242.4 30.7h0.8M239.8 29.5h0.8M243.7 46.6h0.8M237.8 59.2h0.8M242.2 30.6h0.8M242.6 33.5h0.8M225.9 60.9h0.8M226.6 55.4h0.8M243.1 34.7h0.8M244.6 33.9h0.8M236.5 26.7h0.8M231.8 31.7h0.8M224.8 60.7h0.8M227.9 46.9h0.8M243.0 33.1h0.8M233.1 58.8h0.8M239.8 55.8h0.8M224.7 58.4h0.8M228.4 63.7h0.8M233.6 60.3h0.8M234.0 32.4h0.8M224.5 59.3h0.8M227.2 46.8h0.8M244.8 50.9h0.8M228.0 64.8h0.8M226.2 51.8h0.8M230.5 63.8h0.8M228.9 62.8h0.8M244.1 30.2h0.8M237.2 58.3h0.8M228.8 45.2h0.8M228.1 64.1h0.8M242.7 53.1h0.8M238.2 29.2h0.8M227.1 63.7h0.8M232.2 62.0h0.8M229.0 64.0h0.8M227.3 63.9h0.8M243.7 42.8h0.8M227.8 44.2h0.8M231.9 60.7h0.8M231.4 62.0h0.8M242.7 30.9h0.8M233.8 29.9h0.8M241.2 28.8h0.8M229.9 62.7h0.8M228.2 47.7h0.8M231.0 61.0h0.8M238.5 57.8h0.8M228.9 63.1h0.8M231.0 61.3h0.8M228.4 44.2h0.8" stroke="#444" stroke-opacity="0.4" stroke-width="0.8" fill="none"/>
<g filter="url(#b)">
<path d="M234.40 29.40C235.32 28.73 236.80 28.97 238.00 29.00C239.20 29.03 240.80 28.85 241.60 29.60C242.40 30.35 242.53 31.43 242.80 33.50C243.07 35.57 243.30 38.92 243.20 42.00C243.10 45.08 242.73 49.50 242.20 52.00C241.67 54.50 240.95 55.87 240.00 57.00C239.05 58.13 237.83 58.37 236.50 58.80C235.17 59.23 233.22 59.00 232.00 59.60C230.78 60.20 230.08 61.57 229.20 62.40C228.32 63.23 227.17 65.08 226.70 64.60C226.23 64.12 226.27 62.10 226.40 59.50C226.53 56.90 226.90 52.17 227.50 49.00C228.10 45.83 229.17 43.17 230.00 40.50C230.83 37.83 231.77 34.85 232.50 33.00C233.23 31.15 233.48 30.07 234.40 29.40Z" fill="#1c94ff"/>
</g>
<g filter="url(#b)">
<path d="M234.60 32.60C235.70 31.47 236.87 32.10 238.00 32.20C239.13 32.30 240.72 31.90 241.40 33.20C242.08 34.50 242.07 37.20 242.10 40.00C242.13 42.80 241.98 47.40 241.60 50.00C241.22 52.60 240.73 54.33 239.80 55.60C238.87 56.87 237.30 57.33 236.00 57.60C234.70 57.87 233.10 57.88 232.00 57.20C230.90 56.52 229.80 55.37 229.40 53.50C229.00 51.63 229.27 48.42 229.60 46.00C229.93 43.58 230.57 41.23 231.40 39.00C232.23 36.77 233.50 33.73 234.60 32.60Z" fill="#20f040"/>
<path d="M234.60 36.77C235.39 35.98 236.23 36.42 237.05 36.49C237.86 36.56 239.00 36.28 239.50 37.19C239.99 38.10 239.98 39.99 240.00 41.95C240.02 43.91 239.92 47.13 239.64 48.95C239.36 50.77 239.02 51.98 238.34 52.87C237.67 53.76 236.54 54.08 235.61 54.27C234.67 54.46 233.52 54.47 232.73 53.99C231.94 53.51 231.14 52.71 230.86 51.40C230.57 50.09 230.76 47.84 231.00 46.15C231.24 44.46 231.70 42.81 232.30 41.25C232.90 39.69 233.81 37.56 234.60 36.77Z" fill="#f8f020"/>
<path d="M234.60 39.55C235.08 38.98 235.60 39.30 236.10 39.35C236.59 39.40 237.29 39.20 237.59 39.85C237.89 40.50 237.89 41.85 237.90 43.25C237.91 44.65 237.85 46.95 237.68 48.25C237.51 49.55 237.30 50.42 236.89 51.05C236.48 51.68 235.79 51.92 235.22 52.05C234.64 52.18 233.94 52.19 233.46 51.85C232.97 51.51 232.49 50.93 232.31 50.00C232.14 49.07 232.25 47.46 232.40 46.25C232.55 45.04 232.83 43.87 233.19 42.75C233.56 41.63 234.12 40.12 234.60 39.55Z" fill="#ff8000"/>
<path d="M233.30 41.50C233.54 41.09 233.80 41.32 234.05 41.35C234.30 41.39 234.65 41.24 234.80 41.71C234.95 42.18 234.94 43.15 234.95 44.16C234.96 45.17 234.92 46.82 234.84 47.76C234.76 48.70 234.65 49.32 234.44 49.78C234.24 50.23 233.89 50.40 233.61 50.50C233.32 50.59 232.97 50.60 232.73 50.35C232.49 50.11 232.24 49.69 232.16 49.02C232.07 48.35 232.13 47.19 232.20 46.32C232.27 45.45 232.41 44.60 232.60 43.80C232.78 43.00 233.06 41.90 233.30 41.50Z" fill="#ff1800"/>
<path d="M237.30 45.44C237.44 45.19 237.59 45.33 237.74 45.35C237.89 45.38 238.10 45.29 238.18 45.57C238.27 45.86 238.27 46.45 238.28 47.07C238.28 47.69 238.26 48.70 238.21 49.27C238.16 49.84 238.10 50.22 237.98 50.50C237.85 50.78 237.65 50.88 237.48 50.94C237.31 51.00 237.11 51.00 236.96 50.85C236.82 50.70 236.68 50.45 236.62 50.04C236.57 49.63 236.61 48.92 236.65 48.39C236.69 47.86 236.78 47.34 236.88 46.85C236.99 46.36 237.16 45.69 237.30 45.44Z" fill="#ff4800"/>
</g>
<path d="M246.4 18.3V74.5" stroke="#686868" stroke-width="0.8" fill="none"/>
<rect x="282.6" y="18.3" width="3" height="56.2" fill="#ccc"/>
<path d="M246.4 18.400000000000002H285.6M246.4 74.7H285.6" stroke="#606060" stroke-width="0.8" fill="none"/>
<text x="254.8" y="25.0" font-size="5.7" text-anchor="start" font-weight="bold" fill="#111" stroke="#111" stroke-width="0.28" >GFP+</text>
<text x="254.8" y="30.9" font-size="5.7" text-anchor="start" font-weight="bold" fill="#111" stroke="#111" stroke-width="0.28" >%P:0,00</text>
<rect x="218.0" y="86.5" width="67.6" height="57.6" fill="#fff" stroke="#999" stroke-width="0.9"/>
<path d="M218.3 88.5V142.1" stroke="#777" stroke-width="0.9" stroke-dasharray="0.8 1.0" fill="none"/>
<path d="M221.0 144.79999999999998H283.6" stroke="#888" stroke-width="0.7" stroke-dasharray="0.8 2.9" fill="none"/>
<path d="M237.1 113.5h0.8M239.1 105.3h0.8M233.5 130.7h0.8M237.8 108.6h0.8M233.9 127.4h0.8M233.6 127.7h0.8M236.0 114.0h0.8M231.6 116.9h0.8M235.1 128.2h0.8M240.6 110.7h0.8M230.0 106.1h0.8M232.3 120.1h0.8M241.9 107.1h0.8M237.8 110.0h0.8M236.8 108.4h0.8M235.6 118.7h0.8M230.1 122.6h0.8M234.2 89.7h0.8M228.4 119.5h0.8M230.0 119.3h0.8M234.7 115.2h0.8M230.8 132.7h0.8M240.6 97.4h0.8M229.8 117.5h0.8M234.5 122.4h0.8M240.9 115.0h0.8M228.8 121.3h0.8M231.2 113.7h0.8M229.6 119.3h0.8M231.2 126.3h0.8M230.8 143.0h0.8M236.1 124.9h0.8M239.7 116.0h0.8M234.2 114.3h0.8M235.6 125.9h0.8M231.0 114.8h0.8M237.9 118.2h0.8M232.9 118.2h0.8M233.5 108.6h0.8M229.0 108.9h0.8M239.9 116.3h0.8M232.9 93.8h0.8M236.4 92.5h0.8M234.9 106.5h0.8M241.7 96.4h0.8M224.5 114.1h0.8M242.5 123.7h0.8M229.1 124.7h0.8M237.2 107.4h0.8M234.2 113.9h0.8M244.3 122.9h0.8M233.3 126.3h0.8M238.4 134.3h0.8M226.6 111.2h0.8M231.6 126.8h0.8M231.8 129.7h0.8M236.6 98.9h0.8M232.8 108.2h0.8M236.0 113.5h0.8M235.1 129.8h0.8M244.2 111.9h0.8M229.3 142.2h0.8M228.6 116.9h0.8M234.1 100.2h0.8M226.4 135.9h0.8M228.8 129.7h0.8M235.5 128.7h0.8M234.9 103.5h0.8M237.4 113.1h0.8M238.5 97.0h0.8M239.6 116.4h0.8M238.0 124.9h0.8M233.2 111.9h0.8M241.6 109.0h0.8M233.8 107.3h0.8M235.4 123.0h0.8M237.5 116.3h0.8M230.6 113.4h0.8M236.5 107.6h0.8M233.5 128.1h0.8M235.5 104.3h0.8M234.4 120.0h0.8M230.3 122.1h0.8M237.7 105.9h0.8M227.6 129.5h0.8M234.7 117.2h0.8M231.7 122.5h0.8M231.6 115.4h0.8M242.1 90.7h0.8M236.4 102.3h0.8M234.3 130.5h0.8M238.7 102.7h0.8M236.9 104.2h0.8M238.7 120.5h0.8M238.1 120.8h0.8M241.1 102.5h0.8M233.0 122.0h0.8M231.2 108.0h0.8M238.1 110.4h0.8M229.7 115.7h0.8M231.9 118.8h0.8M228.8 123.0h0.8M234.3 124.0h0.8M225.7 107.1h0.8M230.7 114.3h0.8M239.5 118.1h0.8M232.8 118.6h0.8M228.4 115.4h0.8M227.5 128.5h0.8M234.6 110.7h0.8M239.2 119.5h0.8M232.5 103.9h0.8M233.3 124.8h0.8M236.6 102.2h0.8M232.2 111.8h0.8M233.6 103.5h0.8M242.3 115.9h0.8M242.8 108.9h0.8M231.2 115.2h0.8M236.2 102.0h0.8M232.9 119.0h0.8M232.0 101.5h0.8M236.7 107.4h0.8M233.3 130.4h0.8M237.5 133.1h0.8M242.1 107.9h0.8M231.4 129.0h0.8M237.7 103.3h0.8M234.2 100.4h0.8M243.7 104.3h0.8M235.0 100.6h0.8M241.8 104.8h0.8M235.6 104.3h0.8M237.4 124.3h0.8M231.5 138.9h0.8M232.2 120.3h0.8M232.6 108.4h0.8M241.2 114.7h0.8M236.8 120.6h0.8M237.0 123.7h0.8M231.6 111.4h0.8M235.2 102.3h0.8M241.2 98.6h0.8M229.9 136.0h0.8M237.8 116.3h0.8M244.6 121.4h0.8M227.8 107.3h0.8M237.0 114.1h0.8M236.0 112.7h0.8M236.9 93.6h0.8M224.6 128.9h0.8M238.5 100.4h0.8M233.1 120.7h0.8M238.4 121.8h0.8M232.4 112.2h0.8M233.4 112.7h0.8M229.4 130.1h0.8M235.6 126.3h0.8M237.2 133.4h0.8M231.8 140.9h0.8M230.0 131.1h0.8M242.8 129.6h0.8M235.2 110.9h0.8M235.4 118.5h0.8M224.2 135.3h0.8M238.1 104.1h0.8M235.6 112.5h0.8M231.5 109.9h0.8M241.2 127.9h0.8M233.8 100.6h0.8M236.4 124.3h0.8M241.4 105.9h0.8M234.0 103.4h0.8M234.3 115.3h0.8M234.0 121.5h0.8M235.8 116.4h0.8M236.8 92.5h0.8M232.4 136.6h0.8M225.3 128.4h0.8M233.2 123.9h0.8M232.2 112.0h0.8M230.6 132.8h0.8M234.6 104.5h0.8M228.6 115.8h0.8M229.8 97.9h0.8M227.4 99.6h0.8M229.9 114.8h0.8M238.4 116.7h0.8M234.3 114.1h0.8M232.5 115.7h0.8M228.9 138.0h0.8M237.5 111.5h0.8M232.2 106.0h0.8M237.8 118.0h0.8M231.0 110.4h0.8M233.9 111.8h0.8M232.6 102.5h0.8M234.1 128.6h0.8M233.1 103.6h0.8M237.7 101.1h0.8M236.2 102.8h0.8M229.6 106.1h0.8M231.6 104.8h0.8M230.4 120.6h0.8M234.6 102.9h0.8" stroke="#555" stroke-opacity="0.28" stroke-width="0.8" fill="none"/>
<path d="M228.0 122.9h0.8M243.4 104.3h0.8M232.3 101.6h0.8M240.3 128.1h0.8M236.9 133.0h0.8M226.1 123.0h0.8M243.3 107.0h0.8M226.2 127.1h0.8M240.9 124.8h0.8M244.1 124.2h0.8M241.7 103.7h0.8M228.2 128.8h0.8M242.0 123.5h0.8M236.4 95.8h0.8M241.1 127.3h0.8M241.8 127.1h0.8M236.9 96.4h0.8M231.3 105.0h0.8M246.0 121.4h0.8M243.3 99.9h0.8M235.0 133.4h0.8M227.0 123.8h0.8M235.2 132.9h0.8M239.2 131.0h0.8M228.8 105.1h0.8M243.2 109.6h0.8M241.7 100.8h0.8M229.8 102.9h0.8M242.2 96.8h0.8M241.3 127.6h0.8M235.7 94.8h0.8M229.7 127.9h0.8M236.8 96.0h0.8M228.2 124.3h0.8M239.2 94.4h0.8M229.1 127.0h0.8M237.2 95.2h0.8M242.4 100.3h0.8M228.3 115.9h0.8M242.8 97.1h0.8M226.8 119.9h0.8M238.5 130.0h0.8M231.6 130.7h0.8M235.1 99.8h0.8M231.9 104.7h0.8M236.5 131.4h0.8M227.2 115.7h0.8M229.8 102.5h0.8M236.5 97.6h0.8M232.6 99.9h0.8M231.9 130.7h0.8M240.3 94.4h0.8M243.1 116.2h0.8M240.0 130.5h0.8M238.0 94.8h0.8M234.6 99.6h0.8M241.0 125.5h0.8M230.2 128.0h0.8M226.2 126.4h0.8M244.8 111.5h0.8M226.7 121.9h0.8M236.1 96.4h0.8M228.6 126.5h0.8M236.6 93.9h0.8M230.9 129.8h0.8M240.0 91.7h0.8M228.5 129.6h0.8M228.1 126.5h0.8M241.0 125.0h0.8M238.6 130.1h0.8M241.0 96.6h0.8M239.1 132.0h0.8M235.0 131.9h0.8M244.0 98.6h0.8M239.7 91.9h0.8M226.3 119.8h0.8M240.0 131.1h0.8M229.0 105.3h0.8M226.8 120.1h0.8M229.8 106.1h0.8M232.7 100.4h0.8M240.8 96.8h0.8M240.1 94.4h0.8M232.3 102.2h0.8M231.3 127.7h0.8M234.4 97.9h0.8M243.2 124.0h0.8M239.8 94.3h0.8M238.3 94.3h0.8M240.1 127.5h0.8M236.4 96.6h0.8M226.6 111.2h0.8M226.7 120.3h0.8M239.0 94.3h0.8M237.1 96.6h0.8M241.6 123.2h0.8M241.9 101.7h0.8M243.0 107.7h0.8M230.1 104.1h0.8M242.5 110.9h0.8M241.8 122.7h0.8M240.5 95.2h0.8M237.1 131.5h0.8M238.9 92.2h0.8M231.2 130.4h0.8M237.3 95.7h0.8M229.4 109.1h0.8M242.3 118.4h0.8M244.0 117.2h0.8M231.1 104.7h0.8M244.0 114.9h0.8M235.2 97.5h0.8M242.7 104.5h0.8M241.8 121.2h0.8M229.7 105.5h0.8M239.2 95.3h0.8M228.5 126.9h0.8M234.3 131.7h0.8M227.0 124.7h0.8M242.7 117.8h0.8M239.7 130.0h0.8M233.2 131.6h0.8M232.8 130.9h0.8M226.6 126.3h0.8M242.4 112.1h0.8M234.4 133.4h0.8M238.1 95.7h0.8M227.2 126.6h0.8M243.4 126.0h0.8M236.0 97.5h0.8M230.0 128.6h0.8M242.0 126.7h0.8M232.0 131.4h0.8M237.4 131.0h0.8M236.7 130.6h0.8M227.0 119.9h0.8M236.2 131.8h0.8M235.1 97.8h0.8M237.3 95.2h0.8M241.2 127.4h0.8M227.4 107.4h0.8M237.6 95.7h0.8M240.3 94.6h0.8M244.0 112.5h0.8M227.7 124.7h0.8M242.5 118.0h0.8M242.7 110.6h0.8M243.4 125.4h0.8M236.2 96.7h0.8M229.4 128.4h0.8M233.7 100.7h0.8M238.6 92.2h0.8M226.1 122.9h0.8M228.3 123.3h0.8M238.2 95.0h0.8M235.3 97.3h0.8M240.0 93.4h0.8M234.0 131.7h0.8M230.0 108.2h0.8M230.3 105.8h0.8M235.9 95.6h0.8M226.5 125.1h0.8M234.5 98.5h0.8M225.6 117.0h0.8M239.5 93.8h0.8M241.3 125.9h0.8M242.3 123.2h0.8M240.2 95.2h0.8M230.7 105.8h0.8M236.9 94.8h0.8M242.7 108.4h0.8M243.0 105.1h0.8M238.0 93.6h0.8M240.7 97.4h0.8M226.9 123.1h0.8M234.4 100.1h0.8M236.3 96.3h0.8M240.6 128.2h0.8M237.4 95.9h0.8M244.1 110.3h0.8M228.5 131.6h0.8M241.6 126.2h0.8M238.3 93.7h0.8M230.8 105.9h0.8M235.6 97.9h0.8M226.6 124.3h0.8M239.1 128.8h0.8M239.6 93.0h0.8M236.9 96.9h0.8M232.9 101.1h0.8M230.5 130.3h0.8M243.4 95.9h0.8M227.4 116.1h0.8M242.4 105.5h0.8M225.3 120.5h0.8M234.8 132.2h0.8M240.1 130.2h0.8M243.0 103.9h0.8M239.5 94.7h0.8M241.5 97.5h0.8M245.2 112.5h0.8M242.4 124.8h0.8M227.0 123.8h0.8M241.6 126.3h0.8M236.3 131.7h0.8M225.2 127.0h0.8M227.3 118.8h0.8M238.4 95.7h0.8M229.9 108.4h0.8M234.0 132.7h0.8M235.7 97.4h0.8M235.8 98.0h0.8M229.3 105.5h0.8M239.3 93.8h0.8M232.7 132.5h0.8M227.7 111.4h0.8M239.0 91.9h0.8M235.3 97.0h0.8M229.6 127.5h0.8M228.2 129.2h0.8M242.1 97.6h0.8M227.0 123.5h0.8M241.6 102.8h0.8M243.8 107.3h0.8M226.9 108.7h0.8M228.8 125.6h0.8M234.2 133.1h0.8M239.5 92.2h0.8M234.8 131.2h0.8M225.9 113.4h0.8M232.5 133.5h0.8M226.8 114.1h0.8M232.6 131.6h0.8M242.4 100.2h0.8M239.7 129.0h0.8M235.0 99.5h0.8M228.2 124.7h0.8M239.4 96.0h0.8M242.1 100.6h0.8M232.2 103.2h0.8M237.2 133.0h0.8M243.0 105.9h0.8M239.7 93.6h0.8M234.1 100.3h0.8M236.5 132.4h0.8M230.9 130.7h0.8M227.7 125.7h0.8M236.7 130.6h0.8M228.7 113.2h0.8M240.7 94.8h0.8M240.8 100.0h0.8M236.7 96.9h0.8M231.7 103.5h0.8M239.9 94.4h0.8M235.9 96.8h0.8M239.8 93.1h0.8M228.7 111.3h0.8M238.8 132.2h0.8M227.7 112.3h0.8M238.0 130.5h0.8M234.1 132.8h0.8M242.1 115.1h0.8M240.2 129.6h0.8M235.6 97.5h0.8M231.9 130.5h0.8M242.4 107.8h0.8M241.1 97.2h0.8M237.3 97.5h0.8M242.5 98.6h0.8M232.7 131.2h0.8M236.4 97.3h0.8M228.3 126.6h0.8M230.9 131.0h0.8M229.8 129.9h0.8M238.7 94.0h0.8M243.8 109.3h0.8M239.9 94.1h0.8M242.3 107.2h0.8M238.8 94.2h0.8M239.9 97.8h0.8M225.8 118.8h0.8M242.6 107.3h0.8M230.7 129.3h0.8M243.2 100.2h0.8M230.9 128.5h0.8M233.8 132.5h0.8M226.3 116.9h0.8M242.6 110.8h0.8M228.8 125.5h0.8M235.9 97.2h0.8M235.4 98.6h0.8M227.5 113.2h0.8M226.6 123.6h0.8M239.8 94.3h0.8M231.4 130.8h0.8M241.0 99.2h0.8M236.8 96.3h0.8M241.6 122.6h0.8M231.1 107.5h0.8M234.7 132.6h0.8M237.8 96.1h0.8M228.6 127.7h0.8M227.0 108.8h0.8M243.0 119.8h0.8M243.4 100.1h0.8M242.3 126.2h0.8M239.6 94.4h0.8M231.8 132.8h0.8M237.8 131.6h0.8M226.3 116.0h0.8M235.5 132.9h0.8M242.2 97.1h0.8M242.7 123.5h0.8M226.2 118.2h0.8M242.0 128.7h0.8M232.1 130.0h0.8M232.6 131.2h0.8M230.8 129.9h0.8M237.5 94.9h0.8M238.1 133.6h0.8M232.8 99.5h0.8M230.0 126.9h0.8M229.4 127.0h0.8M233.6 133.1h0.8M231.2 134.3h0.8M237.5 130.5h0.8M230.1 131.4h0.8M242.3 110.9h0.8M241.7 97.6h0.8M229.7 111.8h0.8M242.6 124.5h0.8M242.3 123.4h0.8M230.3 128.5h0.8M238.3 132.5h0.8M233.7 96.4h0.8M242.9 120.1h0.8M228.2 104.2h0.8M240.7 98.5h0.8M240.2 129.3h0.8M238.1 130.6h0.8M240.5 128.9h0.8M239.0 93.8h0.8M242.7 100.9h0.8M228.6 125.9h0.8M226.5 117.1h0.8M241.6 124.6h0.8M241.8 94.5h0.8M241.9 120.9h0.8M228.6 111.6h0.8M241.6 122.4h0.8M235.4 97.9h0.8M240.2 95.7h0.8M244.1 112.7h0.8M227.0 119.0h0.8M241.5 118.3h0.8M242.6 124.5h0.8M228.8 127.7h0.8M226.3 113.7h0.8M240.5 129.2h0.8M240.8 96.4h0.8M240.8 128.5h0.8M243.5 99.4h0.8M239.4 94.6h0.8M233.3 99.8h0.8M234.1 100.6h0.8M233.3 131.2h0.8M237.3 131.9h0.8M242.2 97.8h0.8M240.0 133.1h0.8M230.6 106.2h0.8M238.2 132.2h0.8M236.9 93.2h0.8M228.3 126.1h0.8M231.4 130.9h0.8M231.3 102.7h0.8M227.4 123.8h0.8M238.3 130.6h0.8M233.8 99.5h0.8M226.8 109.0h0.8M239.4 95.2h0.8M228.8 113.5h0.8M240.9 132.6h0.8M229.6 128.4h0.8M231.9 103.2h0.8M228.7 126.7h0.8M235.1 99.2h0.8M236.4 96.6h0.8M237.6 93.5h0.8M243.5 118.4h0.8M236.0 132.6h0.8M232.2 130.1h0.8M227.2 117.9h0.8M239.9 92.7h0.8M226.7 116.6h0.8M236.2 131.8h0.8M232.5 101.4h0.8M241.5 96.2h0.8M225.5 124.0h0.8M226.2 115.6h0.8M227.0 121.1h0.8M226.8 113.8h0.8M227.2 120.6h0.8M236.2 96.2h0.8M228.9 127.4h0.8M242.5 103.6h0.8M242.0 99.9h0.8M241.0 127.3h0.8M235.8 97.7h0.8M238.9 93.2h0.8M235.2 131.3h0.8M231.3 129.3h0.8M228.1 115.2h0.8M229.5 107.3h0.8M231.6 130.2h0.8M238.7 93.6h0.8M240.5 96.6h0.8M239.0 129.6h0.8M241.9 122.9h0.8M239.3 130.6h0.8M230.4 108.0h0.8M227.5 119.7h0.8M237.4 95.5h0.8M228.7 129.6h0.8M226.5 113.3h0.8M229.6 126.6h0.8M232.1 102.1h0.8M242.5 114.0h0.8M240.6 94.5h0.8M243.5 97.2h0.8M232.9 130.8h0.8M240.6 94.1h0.8M229.9 105.0h0.8M244.4 123.5h0.8M242.0 103.7h0.8M231.8 107.0h0.8M227.3 123.7h0.8M238.4 94.9h0.8M236.5 95.6h0.8M242.5 128.6h0.8M234.8 133.1h0.8M242.6 107.5h0.8M225.7 122.5h0.8M238.7 94.3h0.8M238.1 95.6h0.8M235.2 132.7h0.8M228.9 108.2h0.8M236.5 96.2h0.8M231.6 128.7h0.8M240.1 93.7h0.8M242.1 100.0h0.8M242.6 111.4h0.8M241.3 126.1h0.8M237.4 131.8h0.8M239.7 130.4h0.8M241.1 126.7h0.8M239.6 130.2h0.8M227.2 115.4h0.8M232.0 103.7h0.8M239.5 129.6h0.8M240.9 130.9h0.8M230.1 105.5h0.8M240.3 130.4h0.8M240.2 95.5h0.8M234.2 131.5h0.8M237.5 95.6h0.8M239.7 130.1h0.8M230.9 128.7h0.8M232.4 131.8h0.8M229.6 110.6h0.8M229.5 107.1h0.8M240.2 129.5h0.8M233.3 134.3h0.8M232.6 132.3h0.8M242.8 101.4h0.8M234.4 99.2h0.8M242.1 98.0h0.8M239.3 94.5h0.8M224.6 117.0h0.8M226.5 110.7h0.8M241.0 93.8h0.8M239.1 92.4h0.8M235.6 94.6h0.8M243.1 119.9h0.8M242.4 122.6h0.8M232.7 129.8h0.8M224.9 121.5h0.8M232.5 103.0h0.8M227.6 109.5h0.8M246.0 110.7h0.8M236.7 134.6h0.8M242.5 121.6h0.8M241.6 122.0h0.8M238.1 95.6h0.8M226.9 120.7h0.8M234.9 100.4h0.8M235.7 132.9h0.8M233.2 130.6h0.8M241.4 119.8h0.8M238.9 94.5h0.8M243.3 103.1h0.8" stroke="#444" stroke-opacity="0.4" stroke-width="0.8" fill="none"/>
<g filter="url(#b)">
<path d="M239.40 94.50C240.07 95.30 241.27 97.42 241.80 100.00C242.33 102.58 242.55 106.33 242.60 110.00C242.65 113.67 242.45 118.83 242.10 122.00C241.75 125.17 241.35 127.40 240.50 129.00C239.65 130.60 238.25 131.27 237.00 131.60C235.75 131.93 234.25 131.77 233.00 131.00C231.75 130.23 230.53 128.50 229.50 127.00C228.47 125.50 227.05 124.17 226.80 122.00C226.55 119.83 227.30 116.67 228.00 114.00C228.70 111.33 229.83 108.50 231.00 106.00C232.17 103.50 233.87 100.80 235.00 99.00C236.13 97.20 237.07 95.95 237.80 95.20C238.53 94.45 238.73 93.70 239.40 94.50Z" fill="#1458ff"/>
<path d="M238.95 97.12C239.51 97.83 240.52 99.71 240.97 102.01C241.42 104.31 241.60 107.65 241.64 110.91C241.68 114.18 241.51 118.77 241.22 121.59C240.93 124.41 240.59 126.40 239.88 127.82C239.16 129.25 237.99 129.84 236.94 130.14C235.89 130.43 234.63 130.29 233.58 129.60C232.53 128.92 231.50 127.38 230.64 126.04C229.77 124.71 228.58 123.52 228.37 121.59C228.16 119.66 228.79 116.85 229.38 114.47C229.96 112.10 230.92 109.58 231.90 107.35C232.88 105.13 234.30 102.73 235.26 101.12C236.21 99.52 236.99 98.41 237.61 97.74C238.22 97.07 238.39 96.41 238.95 97.12Z" fill="#14b4ff"/>
<path d="M238.62 99.26C239.10 99.90 239.96 101.59 240.34 103.66C240.73 105.73 240.88 108.73 240.92 111.66C240.96 114.59 240.81 118.73 240.56 121.26C240.31 123.79 240.02 125.58 239.41 126.86C238.80 128.14 237.79 128.67 236.89 128.94C235.99 129.21 234.91 129.07 234.01 128.46C233.11 127.85 232.23 126.46 231.49 125.26C230.74 124.06 229.72 122.99 229.54 121.26C229.36 119.53 229.90 116.99 230.41 114.86C230.91 112.73 231.73 110.46 232.57 108.46C233.41 106.46 234.63 104.30 235.45 102.86C236.26 101.42 236.94 100.42 237.46 99.82C237.99 99.22 238.14 98.62 238.62 99.26Z" fill="#20f040"/>
<path d="M237.55 106.40C237.78 106.80 238.19 107.86 238.37 109.15C238.55 110.44 238.62 112.32 238.64 114.15C238.66 115.98 238.59 118.57 238.47 120.15C238.35 121.73 238.21 122.85 237.93 123.65C237.64 124.45 237.16 124.78 236.74 124.95C236.31 125.12 235.80 125.03 235.38 124.65C234.95 124.27 234.54 123.40 234.19 122.65C233.83 121.90 233.35 121.23 233.27 120.15C233.18 119.07 233.44 117.48 233.68 116.15C233.91 114.82 234.30 113.40 234.70 112.15C235.09 110.90 235.67 109.55 236.06 108.65C236.44 107.75 236.76 107.12 237.01 106.75C237.26 106.38 237.33 106.00 237.55 106.40Z" fill="#f8f020"/>
<path d="M237.27 109.26C237.43 109.56 237.72 110.36 237.85 111.35C237.98 112.33 238.03 113.75 238.04 115.15C238.05 116.54 238.00 118.50 237.92 119.71C237.84 120.91 237.74 121.76 237.54 122.37C237.33 122.97 237.00 123.23 236.70 123.35C236.40 123.48 236.04 123.42 235.74 123.13C235.44 122.83 235.14 122.18 234.90 121.61C234.65 121.04 234.31 120.53 234.25 119.71C234.19 118.88 234.37 117.68 234.54 116.67C234.70 115.65 234.98 114.58 235.26 113.63C235.54 112.68 235.94 111.65 236.22 110.97C236.49 110.28 236.71 109.81 236.89 109.52C237.06 109.24 237.11 108.95 237.27 109.26Z" fill="#ff8000"/>
<path d="M236.99 112.11C237.09 112.32 237.25 112.87 237.33 113.54C237.40 114.21 237.43 115.19 237.44 116.14C237.45 117.10 237.42 118.44 237.37 119.26C237.32 120.09 237.26 120.67 237.15 121.08C237.03 121.50 236.83 121.67 236.66 121.76C236.48 121.84 236.27 121.80 236.10 121.60C235.92 121.40 235.75 120.95 235.61 120.56C235.46 120.17 235.26 119.83 235.23 119.26C235.19 118.70 235.30 117.88 235.40 117.18C235.49 116.49 235.65 115.75 235.82 115.10C235.98 114.45 236.22 113.75 236.38 113.28C236.53 112.81 236.67 112.49 236.77 112.29C236.87 112.10 236.90 111.90 236.99 112.11Z" fill="#ff1800"/>
</g>
<path d="M245.3 87.0V143.6" stroke="#686868" stroke-width="0.8" fill="none"/>
<rect x="282.6" y="87.0" width="3" height="56.6" fill="#ccc"/>
<path d="M245.3 87.1H285.6M245.3 143.79999999999998H285.6" stroke="#606060" stroke-width="0.8" fill="none"/>
<text x="254.2" y="94.4" font-size="5.7" text-anchor="start" font-weight="bold" fill="#111" stroke="#111" stroke-width="0.28" >GFP+</text>
<text x="254.2" y="100.3" font-size="5.7" text-anchor="start" font-weight="bold" fill="#111" stroke="#111" stroke-width="0.28" >%P:0,00</text>
<rect x="362.6" y="17.8" width="67.4" height="57.2" fill="#fff" stroke="#999" stroke-width="0.9"/>
<path d="M362.90000000000003 19.8V73.0" stroke="#777" stroke-width="0.9" stroke-dasharray="0.8 1.0" fill="none"/>
<path d="M365.6 75.7H428.0" stroke="#888" stroke-width="0.7" stroke-dasharray="0.8 2.9" fill="none"/>
<path d="M382.8 51.7h0.8M379.2 32.2h0.8M378.3 39.0h0.8M386.0 53.2h0.8M380.9 43.9h0.8M378.5 46.3h0.8M376.1 63.4h0.8M367.3 67.0h0.8M384.1 60.3h0.8M380.1 30.3h0.8M376.0 59.6h0.8M379.4 29.1h0.8M383.0 31.1h0.8M380.7 49.4h0.8M377.9 56.5h0.8M387.1 39.5h0.8M379.1 58.8h0.8M373.9 52.8h0.8M376.8 64.3h0.8M381.5 44.5h0.8M381.9 64.8h0.8M383.0 42.6h0.8M370.9 40.6h0.8M378.3 47.7h0.8M387.1 32.1h0.8M381.7 33.8h0.8M375.3 47.1h0.8M379.1 20.6h0.8M376.3 36.3h0.8M382.0 50.0h0.8M378.2 49.7h0.8M373.7 67.4h0.8M376.1 48.8h0.8M383.3 42.4h0.8M381.6 31.6h0.8M375.6 43.7h0.8M374.6 55.4h0.8M380.4 49.6h0.8M382.8 39.4h0.8M374.7 66.7h0.8M375.7 43.8h0.8M376.1 51.5h0.8M378.7 28.5h0.8M383.9 38.3h0.8M375.7 52.2h0.8M376.7 54.6h0.8M385.5 48.0h0.8M379.8 42.2h0.8M385.3 62.3h0.8M382.9 27.2h0.8M378.2 42.6h0.8M374.6 47.5h0.8M380.8 45.6h0.8M376.8 33.3h0.8M377.9 35.3h0.8M372.4 55.4h0.8M380.9 42.9h0.8M387.4 29.4h0.8M382.9 46.1h0.8M384.1 48.6h0.8M387.3 37.5h0.8M384.0 42.5h0.8M382.1 49.6h0.8M387.9 37.1h0.8M381.1 49.3h0.8M389.8 46.7h0.8M367.7 52.6h0.8M371.0 70.7h0.8M382.8 57.7h0.8M382.0 49.8h0.8M379.5 66.0h0.8M385.1 38.8h0.8M371.2 42.9h0.8M378.3 60.9h0.8M379.8 65.7h0.8M389.6 40.1h0.8M385.2 28.0h0.8M382.0 47.3h0.8M383.7 40.2h0.8M370.6 38.1h0.8M390.3 36.5h0.8M374.4 50.0h0.8M379.2 55.5h0.8M376.0 53.1h0.8M387.2 36.9h0.8M384.2 23.2h0.8M376.5 32.7h0.8M388.5 38.9h0.8M382.5 33.9h0.8M371.5 41.3h0.8M383.1 36.7h0.8M385.6 22.0h0.8M380.6 37.9h0.8M378.9 33.0h0.8M373.7 45.7h0.8M385.9 37.1h0.8M369.7 71.7h0.8M378.2 55.0h0.8M375.7 55.5h0.8M381.6 30.4h0.8M384.7 41.2h0.8M380.2 50.3h0.8M386.6 54.7h0.8M375.0 51.1h0.8M379.6 46.4h0.8M375.3 50.8h0.8M378.9 29.5h0.8M380.1 37.7h0.8M384.2 30.4h0.8M370.3 27.0h0.8M374.2 39.3h0.8M369.3 61.7h0.8M373.6 41.8h0.8M375.3 67.7h0.8M382.8 52.8h0.8M381.4 31.0h0.8M374.7 35.1h0.8M387.7 29.6h0.8M374.0 42.0h0.8M385.4 31.8h0.8M385.1 32.6h0.8M381.8 44.7h0.8M389.2 28.8h0.8M376.8 37.9h0.8M389.8 26.7h0.8M375.4 45.2h0.8M384.2 50.4h0.8M374.3 45.7h0.8M373.5 59.5h0.8M378.2 39.8h0.8M382.1 40.0h0.8M379.0 39.6h0.8M382.2 54.4h0.8M380.4 36.6h0.8M375.4 53.5h0.8M385.6 42.2h0.8M381.6 50.7h0.8M381.7 29.5h0.8M380.2 66.2h0.8M377.5 41.0h0.8M377.4 47.2h0.8M382.9 43.2h0.8M373.7 59.6h0.8M376.1 55.1h0.8M385.2 28.5h0.8M371.9 42.5h0.8M385.4 46.3h0.8M371.6 63.2h0.8M379.6 37.2h0.8M388.4 35.3h0.8M383.1 44.1h0.8M380.5 34.6h0.8M380.0 50.5h0.8M382.7 38.6h0.8M381.7 30.7h0.8M375.2 32.9h0.8M371.1 43.3h0.8M372.1 49.5h0.8M366.1 55.3h0.8M376.2 50.1h0.8M376.1 57.7h0.8M372.8 64.5h0.8M377.9 58.5h0.8M379.8 44.0h0.8M384.1 43.1h0.8M369.6 49.7h0.8M381.8 58.2h0.8M378.7 38.6h0.8M379.3 40.8h0.8M381.3 38.9h0.8M378.9 54.5h0.8M377.9 52.3h0.8M372.7 49.4h0.8M384.3 39.2h0.8M371.1 60.9h0.8M372.2 49.2h0.8M385.4 39.4h0.8M372.1 57.6h0.8M382.7 51.5h0.8M378.6 37.6h0.8M378.0 47.5h0.8M376.6 42.5h0.8M384.9 31.4h0.8M382.2 65.6h0.8M382.7 55.3h0.8M382.1 26.7h0.8M387.1 50.7h0.8M380.0 42.2h0.8M384.7 45.2h0.8M381.2 36.8h0.8M376.3 58.5h0.8M375.5 50.6h0.8M375.8 35.0h0.8M370.5 58.5h0.8M391.0 30.4h0.8M387.0 35.4h0.8M374.6 54.2h0.8M389.7 21.6h0.8M377.2 29.3h0.8M380.2 44.9h0.8M379.8 40.9h0.8M375.0 43.7h0.8M377.8 48.5h0.8M379.1 36.8h0.8M383.9 41.0h0.8M381.3 41.7h0.8M389.9 25.2h0.8M379.6 28.0h0.8M381.0 31.9h0.8" stroke="#555" stroke-opacity="0.28" stroke-width="0.8" fill="none"/>
<path d="M374.3 45.1h0.8M381.0 63.2h0.8M374.0 45.3h0.8M388.4 46.7h0.8M381.6 62.2h0.8M372.0 49.2h0.8M389.8 56.5h0.8M385.5 58.5h0.8M383.0 61.1h0.8M382.1 27.7h0.8M374.5 58.6h0.8M380.9 29.3h0.8M389.2 46.0h0.8M378.2 33.3h0.8M382.2 28.0h0.8M391.0 35.8h0.8M386.2 57.9h0.8M372.4 50.2h0.8M386.5 24.9h0.8M388.5 42.5h0.8M381.3 63.7h0.8M374.2 43.9h0.8M379.8 62.3h0.8M386.0 26.2h0.8M376.9 37.1h0.8M381.9 24.8h0.8M375.2 56.5h0.8M376.6 59.2h0.8M388.4 45.4h0.8M371.0 55.5h0.8M373.7 53.8h0.8M384.0 26.1h0.8M387.2 50.1h0.8M380.4 31.0h0.8M388.5 31.6h0.8M372.6 53.9h0.8M376.9 60.7h0.8M387.4 30.8h0.8M375.3 44.2h0.8M379.9 62.1h0.8M372.8 47.5h0.8M387.0 26.8h0.8M387.4 28.1h0.8M381.0 29.2h0.8M387.2 29.9h0.8M373.8 56.4h0.8M373.4 54.9h0.8M381.6 61.9h0.8M375.6 59.7h0.8M388.1 52.5h0.8M372.8 58.2h0.8M380.0 62.6h0.8M387.0 30.5h0.8M380.5 30.5h0.8M385.3 25.5h0.8M377.3 59.3h0.8M373.3 49.4h0.8M381.9 27.6h0.8M385.1 26.7h0.8M381.9 28.8h0.8M375.6 63.4h0.8M377.9 61.7h0.8M372.9 51.4h0.8M387.3 27.5h0.8M378.4 38.0h0.8M374.3 42.0h0.8M385.4 57.1h0.8M388.8 29.5h0.8M385.2 58.7h0.8M382.2 26.8h0.8M383.3 24.3h0.8M387.8 53.9h0.8M382.2 63.3h0.8M387.5 31.8h0.8M387.7 36.2h0.8M387.5 32.1h0.8M374.2 54.6h0.8M380.8 30.2h0.8M378.9 62.3h0.8M386.8 52.3h0.8M376.8 59.5h0.8M384.7 25.4h0.8M388.7 49.6h0.8M391.0 42.8h0.8M375.7 57.2h0.8M373.1 48.8h0.8M387.9 32.1h0.8M388.1 50.2h0.8M385.7 60.7h0.8M374.7 53.7h0.8M373.5 55.6h0.8M373.5 45.4h0.8M373.7 54.6h0.8M375.0 40.7h0.8M388.6 29.3h0.8M387.4 54.0h0.8M390.0 43.1h0.8M382.5 61.0h0.8M386.0 24.7h0.8M384.5 24.4h0.8M374.3 57.2h0.8M389.2 35.5h0.8M386.5 24.8h0.8M379.7 29.5h0.8M381.6 28.4h0.8M374.4 58.3h0.8M382.0 24.2h0.8M381.1 62.2h0.8M381.7 63.5h0.8M381.9 62.4h0.8M387.8 26.8h0.8M383.1 25.4h0.8M378.8 61.4h0.8M378.4 35.3h0.8M373.1 48.7h0.8M388.9 54.7h0.8M388.5 35.5h0.8M382.3 25.8h0.8M390.2 52.9h0.8M387.4 52.3h0.8M373.4 51.7h0.8M386.1 25.7h0.8M384.2 59.7h0.8M387.9 50.7h0.8M372.1 50.9h0.8M384.7 60.5h0.8M382.2 64.1h0.8M373.2 55.9h0.8M382.6 62.1h0.8M381.5 60.9h0.8M375.5 59.5h0.8M386.8 29.5h0.8M386.9 29.9h0.8M373.3 56.5h0.8M386.5 29.0h0.8M387.7 29.9h0.8M387.4 52.6h0.8M374.3 55.7h0.8M386.8 30.8h0.8M383.8 25.3h0.8M376.3 39.0h0.8M376.8 60.7h0.8M376.6 59.4h0.8M383.1 60.8h0.8M377.2 60.6h0.8M387.8 31.5h0.8M379.9 63.0h0.8M382.9 26.3h0.8M373.9 51.4h0.8M385.9 56.5h0.8M373.9 59.4h0.8M380.2 64.7h0.8M384.0 24.0h0.8M373.3 49.2h0.8M388.0 37.1h0.8M382.6 27.3h0.8M372.1 56.8h0.8M378.9 31.6h0.8M377.9 34.5h0.8M375.3 59.3h0.8M380.3 62.9h0.8M372.2 53.9h0.8M384.8 24.1h0.8M379.7 63.8h0.8M374.1 46.1h0.8M385.2 62.6h0.8M380.9 63.6h0.8M387.6 34.8h0.8M372.7 52.3h0.8M388.2 35.1h0.8M380.6 30.9h0.8M376.3 41.8h0.8M375.4 58.4h0.8M374.1 42.4h0.8M380.7 31.1h0.8M372.7 57.5h0.8M386.5 30.8h0.8M375.2 56.1h0.8M381.9 28.0h0.8M379.9 62.9h0.8M384.8 61.1h0.8M376.2 58.3h0.8M377.1 61.8h0.8M386.4 55.6h0.8M390.7 44.4h0.8M376.6 35.3h0.8M387.6 42.2h0.8M379.2 32.5h0.8M376.8 36.8h0.8M388.3 41.7h0.8M373.8 51.0h0.8M384.2 24.4h0.8M372.7 56.1h0.8M381.2 27.5h0.8M384.2 26.7h0.8M385.0 25.5h0.8M373.0 53.0h0.8M381.2 29.1h0.8M388.2 31.4h0.8M373.8 47.8h0.8M387.3 31.1h0.8M375.0 57.5h0.8M375.4 42.7h0.8M389.6 37.6h0.8M389.5 35.5h0.8M387.2 55.2h0.8M385.6 24.7h0.8M379.0 33.0h0.8M389.1 49.1h0.8M387.4 50.8h0.8M388.0 45.0h0.8M387.7 30.8h0.8M375.4 59.2h0.8M389.4 37.8h0.8M380.5 28.2h0.8M388.2 52.3h0.8M391.1 41.7h0.8M375.2 40.4h0.8M374.7 52.1h0.8M383.0 24.2h0.8M386.9 56.7h0.8M382.3 26.4h0.8M382.2 61.9h0.8M375.9 36.9h0.8M375.6 56.5h0.8M379.4 62.8h0.8M385.8 28.1h0.8M374.2 42.2h0.8M384.4 59.1h0.8M379.7 61.5h0.8M382.4 23.7h0.8M381.8 24.6h0.8M373.3 57.9h0.8M376.6 59.6h0.8M379.3 61.8h0.8M377.9 34.6h0.8M385.4 58.5h0.8M387.8 50.4h0.8M388.4 36.7h0.8M384.3 26.3h0.8M388.4 53.8h0.8M378.6 60.4h0.8M382.8 27.0h0.8M381.5 29.3h0.8M377.1 60.6h0.8M388.1 55.8h0.8M384.4 60.6h0.8M378.9 31.2h0.8M388.7 39.9h0.8M373.2 41.9h0.8M388.6 38.9h0.8M383.2 25.5h0.8M373.1 54.8h0.8M387.8 24.8h0.8M379.4 63.5h0.8M379.6 61.6h0.8M378.2 61.5h0.8M388.3 54.3h0.8M387.4 52.3h0.8M374.3 43.0h0.8M373.9 38.5h0.8M379.1 61.8h0.8M385.1 60.3h0.8M380.6 31.5h0.8M375.9 40.6h0.8M380.7 62.6h0.8M374.7 43.4h0.8M375.0 35.1h0.8M383.6 63.8h0.8M384.9 57.7h0.8M378.0 60.8h0.8M377.9 62.5h0.8M386.7 52.4h0.8M382.9 60.1h0.8M370.8 44.7h0.8M380.6 29.8h0.8M387.9 37.1h0.8M388.4 38.5h0.8M381.5 61.7h0.8M381.0 60.8h0.8M386.5 27.8h0.8M380.1 63.8h0.8M372.8 48.1h0.8M374.1 42.0h0.8M377.3 60.1h0.8M388.8 33.6h0.8M389.4 43.4h0.8M382.0 63.5h0.8M378.7 61.9h0.8M383.8 26.4h0.8M386.3 25.1h0.8M384.5 60.3h0.8M379.3 63.4h0.8M377.0 60.0h0.8M378.9 32.3h0.8M380.4 31.7h0.8M381.8 28.7h0.8M388.6 56.6h0.8M388.2 52.5h0.8M386.2 27.3h0.8M374.0 55.9h0.8M376.4 57.5h0.8M377.3 60.0h0.8M376.6 37.2h0.8M380.4 27.6h0.8M373.0 54.9h0.8M384.8 23.6h0.8M385.0 60.4h0.8M386.2 56.3h0.8M388.5 37.5h0.8M386.7 27.9h0.8M386.6 24.6h0.8M381.4 26.4h0.8M374.9 58.3h0.8M383.2 60.5h0.8M388.5 34.0h0.8M374.2 47.8h0.8M380.4 61.5h0.8M389.1 32.7h0.8M385.0 58.1h0.8M373.2 53.0h0.8M384.7 24.8h0.8M388.1 33.9h0.8M373.0 45.9h0.8M383.9 27.2h0.8M386.0 56.9h0.8M382.0 29.6h0.8M383.4 25.1h0.8M374.2 47.3h0.8M382.1 60.1h0.8M373.7 55.7h0.8M386.7 26.5h0.8M377.3 39.1h0.8M385.6 62.5h0.8M372.7 40.2h0.8M373.1 45.8h0.8M389.8 53.8h0.8M374.8 57.5h0.8M378.4 63.1h0.8M388.2 51.8h0.8M372.8 52.6h0.8M387.1 62.3h0.8M385.9 28.2h0.8M375.3 58.8h0.8M385.2 57.2h0.8M380.6 28.2h0.8M381.3 63.0h0.8M375.5 42.2h0.8M374.7 59.8h0.8M384.6 60.4h0.8M374.5 57.6h0.8M373.3 53.1h0.8M373.8 55.9h0.8M380.0 30.4h0.8M374.6 44.3h0.8M382.1 26.7h0.8M387.9 49.5h0.8M371.7 45.8h0.8M379.7 61.5h0.8M391.1 48.5h0.8M388.0 43.9h0.8M381.1 29.9h0.8M374.3 47.0h0.8M388.7 46.8h0.8M382.9 26.1h0.8M386.2 57.9h0.8M377.4 59.6h0.8M385.9 28.4h0.8M386.5 55.9h0.8M381.4 26.5h0.8M378.0 38.0h0.8M373.7 56.5h0.8M374.4 49.1h0.8M386.3 25.5h0.8M373.1 46.3h0.8M372.4 57.4h0.8M386.4 54.5h0.8M386.9 54.1h0.8M379.8 32.2h0.8M381.1 27.3h0.8M372.9 49.7h0.8M373.2 53.7h0.8M388.9 42.3h0.8M384.4 60.9h0.8M373.9 56.3h0.8M383.3 62.3h0.8M387.0 52.3h0.8M380.6 30.6h0.8M387.5 28.2h0.8M379.1 32.4h0.8M382.4 28.2h0.8M372.5 54.7h0.8M379.8 61.5h0.8M383.6 24.5h0.8M381.9 61.0h0.8M376.8 40.1h0.8M381.5 62.1h0.8M387.5 28.5h0.8M379.0 34.0h0.8M385.8 23.0h0.8M379.6 30.5h0.8M372.5 53.2h0.8M388.1 53.8h0.8M373.5 51.0h0.8M375.1 54.5h0.8M377.3 62.5h0.8M389.0 37.0h0.8M378.3 60.9h0.8M388.0 32.6h0.8M376.4 59.0h0.8M387.9 56.9h0.8M381.7 62.5h0.8M380.0 64.7h0.8M375.1 44.0h0.8M376.2 62.0h0.8M375.3 43.4h0.8M389.8 43.4h0.8M387.8 52.8h0.8M382.7 25.7h0.8M386.2 26.5h0.8M376.8 37.8h0.8M374.8 59.9h0.8M386.4 53.0h0.8M378.1 34.4h0.8M374.0 45.7h0.8M385.2 23.3h0.8M385.7 56.3h0.8M374.1 45.1h0.8M382.9 60.2h0.8M381.8 29.2h0.8M386.2 26.5h0.8M381.4 28.0h0.8M374.4 48.9h0.8M375.1 42.5h0.8M380.0 63.6h0.8M385.4 59.6h0.8M384.3 62.4h0.8M383.8 24.1h0.8M389.3 32.2h0.8M374.3 46.8h0.8M385.3 57.9h0.8M374.0 39.2h0.8M388.8 56.4h0.8M386.6 26.9h0.8M373.8 51.0h0.8M385.2 26.5h0.8M373.7 46.9h0.8M380.3 63.0h0.8M373.3 47.0h0.8M380.9 28.7h0.8M377.9 60.3h0.8M381.9 64.1h0.8M389.2 44.1h0.8M387.9 36.2h0.8M388.4 39.7h0.8M374.6 56.5h0.8M389.0 49.6h0.8M386.0 26.6h0.8M376.7 58.6h0.8M385.7 58.2h0.8M387.2 26.2h0.8M379.6 63.3h0.8M386.2 26.3h0.8M377.0 34.3h0.8M374.2 46.0h0.8M385.2 23.5h0.8M377.5 63.4h0.8M383.9 24.3h0.8M373.8 48.1h0.8M372.9 55.4h0.8M377.7 61.5h0.8M374.9 61.3h0.8M382.9 60.8h0.8M372.8 49.9h0.8M374.8 45.3h0.8M380.8 30.6h0.8M382.1 28.8h0.8M374.4 56.3h0.8M386.2 58.6h0.8M387.1 31.7h0.8M375.0 40.7h0.8M374.7 57.3h0.8M387.7 52.0h0.8M373.3 52.2h0.8M384.9 24.8h0.8M388.2 29.0h0.8M382.6 62.3h0.8M384.4 22.0h0.8M380.3 63.2h0.8M383.7 25.9h0.8M385.9 23.5h0.8M391.0 52.6h0.8M387.7 28.1h0.8M384.3 60.6h0.8M381.4 62.4h0.8M386.4 29.3h0.8M373.1 48.2h0.8M388.9 38.6h0.8M380.4 30.6h0.8M389.4 40.5h0.8" stroke="#444" stroke-opacity="0.4" stroke-width="0.8" fill="none"/>
<g filter="url(#b)">
<path d="M385.50 25.50C386.30 26.42 387.32 29.25 387.80 32.00C388.28 34.75 388.43 38.67 388.40 42.00C388.37 45.33 388.17 49.17 387.60 52.00C387.03 54.83 386.10 57.32 385.00 59.00C383.90 60.68 382.33 61.93 381.00 62.10C379.67 62.27 378.17 61.10 377.00 60.00C375.83 58.90 374.60 57.33 374.00 55.50C373.40 53.67 373.07 51.42 373.40 49.00C373.73 46.58 374.90 43.83 376.00 41.00C377.10 38.17 378.83 34.42 380.00 32.00C381.17 29.58 382.08 27.58 383.00 26.50C383.92 25.42 384.70 24.58 385.50 25.50Z" fill="#1458ff"/>
<path d="M384.96 27.79C385.62 28.61 386.45 31.16 386.85 33.64C387.24 36.12 387.37 39.64 387.34 42.64C387.31 45.64 387.15 49.09 386.68 51.64C386.22 54.19 385.45 56.42 384.55 57.94C383.65 59.45 382.36 60.58 381.27 60.73C380.18 60.88 378.95 59.83 377.99 58.84C377.03 57.85 376.02 56.44 375.53 54.79C375.04 53.14 374.76 51.11 375.04 48.94C375.31 46.77 376.27 44.29 377.17 41.74C378.07 39.19 379.49 35.81 380.45 33.64C381.41 31.46 382.16 29.66 382.91 28.69C383.66 27.71 384.30 26.96 384.96 27.79Z" fill="#14b4ff"/>
<path d="M384.57 30.08C385.12 30.81 385.82 33.08 386.16 35.28C386.49 37.48 386.59 40.61 386.57 43.28C386.55 45.95 386.41 49.01 386.02 51.28C385.63 53.55 384.98 55.53 384.23 56.88C383.47 58.23 382.38 59.23 381.46 59.36C380.54 59.49 379.51 58.56 378.70 57.68C377.90 56.80 377.05 55.55 376.63 54.08C376.22 52.61 375.99 50.81 376.22 48.88C376.45 46.95 377.26 44.75 378.01 42.48C378.77 40.21 379.97 37.21 380.77 35.28C381.58 33.35 382.21 31.75 382.85 30.88C383.48 30.01 384.02 29.35 384.57 30.08Z" fill="#20f040"/>
<path d="M383.64 35.58C383.94 36.09 384.33 37.68 384.51 39.22C384.70 40.76 384.75 42.95 384.74 44.82C384.73 46.68 384.65 48.83 384.44 50.42C384.22 52.00 383.87 53.39 383.45 54.34C383.03 55.28 382.44 55.98 381.93 56.07C381.42 56.17 380.85 55.51 380.41 54.90C379.97 54.28 379.50 53.40 379.27 52.38C379.04 51.35 378.92 50.09 379.04 48.74C379.17 47.38 379.61 45.84 380.03 44.26C380.45 42.67 381.11 40.57 381.55 39.22C381.99 37.86 382.34 36.74 382.69 36.14C383.04 35.53 383.34 35.06 383.64 35.58Z" fill="#f8f020"/>
<path d="M383.28 39.24C383.49 39.61 383.75 40.74 383.88 41.84C384.00 42.94 384.04 44.51 384.03 45.84C384.03 47.17 383.97 48.71 383.83 49.84C383.68 50.97 383.44 51.97 383.15 52.64C382.86 53.31 382.46 53.81 382.11 53.88C381.76 53.95 381.37 53.48 381.07 53.04C380.77 52.60 380.45 51.97 380.29 51.24C380.13 50.51 380.05 49.61 380.13 48.64C380.22 47.67 380.52 46.57 380.81 45.44C381.10 44.31 381.55 42.81 381.85 41.84C382.15 40.87 382.39 40.07 382.63 39.64C382.87 39.21 383.07 38.87 383.28 39.24Z" fill="#ff8000"/>
<path d="M382.95 41.99C383.07 42.24 383.22 43.04 383.30 43.81C383.37 44.58 383.39 45.67 383.38 46.61C383.38 47.54 383.35 48.61 383.26 49.41C383.18 50.20 383.04 50.90 382.88 51.37C382.71 51.84 382.47 52.19 382.27 52.24C382.07 52.28 381.85 51.96 381.68 51.65C381.50 51.34 381.32 50.90 381.23 50.39C381.13 49.87 381.08 49.24 381.13 48.57C381.19 47.89 381.36 47.12 381.52 46.33C381.69 45.53 381.95 44.48 382.12 43.81C382.30 43.13 382.44 42.57 382.57 42.27C382.71 41.96 382.83 41.73 382.95 41.99Z" fill="#ff1800"/>
</g>
<path d="M391.5 18.3V74.5" stroke="#686868" stroke-width="0.8" fill="none"/>
<rect x="427.0" y="18.3" width="3" height="56.2" fill="#ccc"/>
<path d="M391.5 18.400000000000002H430.0M391.5 74.7H430.0" stroke="#606060" stroke-width="0.8" fill="none"/>
<text x="399.5" y="24.5" font-size="5.7" text-anchor="start" font-weight="bold" fill="#111" stroke="#111" stroke-width="0.28" >GFP+</text>
<text x="399.5" y="30.4" font-size="5.7" text-anchor="start" font-weight="bold" fill="#111" stroke="#111" stroke-width="0.28" >%P:0,02</text>
<rect x="362.6" y="86.5" width="67.4" height="57.6" fill="#fff" stroke="#999" stroke-width="0.9"/>
<path d="M362.90000000000003 88.5V142.1" stroke="#777" stroke-width="0.9" stroke-dasharray="0.8 1.0" fill="none"/>
<path d="M365.6 144.79999999999998H428.0" stroke="#888" stroke-width="0.7" stroke-dasharray="0.8 2.9" fill="none"/>
<path d="M382.5 129.3h0.8M371.4 120.8h0.8M383.6 122.7h0.8M372.7 108.0h0.8M380.9 113.3h0.8M387.6 112.7h0.8M386.4 106.5h0.8M377.0 131.0h0.8M377.9 115.2h0.8M376.2 98.4h0.8M380.6 132.6h0.8M377.6 113.0h0.8M384.3 111.1h0.8M382.6 111.3h0.8M386.2 110.5h0.8M382.6 97.7h0.8M381.2 95.6h0.8M376.8 129.3h0.8M376.0 103.2h0.8M374.8 121.3h0.8M380.2 111.6h0.8M376.1 111.4h0.8M381.5 105.2h0.8M387.8 124.9h0.8M379.0 120.1h0.8M392.6 127.8h0.8M377.8 115.1h0.8M386.3 124.0h0.8M379.0 117.1h0.8M375.3 110.4h0.8M379.3 112.5h0.8M389.0 118.7h0.8M387.9 117.9h0.8M368.0 129.9h0.8M378.1 113.9h0.8M383.0 136.1h0.8M377.8 133.1h0.8M375.9 123.9h0.8M372.3 127.7h0.8M375.4 123.9h0.8M369.1 133.2h0.8M391.5 115.2h0.8M384.5 103.8h0.8M384.5 97.0h0.8M385.5 116.4h0.8M387.9 117.9h0.8M382.3 105.0h0.8M385.2 115.5h0.8M378.7 95.0h0.8M387.0 116.3h0.8M382.3 108.9h0.8M377.9 115.2h0.8M386.0 100.9h0.8M392.8 131.8h0.8M369.3 114.2h0.8M389.8 109.4h0.8M371.1 121.1h0.8M377.3 115.2h0.8M390.8 118.6h0.8M391.5 108.0h0.8M371.3 108.4h0.8M376.5 124.3h0.8M390.0 91.1h0.8M375.7 108.8h0.8M378.7 106.7h0.8M378.5 117.7h0.8M375.0 101.8h0.8M371.6 130.3h0.8M384.7 96.6h0.8M380.9 128.9h0.8M375.3 97.9h0.8M383.5 117.4h0.8M379.4 137.8h0.8M381.7 130.0h0.8M373.5 133.6h0.8M375.7 119.4h0.8M370.3 107.8h0.8M388.6 105.3h0.8M383.2 98.6h0.8M382.9 109.9h0.8M378.0 110.7h0.8M378.5 115.4h0.8M375.7 130.4h0.8M389.7 115.3h0.8M386.0 104.9h0.8M382.8 124.4h0.8M381.3 100.6h0.8M382.7 122.5h0.8M373.1 119.5h0.8M391.7 105.3h0.8M381.1 101.2h0.8M385.7 106.3h0.8M389.1 126.1h0.8M381.2 110.5h0.8M388.3 112.4h0.8M378.4 116.8h0.8M382.7 135.9h0.8M382.9 99.7h0.8M376.2 112.4h0.8M383.6 122.2h0.8M387.0 97.2h0.8M383.3 109.5h0.8M373.6 122.3h0.8M387.9 120.2h0.8M381.3 129.6h0.8M382.6 110.6h0.8M391.9 110.2h0.8M378.2 119.8h0.8M381.7 103.0h0.8M387.6 117.3h0.8M378.9 107.5h0.8M382.0 127.3h0.8M378.6 131.0h0.8M376.0 136.3h0.8M390.2 102.5h0.8M379.6 120.0h0.8M384.2 103.3h0.8M384.2 115.8h0.8M376.5 97.3h0.8M375.9 127.2h0.8M380.4 118.2h0.8M387.5 114.4h0.8M381.5 115.0h0.8M388.6 108.9h0.8M385.8 107.2h0.8M378.2 130.1h0.8M375.1 120.9h0.8M380.9 118.9h0.8M384.0 117.7h0.8M378.4 139.7h0.8M380.7 101.1h0.8M384.3 122.0h0.8M394.8 110.8h0.8M387.2 110.0h0.8M380.3 107.6h0.8M379.5 102.7h0.8M379.9 113.4h0.8M379.0 126.3h0.8M376.3 113.5h0.8M373.6 125.2h0.8M377.1 110.1h0.8M373.3 128.5h0.8M377.9 99.6h0.8M380.1 110.8h0.8M372.4 129.0h0.8M384.7 88.6h0.8M384.3 98.8h0.8M379.1 108.7h0.8M377.4 109.3h0.8M377.0 123.2h0.8M397.9 110.7h0.8M375.0 129.6h0.8M388.5 128.3h0.8M373.6 140.2h0.8M378.0 131.2h0.8M382.1 99.5h0.8M391.7 106.6h0.8M374.9 116.2h0.8M373.8 123.2h0.8M382.3 113.4h0.8M373.4 133.7h0.8M385.5 132.3h0.8M368.5 135.1h0.8M376.4 137.8h0.8M386.4 108.1h0.8M373.9 105.1h0.8M389.6 111.9h0.8M394.7 102.0h0.8M385.3 115.4h0.8M372.1 118.8h0.8M379.9 111.7h0.8M372.5 100.2h0.8M377.9 113.1h0.8M370.0 140.7h0.8M378.2 118.0h0.8M375.3 131.6h0.8M381.3 129.5h0.8M372.0 115.8h0.8M378.4 123.9h0.8M377.0 116.8h0.8M376.7 110.0h0.8M384.8 110.1h0.8M376.8 113.0h0.8M381.7 121.7h0.8M375.8 108.8h0.8M377.8 101.5h0.8M390.9 134.7h0.8M386.1 113.3h0.8M381.1 136.9h0.8M385.9 126.9h0.8M382.8 128.1h0.8M382.0 121.2h0.8M384.3 93.8h0.8M381.7 125.3h0.8M378.6 125.7h0.8M380.5 114.7h0.8M390.1 95.1h0.8M390.3 113.0h0.8M382.3 124.5h0.8M384.9 139.7h0.8M376.8 101.9h0.8M387.3 95.4h0.8M385.0 115.3h0.8M374.0 125.6h0.8M378.1 105.2h0.8M378.3 127.0h0.8M381.0 111.3h0.8M383.3 111.5h0.8M367.5 125.1h0.8M380.3 130.7h0.8M380.2 122.1h0.8M375.8 96.2h0.8M366.3 128.2h0.8M372.8 132.0h0.8M384.9 110.8h0.8M383.0 105.7h0.8M377.4 119.6h0.8M386.4 110.7h0.8M368.3 128.2h0.8M372.4 123.5h0.8M375.2 102.2h0.8M367.5 121.4h0.8M391.2 120.3h0.8M369.9 110.1h0.8M381.2 120.9h0.8M385.0 103.3h0.8M373.1 139.6h0.8M379.0 110.2h0.8M376.0 106.3h0.8M386.6 122.3h0.8M379.1 110.6h0.8M387.3 109.8h0.8M377.3 110.8h0.8M373.8 124.4h0.8M377.6 128.8h0.8M384.7 114.0h0.8M389.2 89.9h0.8M380.8 88.2h0.8M387.4 97.8h0.8M370.7 118.5h0.8M385.1 114.2h0.8M388.4 121.1h0.8M389.8 129.6h0.8M382.7 126.9h0.8M387.5 125.6h0.8M382.1 120.6h0.8M380.2 123.4h0.8M395.2 97.7h0.8M382.9 96.7h0.8M376.6 118.6h0.8M380.6 121.1h0.8M383.6 122.5h0.8M379.3 113.9h0.8M376.1 108.7h0.8M379.0 120.6h0.8M368.2 127.7h0.8M385.3 96.0h0.8M378.0 123.0h0.8M382.6 110.8h0.8M375.0 117.5h0.8M380.7 120.0h0.8M374.7 130.9h0.8M370.3 113.3h0.8M377.5 88.8h0.8M379.1 126.8h0.8M377.7 121.2h0.8M376.1 130.3h0.8M375.6 121.8h0.8M387.6 96.3h0.8M389.3 110.2h0.8M376.3 105.9h0.8M386.9 112.0h0.8M388.2 105.1h0.8M387.7 94.4h0.8M374.9 131.9h0.8M377.1 117.4h0.8M365.1 134.3h0.8M378.0 121.3h0.8M381.7 102.2h0.8M379.7 111.2h0.8M375.2 112.4h0.8M376.6 108.2h0.8M367.5 99.5h0.8M381.8 119.1h0.8M378.0 120.7h0.8M389.4 122.8h0.8M381.6 114.9h0.8M380.6 124.4h0.8" stroke="#555" stroke-opacity="0.28" stroke-width="0.8" fill="none"/>
<path d="M384.8 137.9h0.8M412.9 123.2h0.8M399.1 118.0h0.8M397.7 131.0h0.8M398.4 104.4h0.8M402.4 111.3h0.8M406.1 120.2h0.8M396.9 105.1h0.8M401.4 107.3h0.8M402.6 120.5h0.8M400.8 120.4h0.8M400.8 133.7h0.8M388.7 109.2h0.8M414.2 107.9h0.8M409.8 117.0h0.8M404.3 106.3h0.8M400.7 117.6h0.8M385.5 119.1h0.8M400.3 98.8h0.8M405.6 115.7h0.8M390.9 129.2h0.8M403.1 108.7h0.8M396.4 121.5h0.8M399.3 125.2h0.8M393.2 121.2h0.8M408.1 123.5h0.8M397.0 110.4h0.8M394.1 119.7h0.8M401.7 129.6h0.8M401.3 130.6h0.8M401.8 127.9h0.8M412.8 121.5h0.8M393.1 122.6h0.8M405.4 116.1h0.8M402.1 125.0h0.8M386.0 123.8h0.8M418.1 112.9h0.8M414.7 114.8h0.8M401.4 115.7h0.8M403.8 112.0h0.8M398.8 116.8h0.8M396.0 118.3h0.8M412.9 111.4h0.8M405.7 112.1h0.8M394.0 118.7h0.8M401.5 127.6h0.8M410.1 119.7h0.8M398.4 130.9h0.8M392.6 112.0h0.8M410.3 122.4h0.8M409.4 116.9h0.8M410.3 129.2h0.8M387.3 123.5h0.8M412.4 109.7h0.8M395.7 122.0h0.8M409.4 118.6h0.8M389.8 120.7h0.8M403.1 115.5h0.8M412.9 99.9h0.8M404.9 113.5h0.8M409.0 116.0h0.8M418.9 120.4h0.8M399.3 104.4h0.8M401.6 118.4h0.8M417.6 122.0h0.8M405.6 110.7h0.8M405.8 110.3h0.8M391.8 122.7h0.8M400.1 107.0h0.8M413.9 129.5h0.8M407.9 104.3h0.8M396.7 110.2h0.8M411.9 117.8h0.8M396.7 106.5h0.8M397.7 120.3h0.8M401.9 123.2h0.8M408.6 108.7h0.8M411.2 119.0h0.8M417.9 117.5h0.8M400.9 117.7h0.8M414.7 123.3h0.8M414.2 127.8h0.8M406.9 139.2h0.8M403.3 116.7h0.8M413.7 108.5h0.8M406.8 127.5h0.8M396.4 102.0h0.8M391.8 128.7h0.8M425.7 110.9h0.8M392.8 107.6h0.8M417.7 125.4h0.8M410.0 112.4h0.8M409.9 112.2h0.8M409.1 112.0h0.8M393.2 114.8h0.8M407.7 121.6h0.8M399.4 126.8h0.8M390.3 101.4h0.8M409.4 117.3h0.8M403.8 114.7h0.8M408.8 120.7h0.8M416.2 110.3h0.8M393.3 117.5h0.8M402.0 116.0h0.8M385.5 121.9h0.8M418.9 121.8h0.8M415.0 123.9h0.8M406.6 122.2h0.8M413.8 122.7h0.8M410.0 118.1h0.8M397.8 121.8h0.8M400.8 123.7h0.8M384.9 134.2h0.8M415.8 132.1h0.8M407.8 109.4h0.8M400.9 108.4h0.8M408.0 118.8h0.8M405.8 102.3h0.8M391.4 99.3h0.8M416.7 123.1h0.8M404.9 115.5h0.8M388.8 115.4h0.8M400.8 111.2h0.8M413.2 100.8h0.8M405.9 125.8h0.8M411.6 105.4h0.8M380.0 130.9h0.8M417.0 117.2h0.8M402.2 121.6h0.8M414.0 119.7h0.8M401.5 120.6h0.8M407.9 136.8h0.8M404.8 110.5h0.8M421.4 131.9h0.8M417.6 110.4h0.8M399.4 106.5h0.8M403.5 130.4h0.8M412.9 119.1h0.8M406.7 123.0h0.8M403.5 109.4h0.8M398.6 133.3h0.8M396.4 108.6h0.8M409.7 115.7h0.8M401.7 120.1h0.8M403.6 104.1h0.8M413.1 120.6h0.8M419.9 126.2h0.8M399.7 114.8h0.8M398.5 99.2h0.8M411.3 112.7h0.8M413.5 120.3h0.8M403.8 133.0h0.8M396.5 134.2h0.8M401.5 137.7h0.8M415.1 114.1h0.8M420.5 122.5h0.8M408.0 115.2h0.8M404.5 115.1h0.8M401.9 125.8h0.8M412.2 129.7h0.8M415.6 118.1h0.8M411.6 116.5h0.8M410.1 124.3h0.8M408.3 111.7h0.8M394.5 133.9h0.8M398.0 113.3h0.8M408.4 115.4h0.8M408.8 130.9h0.8M391.3 119.6h0.8M410.3 106.4h0.8M411.5 131.9h0.8M405.4 123.0h0.8M402.4 127.5h0.8M400.5 118.9h0.8M399.1 112.4h0.8M415.3 118.3h0.8M413.0 104.7h0.8M394.5 110.8h0.8M421.9 129.1h0.8M424.8 114.9h0.8M410.5 122.1h0.8M402.8 124.1h0.8M404.8 123.1h0.8M389.3 109.6h0.8M396.3 133.7h0.8M412.9 110.3h0.8M409.5 113.8h0.8M395.1 110.7h0.8M404.3 129.8h0.8M407.6 109.1h0.8M424.2 138.3h0.8M412.1 111.3h0.8M404.6 119.9h0.8M395.3 142.2h0.8M405.2 113.9h0.8M402.7 115.9h0.8M382.8 120.1h0.8M415.5 120.8h0.8M409.0 118.2h0.8M389.6 124.1h0.8M411.2 109.7h0.8M395.1 113.7h0.8M393.4 96.9h0.8M401.5 113.6h0.8M406.2 129.4h0.8M397.1 105.1h0.8M404.2 124.8h0.8M417.9 127.1h0.8M406.3 119.3h0.8M389.8 124.9h0.8M412.0 118.2h0.8M402.4 122.5h0.8M409.0 123.4h0.8M408.8 105.4h0.8M400.2 104.2h0.8M412.1 141.6h0.8M398.1 117.6h0.8M407.3 112.6h0.8M420.1 120.7h0.8M424.1 139.0h0.8M409.4 112.2h0.8M416.8 116.5h0.8M397.9 117.0h0.8M415.1 111.8h0.8M403.1 126.5h0.8M402.6 126.7h0.8M415.9 114.4h0.8M394.6 108.4h0.8M416.3 123.7h0.8M405.8 115.4h0.8M414.5 114.6h0.8M390.9 128.2h0.8M407.3 118.7h0.8M403.4 129.3h0.8M400.7 132.5h0.8M398.3 126.8h0.8M391.8 127.3h0.8M396.4 116.7h0.8M411.7 112.0h0.8M409.8 118.8h0.8M416.6 126.7h0.8M407.2 117.1h0.8M397.1 131.2h0.8M402.9 107.7h0.8M397.9 102.2h0.8M397.3 114.8h0.8M407.2 126.8h0.8M412.3 102.8h0.8M400.7 124.0h0.8M408.0 118.6h0.8M398.0 124.9h0.8M404.2 116.6h0.8M403.9 116.7h0.8M407.6 128.4h0.8M405.6 113.1h0.8M403.9 117.4h0.8M409.3 125.4h0.8M419.5 126.6h0.8M390.0 111.3h0.8M393.8 121.3h0.8M425.6 122.7h0.8M399.9 130.9h0.8M410.4 111.6h0.8M396.4 131.6h0.8M411.6 100.4h0.8M398.3 123.6h0.8M392.9 118.7h0.8M397.1 104.0h0.8M400.3 114.0h0.8M407.3 103.6h0.8M407.1 115.5h0.8M390.7 129.3h0.8M400.9 122.4h0.8M418.7 122.3h0.8M413.1 120.6h0.8M399.7 120.4h0.8M390.9 122.9h0.8M412.2 122.5h0.8M398.8 108.1h0.8M398.2 116.2h0.8M392.1 135.5h0.8M397.6 119.8h0.8M400.6 119.8h0.8M385.7 109.7h0.8M404.5 118.3h0.8M408.3 114.0h0.8M412.1 120.6h0.8M404.3 118.9h0.8M414.2 118.4h0.8M418.6 119.8h0.8M406.9 118.7h0.8M407.4 122.8h0.8M399.2 125.6h0.8M427.6 123.4h0.8M405.8 111.7h0.8M398.0 111.5h0.8M407.1 112.7h0.8M419.0 115.0h0.8M396.8 110.7h0.8M403.9 117.4h0.8M413.0 112.4h0.8M407.7 127.0h0.8M402.2 103.5h0.8M406.9 127.7h0.8M408.2 118.8h0.8M387.5 132.8h0.8M403.1 108.3h0.8M401.7 120.1h0.8M405.1 110.8h0.8M426.1 129.6h0.8M413.6 124.3h0.8M401.2 108.4h0.8M393.4 128.1h0.8M405.4 133.0h0.8M384.6 130.3h0.8M408.9 113.9h0.8M412.6 112.9h0.8M402.2 123.3h0.8M406.1 121.2h0.8M406.6 127.8h0.8M397.1 101.1h0.8M396.5 97.5h0.8M422.1 112.9h0.8M404.3 121.6h0.8M397.8 114.3h0.8M407.0 118.8h0.8M411.9 116.6h0.8M398.7 105.9h0.8M389.6 121.0h0.8M407.5 115.1h0.8M415.5 95.1h0.8M410.4 108.2h0.8M401.7 116.6h0.8M398.0 116.2h0.8M407.2 139.7h0.8M404.7 125.0h0.8M412.0 110.4h0.8M409.0 115.1h0.8M412.7 113.6h0.8M414.3 110.8h0.8M400.5 126.1h0.8M413.8 126.3h0.8M422.5 127.7h0.8M404.6 126.9h0.8M397.3 125.8h0.8M408.2 117.4h0.8M398.2 128.0h0.8M386.8 117.2h0.8M392.1 115.6h0.8M400.8 111.4h0.8M399.2 121.2h0.8M422.3 134.0h0.8M403.0 115.0h0.8M410.1 111.3h0.8M391.4 127.2h0.8M401.0 132.1h0.8M407.7 105.9h0.8M407.3 123.0h0.8M405.2 106.7h0.8M391.2 135.1h0.8M379.6 110.2h0.8M411.9 134.5h0.8M410.5 118.5h0.8M408.1 128.7h0.8M399.9 129.9h0.8M406.9 120.5h0.8M408.6 121.4h0.8M396.4 132.4h0.8M400.3 116.3h0.8M383.6 104.2h0.8M409.7 117.8h0.8M403.8 115.4h0.8M410.2 113.0h0.8M391.4 104.4h0.8M397.5 121.5h0.8M417.5 123.7h0.8M398.6 107.0h0.8M412.1 123.1h0.8M404.2 124.2h0.8M410.0 123.2h0.8M416.6 105.1h0.8M398.9 114.0h0.8M395.8 136.1h0.8M407.9 122.4h0.8M411.8 116.6h0.8M412.2 116.9h0.8M411.4 123.6h0.8M416.3 105.3h0.8M396.5 112.0h0.8M397.3 122.1h0.8M413.3 115.6h0.8M414.3 126.5h0.8M399.4 124.5h0.8M417.5 114.5h0.8M385.1 123.6h0.8M407.3 124.2h0.8M409.3 118.3h0.8M404.6 111.6h0.8M422.2 132.4h0.8M403.5 111.2h0.8M408.6 132.8h0.8M405.1 111.5h0.8M413.2 121.0h0.8M397.6 116.8h0.8M406.2 108.9h0.8M407.3 130.0h0.8M414.2 129.8h0.8M411.5 118.0h0.8M410.3 129.6h0.8M405.2 123.4h0.8M399.2 118.9h0.8M400.5 109.3h0.8M408.4 138.4h0.8M389.7 114.6h0.8M406.6 112.3h0.8M406.3 126.3h0.8" stroke="#555" stroke-opacity="0.28" stroke-width="0.8" fill="none"/>
<path d="M371.7 126.1h0.8M370.1 123.1h0.8M389.9 130.3h0.8M372.3 119.3h0.8M389.7 103.7h0.8M391.6 128.3h0.8M370.2 130.0h0.8M374.5 107.3h0.8M376.0 106.8h0.8M371.9 115.3h0.8M369.4 135.7h0.8M391.2 132.0h0.8M387.9 98.1h0.8M391.0 97.6h0.8M390.6 124.8h0.8M389.6 130.7h0.8M370.6 128.8h0.8M380.7 95.6h0.8M372.3 136.2h0.8M391.5 113.1h0.8M370.4 132.2h0.8M388.3 132.0h0.8M392.0 109.7h0.8M386.3 93.0h0.8M392.2 119.1h0.8M371.9 117.7h0.8M375.3 136.7h0.8M369.6 115.3h0.8M369.5 120.4h0.8M367.8 121.4h0.8M390.1 102.7h0.8M373.2 115.6h0.8M380.1 137.6h0.8M392.2 127.6h0.8M378.2 102.7h0.8M389.4 97.6h0.8M393.8 123.5h0.8M381.4 95.6h0.8M380.6 102.1h0.8M391.5 106.4h0.8M374.2 136.2h0.8M385.2 134.8h0.8M370.6 129.5h0.8M377.5 106.8h0.8M388.3 95.5h0.8M387.1 95.5h0.8M370.1 131.4h0.8M386.5 94.3h0.8M393.5 111.5h0.8M389.6 99.5h0.8M374.5 108.3h0.8M371.7 136.0h0.8M383.7 135.3h0.8M394.2 120.7h0.8M372.6 134.1h0.8M385.0 95.3h0.8M368.0 126.1h0.8M372.5 117.3h0.8M390.8 129.2h0.8M385.1 94.7h0.8M370.4 131.1h0.8M388.3 132.8h0.8M385.2 92.5h0.8M377.5 136.4h0.8M377.8 138.2h0.8M371.8 121.5h0.8M391.4 106.8h0.8M376.7 139.4h0.8M391.7 121.1h0.8M379.1 135.9h0.8M384.9 93.9h0.8M372.7 116.4h0.8M376.8 137.1h0.8M387.0 95.3h0.8M381.2 97.3h0.8M380.5 138.9h0.8M384.7 94.9h0.8M390.7 115.6h0.8M390.1 134.4h0.8M387.6 95.3h0.8M375.0 137.2h0.8M384.7 93.2h0.8M380.7 137.6h0.8M385.4 93.3h0.8M378.1 104.1h0.8M391.0 126.5h0.8M389.3 100.6h0.8M392.2 129.0h0.8M391.3 122.5h0.8M384.9 134.2h0.8M371.8 136.3h0.8M388.7 131.4h0.8M374.9 108.6h0.8M389.7 131.3h0.8M381.5 97.4h0.8M373.2 117.0h0.8M385.6 94.0h0.8M384.1 94.4h0.8M395.6 122.5h0.8M384.6 95.3h0.8M389.2 129.9h0.8M375.7 136.0h0.8M390.9 127.5h0.8M370.2 133.5h0.8M382.2 95.9h0.8M379.7 135.1h0.8M391.4 126.3h0.8M387.4 96.2h0.8M376.5 107.3h0.8M375.3 107.3h0.8M391.4 111.0h0.8M392.7 121.1h0.8M390.4 111.9h0.8M382.5 137.4h0.8M373.3 138.2h0.8M381.0 136.4h0.8M379.1 102.8h0.8M389.9 102.3h0.8M385.7 92.9h0.8M380.0 135.6h0.8M377.6 101.8h0.8M366.5 126.3h0.8M376.1 106.8h0.8M392.1 125.5h0.8M394.6 114.8h0.8M391.0 120.6h0.8M372.5 135.0h0.8M372.2 115.3h0.8M389.9 132.3h0.8M387.3 136.8h0.8M389.0 134.0h0.8M392.1 112.5h0.8M391.6 115.0h0.8M384.1 135.4h0.8M383.2 135.2h0.8M388.2 132.7h0.8M369.6 127.2h0.8M383.4 94.3h0.8M368.6 129.7h0.8M394.5 118.7h0.8M379.0 102.7h0.8M391.9 101.0h0.8M392.6 118.4h0.8M392.6 126.3h0.8M373.5 114.4h0.8M374.4 137.9h0.8M390.5 96.7h0.8M391.8 132.8h0.8M373.1 134.8h0.8M379.2 97.5h0.8M384.7 136.5h0.8M370.4 126.2h0.8M391.0 129.0h0.8M392.2 114.7h0.8M388.8 133.2h0.8M393.2 120.1h0.8M370.5 130.1h0.8M390.1 104.6h0.8M376.7 104.9h0.8M383.2 95.4h0.8M389.3 128.1h0.8M374.9 110.4h0.8M388.5 96.1h0.8M372.4 137.9h0.8M371.2 135.5h0.8M385.0 94.2h0.8M369.7 130.6h0.8M392.4 110.9h0.8M371.8 120.0h0.8M390.0 99.0h0.8M390.3 104.8h0.8M383.5 134.8h0.8M385.3 94.2h0.8M370.4 125.8h0.8M391.1 106.9h0.8M384.9 133.7h0.8M369.6 128.8h0.8M372.0 134.0h0.8M380.0 135.3h0.8M386.4 94.3h0.8M390.0 102.7h0.8M383.9 136.5h0.8M386.7 93.7h0.8M372.0 118.7h0.8M378.1 104.1h0.8M388.8 130.1h0.8M392.0 123.8h0.8M373.6 137.1h0.8M381.1 94.0h0.8M383.0 134.1h0.8M371.4 132.3h0.8M368.5 128.9h0.8M391.7 102.1h0.8M369.7 133.4h0.8M377.0 137.0h0.8M388.7 96.4h0.8M375.0 109.6h0.8M376.9 106.3h0.8M387.8 96.5h0.8M391.5 117.7h0.8M383.4 96.2h0.8M389.7 129.3h0.8M391.4 126.1h0.8M381.9 97.3h0.8M388.9 96.5h0.8M377.2 107.7h0.8M391.7 111.7h0.8M387.7 97.3h0.8M387.5 95.0h0.8M392.7 118.4h0.8M376.9 106.7h0.8M372.8 114.6h0.8M392.9 119.8h0.8M387.0 134.6h0.8M370.8 116.5h0.8M387.7 136.5h0.8M388.1 134.2h0.8M371.3 115.8h0.8M384.2 94.1h0.8M392.6 105.1h0.8M391.7 117.4h0.8M373.1 135.4h0.8M387.3 92.3h0.8M377.1 104.7h0.8M389.6 100.4h0.8M372.3 132.9h0.8M369.0 127.8h0.8M388.4 132.8h0.8M374.6 135.0h0.8M379.9 100.3h0.8M379.7 136.0h0.8M390.9 125.4h0.8M370.6 124.4h0.8M390.8 102.5h0.8M391.1 124.4h0.8M392.0 111.7h0.8M377.0 135.6h0.8M369.8 129.5h0.8M389.6 130.7h0.8M373.7 111.2h0.8M388.1 96.6h0.8M391.4 103.2h0.8M394.0 122.1h0.8M388.0 95.4h0.8M371.7 119.8h0.8M368.5 125.3h0.8M371.7 133.8h0.8M387.9 132.2h0.8M389.5 98.8h0.8M386.5 94.2h0.8M380.6 97.4h0.8M387.5 132.8h0.8M385.5 136.2h0.8M370.1 122.0h0.8M368.3 132.4h0.8M393.3 114.5h0.8M383.3 95.8h0.8M392.1 131.8h0.8M373.6 110.0h0.8M370.5 131.8h0.8M373.6 114.3h0.8M368.3 129.2h0.8M377.0 102.3h0.8M388.3 99.0h0.8M381.0 97.6h0.8M392.0 118.5h0.8M392.8 112.4h0.8M391.9 123.4h0.8M391.3 109.6h0.8M390.0 104.4h0.8M372.2 134.2h0.8M393.6 111.8h0.8M376.9 136.8h0.8M372.5 117.2h0.8M390.0 98.6h0.8M373.9 113.2h0.8M393.0 121.2h0.8M376.7 105.0h0.8M377.7 102.9h0.8M388.9 96.9h0.8M371.3 133.9h0.8M391.1 113.9h0.8M370.3 122.6h0.8M374.3 135.7h0.8M376.6 105.7h0.8M383.6 138.6h0.8M392.0 124.4h0.8M391.6 102.3h0.8M389.9 103.5h0.8M381.3 97.4h0.8M390.0 106.7h0.8M376.5 107.6h0.8M391.1 106.6h0.8M380.8 137.1h0.8M391.8 109.3h0.8M369.8 132.6h0.8M391.1 115.3h0.8M374.4 135.1h0.8M384.1 94.7h0.8M372.7 119.3h0.8M391.0 102.9h0.8M370.2 120.7h0.8M370.8 126.8h0.8M390.0 100.1h0.8M381.5 96.8h0.8M378.7 137.3h0.8M387.4 92.1h0.8M381.0 97.3h0.8M389.4 98.7h0.8M376.7 138.0h0.8M391.8 128.3h0.8M382.9 96.1h0.8M374.5 135.6h0.8M387.1 95.4h0.8M375.8 108.0h0.8M392.4 121.3h0.8M370.5 125.5h0.8M389.2 99.8h0.8M370.8 124.9h0.8M369.4 125.9h0.8M371.7 132.6h0.8M385.8 134.8h0.8M375.0 113.0h0.8M393.4 121.0h0.8M387.2 94.2h0.8M387.9 133.7h0.8M392.0 106.4h0.8M370.6 132.3h0.8M374.1 112.7h0.8M378.0 103.4h0.8M368.2 125.9h0.8M371.7 134.2h0.8M388.0 94.7h0.8M377.0 106.1h0.8M376.3 138.4h0.8M381.9 136.1h0.8M382.7 95.4h0.8M366.8 131.2h0.8M392.4 113.3h0.8M379.9 138.0h0.8M382.6 135.0h0.8M375.2 110.1h0.8M376.5 105.8h0.8M382.1 97.0h0.8M371.2 126.4h0.8M391.5 119.2h0.8M369.2 125.9h0.8M390.1 128.3h0.8M396.4 113.6h0.8M393.5 118.8h0.8M375.9 111.9h0.8M378.7 137.4h0.8M391.6 127.8h0.8M386.0 93.3h0.8M370.0 130.3h0.8M382.4 135.5h0.8M392.8 121.2h0.8M389.9 128.9h0.8M376.2 136.4h0.8M384.4 138.5h0.8M392.2 124.8h0.8M370.6 131.0h0.8M389.2 101.3h0.8M371.5 131.4h0.8M389.6 105.5h0.8M382.1 96.8h0.8M391.4 117.5h0.8M371.2 118.1h0.8M394.4 114.5h0.8M371.7 131.9h0.8M392.7 114.1h0.8M387.1 94.2h0.8M378.6 101.2h0.8M391.1 130.0h0.8M369.3 119.8h0.8M391.3 121.5h0.8M372.9 134.7h0.8M369.6 133.5h0.8M390.4 104.0h0.8M392.0 107.8h0.8M389.3 99.1h0.8M379.2 99.9h0.8M390.3 103.4h0.8M372.1 135.2h0.8M387.7 92.2h0.8M372.1 113.9h0.8M389.6 130.5h0.8M388.2 133.1h0.8M373.6 114.3h0.8M389.8 131.5h0.8M387.3 92.9h0.8M390.6 130.3h0.8M378.8 100.0h0.8M369.5 133.8h0.8M391.5 106.3h0.8M372.5 118.5h0.8M374.9 110.1h0.8M389.8 128.3h0.8M385.8 133.5h0.8M371.1 131.0h0.8" stroke="#444" stroke-opacity="0.36" stroke-width="0.8" fill="none"/>
<path d="M395.4 121.4h0.8M399.1 127.2h0.8M395.4 111.6h0.8M409.2 102.1h0.8M399.3 129.0h0.8M397.5 112.0h0.8M392.0 116.0h0.8M408.1 133.5h0.8M408.9 101.5h0.8M398.2 113.2h0.8M407.8 101.4h0.8M402.7 105.1h0.8M397.2 115.2h0.8M394.3 114.4h0.8M409.0 101.2h0.8M418.9 117.1h0.8M416.7 103.8h0.8M390.2 118.8h0.8M396.2 119.8h0.8M418.3 124.1h0.8M411.7 102.1h0.8M406.2 100.7h0.8M420.8 124.0h0.8M402.3 131.9h0.8M401.6 105.0h0.8M417.6 107.8h0.8M402.6 103.6h0.8M390.0 119.6h0.8M392.4 116.0h0.8M404.5 132.1h0.8M396.2 108.4h0.8M411.9 103.1h0.8M392.5 120.2h0.8M397.3 122.6h0.8M408.5 133.5h0.8M408.8 101.3h0.8M402.7 104.6h0.8M395.8 120.6h0.8M393.0 120.4h0.8M393.2 117.1h0.8M400.0 107.1h0.8M398.0 116.0h0.8M413.3 102.2h0.8M406.2 132.1h0.8M409.3 133.3h0.8M397.3 115.4h0.8M420.3 111.7h0.8M415.9 104.8h0.8M410.4 102.0h0.8M391.6 118.9h0.8M401.4 104.2h0.8M412.7 104.7h0.8M400.7 104.3h0.8M400.4 106.8h0.8M390.7 118.9h0.8M397.0 128.2h0.8M421.1 120.1h0.8M404.7 102.2h0.8M417.4 110.0h0.8M394.0 120.9h0.8M415.2 104.6h0.8M412.2 98.9h0.8M395.1 110.0h0.8M391.3 118.7h0.8M411.9 131.6h0.8M396.2 122.0h0.8M392.7 116.6h0.8M398.9 106.7h0.8M391.3 117.0h0.8M395.1 109.2h0.8M392.1 107.1h0.8M417.6 129.3h0.8M418.3 111.8h0.8M396.8 116.7h0.8M407.9 102.5h0.8M397.6 112.5h0.8M397.6 123.3h0.8M405.3 131.9h0.8M395.7 114.0h0.8M395.9 111.7h0.8M395.6 113.5h0.8M403.5 134.7h0.8M418.6 118.9h0.8M387.5 117.6h0.8M394.1 120.5h0.8M417.6 108.9h0.8M418.4 112.0h0.8M397.4 107.5h0.8M397.6 115.0h0.8M393.8 109.2h0.8M411.8 102.7h0.8M415.6 104.5h0.8M397.4 115.3h0.8M395.3 116.8h0.8M399.7 127.4h0.8M419.0 124.7h0.8M398.2 106.6h0.8M393.9 116.0h0.8M392.6 120.2h0.8M397.3 115.5h0.8M414.9 105.8h0.8M411.6 103.7h0.8M419.9 114.5h0.8M407.4 132.0h0.8M406.4 101.5h0.8M406.0 102.6h0.8M396.9 115.1h0.8M396.4 123.8h0.8M391.8 116.9h0.8M393.9 116.3h0.8M395.4 109.6h0.8M393.4 108.5h0.8M420.0 111.8h0.8M418.8 112.1h0.8M414.2 132.7h0.8M397.9 121.5h0.8M416.4 109.0h0.8M397.1 116.1h0.8M399.0 114.5h0.8M398.6 114.4h0.8M392.0 117.1h0.8M396.8 121.1h0.8M399.1 127.1h0.8M393.9 120.2h0.8M393.3 119.5h0.8M390.5 118.7h0.8M391.4 116.3h0.8M419.0 118.3h0.8M410.7 101.2h0.8M397.8 123.2h0.8M401.1 106.6h0.8M398.2 122.4h0.8M408.8 100.5h0.8M410.7 102.2h0.8M395.5 107.9h0.8M412.0 132.1h0.8M393.9 113.5h0.8M417.9 124.8h0.8M393.2 110.1h0.8M396.5 106.8h0.8M393.9 109.7h0.8M400.1 106.1h0.8M397.3 115.7h0.8M396.7 108.3h0.8M403.1 102.5h0.8M399.1 127.3h0.8M404.7 102.5h0.8M399.9 128.8h0.8M394.8 115.9h0.8M414.6 103.4h0.8M410.8 133.7h0.8M399.9 127.7h0.8M396.4 110.6h0.8M394.5 119.9h0.8M390.3 120.0h0.8M396.4 105.0h0.8M403.7 130.3h0.8M394.8 110.4h0.8M407.7 99.6h0.8M407.3 101.3h0.8M408.5 100.4h0.8M396.2 104.5h0.8M396.3 116.1h0.8M394.5 107.1h0.8M404.8 99.5h0.8M397.7 121.4h0.8M400.5 128.8h0.8M419.6 122.3h0.8M412.9 102.5h0.8M398.2 126.7h0.8M405.9 101.7h0.8M408.4 101.7h0.8M402.4 130.3h0.8M401.1 130.3h0.8M395.7 108.8h0.8M396.5 111.0h0.8M397.5 112.6h0.8M395.8 123.2h0.8M395.3 109.6h0.8M402.1 104.4h0.8M401.2 107.1h0.8M419.4 112.5h0.8M419.3 122.9h0.8M398.9 123.6h0.8M396.0 110.5h0.8M396.5 108.0h0.8M403.9 102.2h0.8M396.2 115.0h0.8M417.9 126.4h0.8M397.2 107.6h0.8M399.8 107.0h0.8M398.6 115.2h0.8M414.4 132.8h0.8M396.0 106.1h0.8M398.0 125.0h0.8M398.9 121.5h0.8M397.4 112.1h0.8M393.6 107.5h0.8M398.8 124.4h0.8M397.4 112.5h0.8M405.6 102.5h0.8M409.1 98.8h0.8M392.1 117.2h0.8M398.1 121.1h0.8M394.8 116.5h0.8M388.6 117.2h0.8M409.8 100.6h0.8M399.9 105.9h0.8M403.1 103.3h0.8M406.5 101.8h0.8M398.2 108.3h0.8M401.3 129.9h0.8M412.0 101.4h0.8M395.4 108.0h0.8M408.6 132.2h0.8M404.5 134.8h0.8M419.9 119.7h0.8M413.7 133.6h0.8M389.9 118.2h0.8M388.8 118.1h0.8M417.2 128.4h0.8M405.0 103.1h0.8M417.7 109.4h0.8M391.8 120.8h0.8M418.7 121.5h0.8M404.5 131.1h0.8M392.8 118.7h0.8M413.1 130.8h0.8M415.5 131.0h0.8M398.1 122.5h0.8M397.6 111.7h0.8M387.8 118.6h0.8M410.4 100.3h0.8M397.8 112.5h0.8M408.5 101.7h0.8M416.8 131.5h0.8M389.9 118.3h0.8M392.2 110.7h0.8M398.9 127.6h0.8M391.9 120.5h0.8M412.5 132.4h0.8M405.3 99.5h0.8M397.8 116.0h0.8M395.1 107.3h0.8M414.2 104.9h0.8M389.7 119.0h0.8M396.4 108.2h0.8M419.8 124.6h0.8M399.9 105.8h0.8M405.0 102.5h0.8M401.6 130.2h0.8M396.8 108.8h0.8M406.6 100.3h0.8M392.5 117.0h0.8M422.1 122.3h0.8M398.3 106.3h0.8M408.6 100.8h0.8M403.2 102.5h0.8M416.6 106.6h0.8M389.5 119.9h0.8M417.8 126.0h0.8M395.1 120.2h0.8M390.1 117.3h0.8M391.9 121.0h0.8M421.0 118.7h0.8M396.1 121.0h0.8M395.5 110.1h0.8M392.9 119.7h0.8M395.8 108.9h0.8M397.3 120.9h0.8M401.2 128.8h0.8M401.8 134.8h0.8M401.4 106.1h0.8M395.6 110.7h0.8M394.5 119.8h0.8M397.5 111.7h0.8M397.0 123.8h0.8M400.3 125.0h0.8M411.2 102.3h0.8M394.2 116.1h0.8M402.7 130.7h0.8M395.7 114.6h0.8M399.2 105.3h0.8M415.0 103.6h0.8M415.0 130.9h0.8M408.7 132.1h0.8M391.0 120.1h0.8M420.4 125.5h0.8M391.1 117.3h0.8M390.0 118.6h0.8M388.5 118.9h0.8M397.9 126.6h0.8M408.8 133.2h0.8M394.5 123.1h0.8M389.6 120.5h0.8M401.3 105.9h0.8M391.0 119.6h0.8M391.8 119.5h0.8M402.5 131.1h0.8M391.6 119.7h0.8" stroke="#444" stroke-opacity="0.36" stroke-width="0.8" fill="none"/>
<g filter="url(#b)">
<path d="M407.00 101.80C408.25 101.70 409.67 101.98 411.00 102.60C412.33 103.22 413.70 103.77 415.00 105.50C416.30 107.23 418.13 110.08 418.80 113.00C419.47 115.92 419.55 120.25 419.00 123.00C418.45 125.75 417.00 127.90 415.50 129.50C414.00 131.10 411.92 132.27 410.00 132.60C408.08 132.93 405.67 132.43 404.00 131.50C402.33 130.57 400.95 128.67 400.00 127.00C399.05 125.33 399.13 122.70 398.30 121.50C397.47 120.30 396.22 120.12 395.00 119.80C393.78 119.48 391.67 120.03 391.00 119.60C390.33 119.17 390.33 117.70 391.00 117.20C391.67 116.70 393.80 116.88 395.00 116.60C396.20 116.32 397.57 116.13 398.20 115.50C398.83 114.87 399.17 113.45 398.80 112.80C398.43 112.15 396.58 112.20 396.00 111.60C395.42 111.00 394.97 109.80 395.30 109.20C395.63 108.60 397.05 108.37 398.00 108.00C398.95 107.63 400.08 107.80 401.00 107.00C401.92 106.20 402.50 104.07 403.50 103.20C404.50 102.33 405.75 101.90 407.00 101.80Z" fill="#0a4cff"/>
</g>
<g filter="url(#b)">
<path d="M409.00 104.50C410.67 104.53 412.67 105.62 414.00 107.20C415.33 108.78 416.50 111.37 417.00 114.00C417.50 116.63 417.58 120.53 417.00 123.00C416.42 125.47 414.92 127.50 413.50 128.80C412.08 130.10 410.17 130.80 408.50 130.80C406.83 130.80 404.78 130.27 403.50 128.80C402.22 127.33 401.22 124.63 400.80 122.00C400.38 119.37 400.47 115.50 401.00 113.00C401.53 110.50 402.67 108.42 404.00 107.00C405.33 105.58 407.33 104.47 409.00 104.50Z" fill="#1068ff"/>
<path d="M409.20 109.30C410.20 109.32 411.40 110.06 412.20 111.14C413.00 112.21 413.70 113.97 414.00 115.76C414.30 117.55 414.35 120.20 414.00 121.88C413.65 123.56 412.75 124.94 411.90 125.82C411.05 126.71 409.90 127.18 408.90 127.18C407.90 127.18 406.67 126.82 405.90 125.82C405.13 124.83 404.53 122.99 404.28 121.20C404.03 119.41 404.08 116.78 404.40 115.08C404.72 113.38 405.40 111.96 406.20 111.00C407.00 110.04 408.20 109.28 409.20 109.30Z" fill="#10b0f8"/>
<path d="M409.84 116.60C410.37 116.61 411.01 117.00 411.44 117.57C411.87 118.14 412.24 119.07 412.40 120.02C412.56 120.97 412.59 122.37 412.40 123.26C412.21 124.15 411.73 124.88 411.28 125.35C410.83 125.82 410.21 126.07 409.68 126.07C409.15 126.07 408.49 125.88 408.08 125.35C407.67 124.82 407.35 123.85 407.22 122.90C407.08 121.95 407.11 120.56 407.28 119.66C407.45 118.76 407.81 118.01 408.24 117.50C408.67 116.99 409.31 116.59 409.84 116.60Z" fill="#28e0d0"/>
</g>
<g filter="url(#b)">
<path d="M386.10 94.20C387.35 94.70 388.68 97.37 389.50 100.00C390.32 102.63 390.67 106.67 391.00 110.00C391.33 113.33 391.55 117.00 391.50 120.00C391.45 123.00 391.42 125.80 390.70 128.00C389.98 130.20 388.98 131.87 387.20 133.20C385.42 134.53 382.33 135.63 380.00 136.00C377.67 136.37 374.80 136.30 373.20 135.40C371.60 134.50 370.73 132.50 370.40 130.60C370.07 128.70 370.63 126.77 371.20 124.00C371.77 121.23 372.67 117.33 373.80 114.00C374.93 110.67 376.63 106.83 378.00 104.00C379.37 101.17 380.65 98.63 382.00 97.00C383.35 95.37 384.85 93.70 386.10 94.20Z" fill="#0a4cff"/>
<path d="M385.16 98.25C386.12 98.67 387.15 100.94 387.77 103.18C388.40 105.42 388.67 108.85 388.93 111.68C389.19 114.51 389.35 117.63 389.31 120.18C389.28 122.73 389.25 125.11 388.70 126.98C388.15 128.85 387.38 130.27 386.00 131.40C384.63 132.53 382.26 133.47 380.46 133.78C378.66 134.09 376.46 134.04 375.22 133.27C373.99 132.50 373.32 130.81 373.07 129.19C372.81 127.57 373.25 125.93 373.68 123.58C374.12 121.23 374.81 117.91 375.69 115.08C376.56 112.25 377.87 108.99 378.92 106.58C379.97 104.17 380.96 102.02 382.00 100.63C383.04 99.24 384.19 97.83 385.16 98.25Z" fill="#14b4ff"/>
<path d="M384.54 100.41C385.32 100.80 386.14 102.85 386.65 104.88C387.16 106.90 387.37 110.01 387.58 112.58C387.79 115.14 387.92 117.97 387.89 120.28C387.86 122.59 387.84 124.74 387.39 126.44C386.95 128.13 386.33 129.41 385.22 130.44C384.12 131.47 382.21 132.31 380.76 132.60C379.31 132.88 377.54 132.83 376.54 132.13C375.55 131.44 375.01 129.90 374.81 128.44C374.60 126.97 374.95 125.49 375.30 123.36C375.66 121.23 376.21 118.22 376.92 115.66C377.62 113.09 378.67 110.14 379.52 107.96C380.37 105.77 381.16 103.82 382.00 102.57C382.84 101.31 383.77 100.02 384.54 100.41Z" fill="#20f040"/>
<path d="M383.27 108.24C383.66 108.48 384.07 109.76 384.32 111.02C384.58 112.29 384.69 114.22 384.79 115.82C384.89 117.42 384.96 119.18 384.94 120.62C384.93 122.06 384.92 123.41 384.70 124.46C384.47 125.52 384.16 126.32 383.61 126.96C383.06 127.60 382.10 128.13 381.38 128.30C380.66 128.48 379.77 128.45 379.27 128.02C378.78 127.58 378.51 126.62 378.40 125.71C378.30 124.80 378.48 123.87 378.65 122.54C378.83 121.22 379.11 119.34 379.46 117.74C379.81 116.14 380.34 114.30 380.76 112.94C381.18 111.58 381.58 110.37 382.00 109.58C382.42 108.80 382.88 108.00 383.27 108.24Z" fill="#f8f020"/>
<path d="M382.90 110.94C383.18 111.13 383.47 112.14 383.65 113.14C383.83 114.14 383.91 115.68 383.98 116.94C384.05 118.21 384.10 119.60 384.09 120.74C384.08 121.88 384.07 122.95 383.91 123.78C383.76 124.62 383.54 125.25 383.14 125.76C382.75 126.27 382.07 126.68 381.56 126.82C381.05 126.96 380.42 126.94 380.06 126.60C379.71 126.25 379.52 125.49 379.45 124.77C379.37 124.05 379.50 123.32 379.62 122.26C379.75 121.21 379.95 119.73 380.20 118.46C380.45 117.20 380.82 115.74 381.12 114.66C381.42 113.59 381.70 112.62 382.00 112.00C382.30 111.38 382.63 110.75 382.90 110.94Z" fill="#ff8000"/>
<path d="M382.53 113.10C382.70 113.25 382.87 114.05 382.98 114.84C383.08 115.63 383.13 116.84 383.17 117.84C383.21 118.84 383.24 119.94 383.24 120.84C383.23 121.74 383.22 122.58 383.13 123.24C383.04 123.90 382.91 124.40 382.68 124.80C382.44 125.20 382.04 125.53 381.74 125.64C381.44 125.75 381.06 125.73 380.86 125.46C380.65 125.19 380.54 124.59 380.49 124.02C380.45 123.45 380.52 122.87 380.60 122.04C380.67 121.21 380.79 120.04 380.93 119.04C381.08 118.04 381.30 116.89 381.48 116.04C381.66 115.19 381.82 114.43 382.00 113.94C382.18 113.45 382.37 112.95 382.53 113.10Z" fill="#ff1800"/>
</g>
<path d="M391.5 87.0V143.6" stroke="#686868" stroke-width="0.8" fill="none"/>
<rect x="427.0" y="87.0" width="3" height="56.6" fill="#ccc"/>
<path d="M391.5 87.1H430.0M391.5 143.79999999999998H430.0" stroke="#606060" stroke-width="0.8" fill="none"/>
<text x="399.7" y="93.9" font-size="5.7" text-anchor="start" font-weight="bold" fill="#111" stroke="#111" stroke-width="0.28" >GFP+</text>
<text x="399.7" y="99.8" font-size="5.7" text-anchor="start" font-weight="bold" fill="#111" stroke="#111" stroke-width="0.28" >%P:27,65</text>
<rect x="145.1" y="86.5" width="68.2" height="57.6" fill="#fff" stroke="#999" stroke-width="0.9"/>
<path d="M145.4 88.5V142.1" stroke="#777" stroke-width="0.9" stroke-dasharray="0.8 1.0" fill="none"/>
<path d="M148.1 144.79999999999998H211.3" stroke="#888" stroke-width="0.7" stroke-dasharray="0.8 2.9" fill="none"/>
<path d="M199.8 122.2h0.8M198.6 114.4h0.8M157.0 113.5h0.8M172.0 112.2h0.8M177.0 111.1h0.8M178.7 121.8h0.8M199.2 124.5h0.8M203.1 104.5h0.8M190.1 115.9h0.8M186.2 105.7h0.8M174.1 110.5h0.8M175.8 117.5h0.8M188.9 117.6h0.8M198.1 110.0h0.8M207.2 108.2h0.8M161.3 114.4h0.8M176.5 110.8h0.8M158.0 113.2h0.8M175.8 122.2h0.8M189.6 128.4h0.8M202.9 130.5h0.8M163.6 113.4h0.8M170.6 113.5h0.8M200.1 116.9h0.8M183.5 113.0h0.8M177.8 101.5h0.8M175.6 121.0h0.8M170.1 110.7h0.8M202.3 107.4h0.8M156.5 109.2h0.8M187.4 101.0h0.8M187.7 109.6h0.8M169.1 117.1h0.8M185.3 128.4h0.8M185.9 108.8h0.8M172.5 101.1h0.8M155.0 128.3h0.8M204.1 108.9h0.8M165.0 112.2h0.8M189.0 116.2h0.8M173.8 109.1h0.8M176.0 104.4h0.8M186.6 111.4h0.8M203.3 113.1h0.8M195.0 117.6h0.8M173.0 127.7h0.8M186.0 116.0h0.8M188.8 117.5h0.8M158.7 113.5h0.8M176.9 126.4h0.8M193.1 110.8h0.8M188.0 109.1h0.8M193.0 121.9h0.8M211.7 119.7h0.8M183.6 122.9h0.8M188.5 117.7h0.8M179.0 115.3h0.8M168.3 122.9h0.8M179.5 114.2h0.8M210.6 114.8h0.8M186.4 106.5h0.8M181.8 104.7h0.8M173.9 117.3h0.8M180.8 116.4h0.8M170.0 116.1h0.8M163.5 111.1h0.8M168.8 121.7h0.8M199.5 116.2h0.8M174.8 124.5h0.8M165.3 104.2h0.8M172.2 126.0h0.8M163.8 111.1h0.8M186.7 110.6h0.8M178.8 115.3h0.8M169.5 120.8h0.8M168.5 113.9h0.8M172.5 121.2h0.8M180.7 128.9h0.8M196.1 117.9h0.8M187.2 103.1h0.8M179.8 117.0h0.8M190.3 129.5h0.8M186.7 117.8h0.8M193.2 122.6h0.8M183.5 118.1h0.8M175.5 111.7h0.8M168.3 103.0h0.8M186.6 101.3h0.8M153.2 122.9h0.8M182.5 137.6h0.8M149.9 105.5h0.8M165.3 102.2h0.8M181.5 100.8h0.8M188.7 124.8h0.8M188.2 107.4h0.8M158.7 106.4h0.8M201.2 104.5h0.8M164.8 130.0h0.8M194.4 120.2h0.8M160.4 109.6h0.8M211.4 120.1h0.8M178.1 116.7h0.8M169.3 120.1h0.8M169.7 118.6h0.8M196.9 114.9h0.8M180.0 113.5h0.8M198.8 123.3h0.8M195.8 116.5h0.8M160.8 103.2h0.8M208.3 120.3h0.8M185.3 116.4h0.8M188.3 116.6h0.8M175.4 117.5h0.8M191.5 119.5h0.8M164.0 103.1h0.8M156.2 111.7h0.8M183.7 106.2h0.8M186.0 125.3h0.8M171.1 116.5h0.8M187.0 112.8h0.8M187.6 113.8h0.8M193.4 117.5h0.8M180.3 122.3h0.8M200.1 114.4h0.8M183.8 118.4h0.8M193.6 119.1h0.8M194.9 112.6h0.8M172.8 127.9h0.8M180.5 109.1h0.8M202.3 108.4h0.8M162.7 117.1h0.8M168.5 115.2h0.8M156.6 123.5h0.8M175.6 103.2h0.8M167.3 123.5h0.8M183.2 127.1h0.8M172.9 93.9h0.8M180.0 116.5h0.8M180.1 127.5h0.8M175.7 111.4h0.8M190.9 96.4h0.8M188.8 121.5h0.8M171.8 119.0h0.8M168.1 113.9h0.8M204.7 114.2h0.8M201.1 114.5h0.8M201.5 112.3h0.8M169.0 111.0h0.8M168.3 107.6h0.8M148.5 126.7h0.8M191.7 119.5h0.8M186.0 120.7h0.8M197.7 112.0h0.8M190.0 125.0h0.8M165.9 123.5h0.8M201.2 109.4h0.8M175.1 103.8h0.8M201.7 111.2h0.8M182.6 110.0h0.8M177.1 127.2h0.8M180.2 115.2h0.8M171.5 130.8h0.8M173.7 99.6h0.8M187.0 121.3h0.8M201.0 115.8h0.8M188.7 125.1h0.8M180.0 114.6h0.8M153.2 108.0h0.8M177.3 117.0h0.8M162.6 130.4h0.8M167.2 117.3h0.8M196.7 112.3h0.8M190.4 105.6h0.8M194.4 116.2h0.8M155.8 117.1h0.8M162.8 120.5h0.8M196.2 129.9h0.8M160.9 120.8h0.8M185.8 121.9h0.8M183.7 116.3h0.8M182.1 112.0h0.8M168.6 129.3h0.8M189.8 129.3h0.8M203.1 114.8h0.8M170.6 126.9h0.8M170.7 118.0h0.8M184.6 118.4h0.8M170.0 113.7h0.8M183.2 117.0h0.8M208.6 122.7h0.8M166.7 117.1h0.8M158.9 120.2h0.8M192.2 124.3h0.8M191.8 121.1h0.8M196.8 127.5h0.8M206.3 119.6h0.8M173.3 114.5h0.8M201.0 120.5h0.8M171.2 113.0h0.8M170.5 111.1h0.8M183.1 103.5h0.8M175.1 117.3h0.8M176.8 117.0h0.8M182.4 112.1h0.8M183.4 117.7h0.8M205.5 115.9h0.8M208.9 114.6h0.8M175.6 116.0h0.8M167.5 123.2h0.8M177.9 109.4h0.8M170.1 122.5h0.8M159.1 125.1h0.8M198.2 108.9h0.8M176.7 119.8h0.8M180.4 121.3h0.8M196.1 108.8h0.8M164.0 116.1h0.8M165.9 116.9h0.8M189.9 115.5h0.8M168.5 107.3h0.8M162.6 127.2h0.8M154.9 100.6h0.8M180.5 109.1h0.8M187.5 130.2h0.8M155.1 98.4h0.8M194.0 109.9h0.8M209.1 121.7h0.8M179.9 119.2h0.8M166.9 107.3h0.8M191.6 108.9h0.8M151.9 129.3h0.8M188.2 123.7h0.8M167.0 126.4h0.8M178.0 113.3h0.8M163.3 118.2h0.8M160.4 113.3h0.8M165.0 128.6h0.8M178.5 106.8h0.8M170.7 127.4h0.8M169.4 111.2h0.8M183.7 136.1h0.8M202.1 118.6h0.8M168.3 133.1h0.8M200.9 115.9h0.8M174.3 122.8h0.8M182.7 116.5h0.8M211.1 126.0h0.8M199.4 112.8h0.8M197.1 104.7h0.8M180.0 103.9h0.8M184.6 122.9h0.8M168.8 128.4h0.8M165.3 123.0h0.8M195.3 121.3h0.8M200.8 117.2h0.8M183.9 116.5h0.8M193.9 128.8h0.8M182.1 108.7h0.8M176.2 108.8h0.8M160.3 117.6h0.8M200.5 111.9h0.8M183.5 115.7h0.8M187.1 121.1h0.8M170.1 121.7h0.8M202.2 123.2h0.8M175.0 117.5h0.8M155.1 119.1h0.8M169.0 113.4h0.8M167.0 133.6h0.8M206.0 106.2h0.8M180.8 113.0h0.8M190.8 124.6h0.8M197.2 109.5h0.8M177.1 121.4h0.8M168.9 127.8h0.8M197.7 116.5h0.8M164.2 123.2h0.8M198.0 104.4h0.8M155.0 121.9h0.8M175.6 107.2h0.8M167.1 117.5h0.8M158.7 108.2h0.8M205.6 120.1h0.8M187.4 126.5h0.8M171.3 114.6h0.8M176.5 111.2h0.8M178.1 116.2h0.8M183.4 127.3h0.8M209.0 115.2h0.8M174.8 117.4h0.8M181.9 122.7h0.8M190.7 131.5h0.8M174.1 125.8h0.8M170.2 114.6h0.8M190.5 111.5h0.8M171.1 122.7h0.8M209.5 105.2h0.8M183.7 119.8h0.8M176.9 113.4h0.8M188.0 122.9h0.8M195.2 103.7h0.8M171.6 116.6h0.8M158.6 106.8h0.8M184.5 116.5h0.8M172.4 115.5h0.8M170.4 114.1h0.8M160.5 104.7h0.8M195.1 130.5h0.8M180.0 118.2h0.8M192.3 117.1h0.8M200.6 102.7h0.8M192.3 122.7h0.8M177.3 113.8h0.8M166.4 100.9h0.8M172.3 97.8h0.8M196.6 123.7h0.8M172.8 117.0h0.8M174.3 107.6h0.8M177.5 122.2h0.8M173.0 109.8h0.8M180.8 120.7h0.8M190.0 128.6h0.8M201.6 110.2h0.8M169.6 117.8h0.8M176.1 124.4h0.8M172.2 122.8h0.8M179.9 125.7h0.8M194.7 134.1h0.8M173.1 109.5h0.8M171.6 109.1h0.8M189.1 107.7h0.8M195.9 111.0h0.8M188.7 96.8h0.8M174.3 113.0h0.8M177.5 109.8h0.8M170.1 125.9h0.8M161.8 125.1h0.8M180.8 112.2h0.8M199.1 120.2h0.8M190.7 106.1h0.8M200.1 130.4h0.8M169.0 116.7h0.8M166.4 115.9h0.8M201.8 121.6h0.8M184.7 115.3h0.8M173.3 112.2h0.8M189.5 122.1h0.8M174.7 116.9h0.8M204.7 126.4h0.8M178.2 127.1h0.8M206.7 107.3h0.8M181.9 118.5h0.8M160.0 121.3h0.8M178.3 120.7h0.8M175.6 113.4h0.8M160.6 108.4h0.8M174.0 115.9h0.8M160.7 117.3h0.8M179.4 109.6h0.8M181.4 115.1h0.8M204.1 122.9h0.8M169.7 114.9h0.8M185.2 115.6h0.8M171.8 122.3h0.8M185.1 121.5h0.8M184.7 105.8h0.8M186.3 118.6h0.8M182.5 107.4h0.8M165.2 114.8h0.8M164.6 107.8h0.8M211.9 115.0h0.8M172.9 133.6h0.8M193.4 100.4h0.8M170.0 128.1h0.8M198.0 108.9h0.8M181.2 112.4h0.8M207.8 134.5h0.8M151.9 110.0h0.8M189.1 118.5h0.8M162.8 118.3h0.8M178.2 123.6h0.8M208.9 123.2h0.8M206.0 111.9h0.8M182.1 119.9h0.8M209.5 111.6h0.8M179.2 105.2h0.8M198.3 134.1h0.8M172.1 120.0h0.8M187.6 105.4h0.8M169.8 100.7h0.8M207.6 122.8h0.8M173.3 115.8h0.8M179.1 115.8h0.8M202.3 112.8h0.8M181.6 108.5h0.8M173.9 124.5h0.8M179.9 111.4h0.8M184.4 116.1h0.8M172.5 114.0h0.8M175.2 125.0h0.8M156.3 120.8h0.8M206.6 137.7h0.8M172.7 114.5h0.8M211.3 118.1h0.8M196.0 110.6h0.8M199.2 113.9h0.8M184.0 104.3h0.8M182.9 122.7h0.8M158.1 111.1h0.8M154.4 122.1h0.8M157.3 109.0h0.8M173.3 111.1h0.8M196.8 130.1h0.8M189.5 100.6h0.8M193.8 112.1h0.8M163.8 118.8h0.8M192.8 125.7h0.8M165.2 119.5h0.8M185.1 118.7h0.8M185.8 109.9h0.8M177.8 121.8h0.8M180.5 108.9h0.8M164.3 131.1h0.8M169.3 108.5h0.8M162.6 118.8h0.8M194.0 126.1h0.8M190.3 126.5h0.8M178.5 111.7h0.8M192.8 103.1h0.8M189.8 97.1h0.8M188.1 104.4h0.8M198.8 108.1h0.8M174.2 120.1h0.8M187.2 116.1h0.8M189.6 116.1h0.8M178.1 109.1h0.8M159.0 119.9h0.8M186.1 119.8h0.8M195.9 140.7h0.8M172.7 109.7h0.8M166.9 111.6h0.8M172.5 114.6h0.8M182.9 116.1h0.8M192.3 114.1h0.8M182.0 113.9h0.8M160.1 116.8h0.8M156.4 109.7h0.8M197.6 129.2h0.8M185.9 116.6h0.8M183.0 127.2h0.8M180.8 123.6h0.8M189.4 118.5h0.8M206.5 127.8h0.8M205.0 121.3h0.8M188.2 108.6h0.8M190.6 120.5h0.8M159.7 108.9h0.8M167.7 106.9h0.8M172.9 104.3h0.8M202.1 105.7h0.8M184.3 109.7h0.8M167.0 120.1h0.8M156.6 120.0h0.8M167.8 122.9h0.8M175.3 108.5h0.8M169.3 107.7h0.8M170.1 110.8h0.8M162.6 116.5h0.8M177.3 115.2h0.8M190.3 103.7h0.8M163.3 104.8h0.8M198.4 121.1h0.8M182.9 114.7h0.8M175.9 103.9h0.8M191.6 109.0h0.8M193.2 111.5h0.8M149.1 118.0h0.8M187.3 113.5h0.8M185.0 121.3h0.8M198.5 115.7h0.8M179.0 96.8h0.8M176.5 107.6h0.8M178.3 127.4h0.8M160.1 128.1h0.8M185.9 104.8h0.8M162.8 113.6h0.8M157.0 122.3h0.8M202.3 115.8h0.8M174.7 116.7h0.8M173.8 120.0h0.8M200.7 118.5h0.8M181.3 130.2h0.8M169.3 105.0h0.8M187.0 110.5h0.8M211.6 125.1h0.8M164.2 112.2h0.8M153.4 121.6h0.8M186.9 115.5h0.8M188.5 123.9h0.8M174.7 117.1h0.8M182.5 122.3h0.8M197.6 118.9h0.8M176.6 110.4h0.8M202.9 115.3h0.8M184.3 125.5h0.8M184.0 115.2h0.8M184.7 109.3h0.8M195.6 122.8h0.8M160.3 121.9h0.8M205.4 121.5h0.8" stroke="#555" stroke-opacity="0.3" stroke-width="0.8" fill="none"/>
<path d="M175.6 101.4h0.8M155.2 112.3h0.8M168.6 110.0h0.8M166.2 103.3h0.8M171.0 107.8h0.8M162.3 108.3h0.8M171.3 114.0h0.8M166.4 104.1h0.8M170.2 105.7h0.8M168.8 113.5h0.8M173.3 113.0h0.8M161.2 110.9h0.8M158.9 104.0h0.8M177.7 105.0h0.8M166.4 101.7h0.8M170.1 103.1h0.8M159.1 105.5h0.8M163.1 110.1h0.8M176.3 117.4h0.8M176.9 99.1h0.8M182.5 108.5h0.8M180.7 118.2h0.8M164.9 115.6h0.8M170.9 127.9h0.8M166.2 106.1h0.8M170.8 111.2h0.8M163.8 102.8h0.8M166.8 117.3h0.8M166.5 110.6h0.8M162.9 108.3h0.8M174.9 109.5h0.8M171.2 108.9h0.8M174.4 104.7h0.8M173.4 107.2h0.8M177.5 114.9h0.8M159.0 111.8h0.8M155.3 105.7h0.8M170.6 110.5h0.8M170.9 102.9h0.8M172.2 111.3h0.8M176.0 100.5h0.8M182.6 102.1h0.8M178.1 110.8h0.8M171.5 103.7h0.8M169.3 110.6h0.8M155.6 115.9h0.8M176.4 111.5h0.8M188.6 112.2h0.8M159.8 107.5h0.8M168.7 115.9h0.8M178.1 108.5h0.8M163.5 102.4h0.8M174.0 121.8h0.8M160.6 111.1h0.8M180.5 100.7h0.8M172.1 102.9h0.8M188.0 109.2h0.8M162.3 112.6h0.8M172.3 108.6h0.8M171.3 107.2h0.8M169.1 107.8h0.8M169.5 115.6h0.8M169.8 114.5h0.8M169.8 112.2h0.8M169.7 106.9h0.8M162.1 113.0h0.8M160.7 111.1h0.8M186.8 113.8h0.8M160.5 113.1h0.8M171.0 122.3h0.8M180.1 95.2h0.8M174.0 109.1h0.8M153.4 119.1h0.8M167.0 122.3h0.8M178.4 108.6h0.8M178.4 104.3h0.8M171.2 116.8h0.8M168.1 110.4h0.8M173.5 101.1h0.8M169.2 103.8h0.8M172.8 106.5h0.8M173.6 112.4h0.8M180.1 97.9h0.8M167.6 99.9h0.8M169.3 106.8h0.8M165.3 99.5h0.8M183.7 111.7h0.8M176.2 109.2h0.8M158.5 97.5h0.8M167.6 114.4h0.8M172.7 104.6h0.8M166.0 113.0h0.8M165.0 108.0h0.8M176.5 111.8h0.8M170.1 108.6h0.8M167.9 103.2h0.8M173.9 100.5h0.8M167.7 109.9h0.8M182.7 112.2h0.8M173.4 106.1h0.8M162.5 104.7h0.8M176.2 108.9h0.8M165.3 108.1h0.8M168.3 111.6h0.8M175.2 104.2h0.8M175.6 112.6h0.8M183.4 107.6h0.8M153.1 101.2h0.8M166.5 102.4h0.8M170.5 112.3h0.8M161.0 107.8h0.8M177.4 102.0h0.8M175.6 107.3h0.8M161.3 110.5h0.8M174.6 96.0h0.8M170.4 106.7h0.8M162.3 107.0h0.8M165.8 104.3h0.8M173.0 114.6h0.8M160.9 109.0h0.8M162.1 100.9h0.8M167.5 105.6h0.8M177.0 103.2h0.8M171.9 109.3h0.8M165.9 107.4h0.8M166.9 112.3h0.8M186.0 101.2h0.8M175.6 102.2h0.8M170.4 100.6h0.8M178.6 106.1h0.8M193.3 109.2h0.8M152.1 111.4h0.8M152.9 117.3h0.8M166.5 104.0h0.8M163.2 118.4h0.8M167.8 116.5h0.8M168.7 99.2h0.8M162.7 111.9h0.8M176.6 108.7h0.8M163.5 114.1h0.8M175.3 117.1h0.8M180.6 98.4h0.8M178.4 105.6h0.8M171.0 109.7h0.8M155.4 108.2h0.8M161.8 118.1h0.8M173.9 112.8h0.8M155.0 109.4h0.8M162.5 105.1h0.8M179.4 103.4h0.8M166.9 106.6h0.8M184.0 108.1h0.8M163.7 106.9h0.8M177.7 117.6h0.8M157.1 104.0h0.8M162.7 110.7h0.8M164.9 105.9h0.8M177.1 99.6h0.8M167.6 112.2h0.8M163.9 113.4h0.8M180.1 114.9h0.8M173.9 102.8h0.8M181.3 107.2h0.8M161.5 118.0h0.8M181.1 110.0h0.8M157.9 103.9h0.8M159.1 98.4h0.8M183.5 98.0h0.8M176.6 110.6h0.8M170.8 110.5h0.8M163.6 110.9h0.8M166.4 108.4h0.8M193.8 105.4h0.8M166.6 109.0h0.8M164.2 108.5h0.8M168.3 106.9h0.8M168.5 99.5h0.8M157.0 109.3h0.8M177.3 119.2h0.8M161.7 117.1h0.8M165.1 104.6h0.8M175.1 104.9h0.8M171.2 97.4h0.8M163.6 108.6h0.8M181.6 109.2h0.8M184.5 102.6h0.8M167.2 124.7h0.8M177.3 103.9h0.8M169.9 105.3h0.8M174.2 98.0h0.8M164.8 104.8h0.8M169.2 106.4h0.8M185.3 104.9h0.8M167.5 110.2h0.8M191.1 104.6h0.8M166.9 110.1h0.8M163.0 101.2h0.8M175.0 97.2h0.8M156.8 110.1h0.8" stroke="#555" stroke-opacity="0.3" stroke-width="0.8" fill="none"/>
<path d="M163.9 114.5h0.8M168.0 114.1h0.8M151.0 128.9h0.8M159.3 136.6h0.8M174.4 106.0h0.8M192.8 115.2h0.8M177.9 113.0h0.8M202.6 117.8h0.8M199.7 137.7h0.8M178.0 117.0h0.8M157.2 134.3h0.8M179.9 115.0h0.8M167.8 109.5h0.8M164.5 113.4h0.8M177.3 114.7h0.8M159.0 136.6h0.8M186.3 114.4h0.8M207.7 128.4h0.8M203.8 119.6h0.8M160.6 116.8h0.8M165.8 113.5h0.8M152.7 134.0h0.8M177.7 113.7h0.8M198.5 136.7h0.8M175.7 110.0h0.8M182.1 115.1h0.8M206.9 127.3h0.8M158.3 118.4h0.8M164.1 114.8h0.8M205.0 134.7h0.8M177.3 110.5h0.8M176.2 109.4h0.8M171.2 105.4h0.8M178.1 115.9h0.8M188.5 135.6h0.8M169.5 136.5h0.8M193.1 115.9h0.8M177.0 137.0h0.8M189.4 136.7h0.8M169.4 107.6h0.8M176.6 107.6h0.8M153.1 126.8h0.8M157.1 120.7h0.8M204.1 134.4h0.8M207.0 131.1h0.8M200.4 113.7h0.8M161.8 114.9h0.8M162.8 115.2h0.8M156.6 119.9h0.8M192.4 115.8h0.8M207.4 134.1h0.8M170.8 136.7h0.8M159.5 136.1h0.8M156.0 122.4h0.8M205.2 119.0h0.8M168.3 110.2h0.8M187.0 114.6h0.8M173.1 106.1h0.8M180.3 117.2h0.8M155.3 124.4h0.8M206.5 130.3h0.8M174.7 104.5h0.8M193.0 137.1h0.8M163.1 137.2h0.8M207.4 128.9h0.8M172.8 105.3h0.8M181.0 116.3h0.8M167.9 108.8h0.8M173.0 104.7h0.8M203.0 117.3h0.8M187.0 137.1h0.8M152.6 130.9h0.8M190.6 114.5h0.8M194.7 115.5h0.8M167.8 111.9h0.8M154.3 123.7h0.8M190.8 115.3h0.8M184.6 113.0h0.8M164.3 110.2h0.8M198.2 113.8h0.8M157.9 135.7h0.8M180.3 116.9h0.8M170.2 106.6h0.8M201.7 115.4h0.8M179.3 117.1h0.8M182.3 115.4h0.8M207.1 131.6h0.8M199.2 114.6h0.8M189.8 114.5h0.8M204.0 119.7h0.8M173.4 106.5h0.8M154.4 124.0h0.8M202.6 118.3h0.8M200.4 115.5h0.8M158.7 136.3h0.8M165.9 115.0h0.8M172.3 106.0h0.8M156.7 120.9h0.8M177.1 110.2h0.8M165.6 109.3h0.8M178.0 115.3h0.8M155.9 135.8h0.8M207.5 128.2h0.8M160.3 115.1h0.8M155.8 133.6h0.8M162.8 115.2h0.8M169.8 108.0h0.8M174.2 136.1h0.8M203.0 115.2h0.8M176.2 105.1h0.8M169.9 108.0h0.8M156.9 120.9h0.8M165.0 113.8h0.8M158.8 137.8h0.8M195.9 114.0h0.8M176.6 106.6h0.8M204.8 131.5h0.8M164.3 115.3h0.8M178.8 117.2h0.8M199.4 136.7h0.8M152.9 127.9h0.8M187.4 135.6h0.8M204.5 120.6h0.8M167.4 111.3h0.8M177.4 115.4h0.8M196.9 114.2h0.8M206.9 130.5h0.8M159.1 118.1h0.8M164.4 137.9h0.8M196.8 137.0h0.8M202.3 115.8h0.8M194.2 114.5h0.8M167.2 112.6h0.8M198.6 113.3h0.8M205.8 123.4h0.8M167.6 109.5h0.8M170.5 107.6h0.8M202.9 114.5h0.8M200.4 114.3h0.8M196.3 115.7h0.8M174.3 106.8h0.8M178.5 116.6h0.8M203.3 135.1h0.8M177.4 111.2h0.8M177.4 107.6h0.8M167.4 109.9h0.8M193.5 136.7h0.8M176.8 115.3h0.8M159.5 119.5h0.8M192.5 115.3h0.8M152.3 128.3h0.8M153.3 125.6h0.8M163.3 136.6h0.8M206.1 124.6h0.8M167.8 110.3h0.8M182.4 115.4h0.8M171.0 106.9h0.8M155.8 134.4h0.8M155.8 135.0h0.8M206.1 130.7h0.8M207.1 128.9h0.8M155.8 121.5h0.8M179.3 114.6h0.8M178.5 116.4h0.8M189.7 114.1h0.8M153.6 128.7h0.8M170.5 106.3h0.8M186.8 115.2h0.8M176.5 112.5h0.8M194.8 114.8h0.8M156.5 117.9h0.8M150.9 129.7h0.8M163.9 136.2h0.8M198.5 113.7h0.8M199.7 135.5h0.8M161.8 117.2h0.8M161.8 116.4h0.8M181.8 114.3h0.8M155.7 123.0h0.8M152.8 131.9h0.8M201.3 117.0h0.8M181.6 136.1h0.8M167.6 109.0h0.8M169.2 109.6h0.8M196.4 113.6h0.8M172.3 136.3h0.8M181.5 136.9h0.8M190.3 135.5h0.8M198.6 136.8h0.8M183.5 137.5h0.8M183.6 136.5h0.8M206.3 133.0h0.8M169.3 108.4h0.8M173.5 105.2h0.8M176.9 109.7h0.8M182.0 115.6h0.8M158.6 121.1h0.8M184.5 135.9h0.8M151.5 128.8h0.8M154.1 133.6h0.8M188.1 135.4h0.8M206.2 128.2h0.8M169.0 111.6h0.8M181.5 116.9h0.8M188.7 138.8h0.8M203.1 119.2h0.8M182.5 114.6h0.8M178.6 117.4h0.8M175.0 106.3h0.8M175.0 106.6h0.8M154.2 131.7h0.8M176.2 109.3h0.8M169.6 137.5h0.8M200.1 113.6h0.8M171.0 107.1h0.8M165.6 112.3h0.8M204.2 116.5h0.8M169.6 107.3h0.8M177.8 115.1h0.8M153.4 125.9h0.8M186.3 113.1h0.8M179.5 116.4h0.8M169.4 106.9h0.8M198.1 113.9h0.8M157.7 138.0h0.8M188.6 135.1h0.8M173.9 106.8h0.8M157.3 119.0h0.8M206.7 121.7h0.8M192.9 137.4h0.8M176.8 116.3h0.8M178.4 115.9h0.8M177.3 114.3h0.8M162.0 115.7h0.8M179.0 116.2h0.8M207.3 127.5h0.8M170.4 107.6h0.8M186.5 138.6h0.8M182.0 115.5h0.8M208.9 127.5h0.8M208.3 126.8h0.8M172.3 104.9h0.8M150.8 130.3h0.8M189.2 135.0h0.8M161.2 115.0h0.8M206.1 125.5h0.8M189.4 114.1h0.8M177.0 113.6h0.8M158.3 118.5h0.8M177.9 113.3h0.8M207.4 122.7h0.8M168.2 111.3h0.8M164.5 137.1h0.8M184.5 136.0h0.8M161.9 116.4h0.8M170.1 107.9h0.8M169.1 135.4h0.8M163.4 137.4h0.8M157.9 120.0h0.8M191.8 115.9h0.8M183.8 114.5h0.8M174.6 105.7h0.8M202.4 134.9h0.8M177.1 114.5h0.8M164.2 116.0h0.8M206.7 129.2h0.8M164.9 114.4h0.8M205.5 122.8h0.8M154.0 126.0h0.8M202.3 134.8h0.8M157.4 118.6h0.8M153.4 130.1h0.8M184.6 112.7h0.8M155.9 134.2h0.8M160.2 117.7h0.8M172.6 107.2h0.8M170.4 106.8h0.8M207.7 130.8h0.8M168.2 107.3h0.8M173.1 103.2h0.8M205.5 119.4h0.8M207.4 127.1h0.8M207.7 129.9h0.8M188.5 135.6h0.8M205.5 119.9h0.8M152.3 122.9h0.8M156.3 121.9h0.8M179.9 115.7h0.8M169.2 109.2h0.8M182.2 136.6h0.8M160.6 114.2h0.8M162.0 116.4h0.8M181.4 115.7h0.8M178.4 114.0h0.8M154.2 125.6h0.8M206.1 130.2h0.8M173.4 106.0h0.8M154.0 132.0h0.8M176.8 114.0h0.8M176.4 108.3h0.8" stroke="#444" stroke-opacity="0.4" stroke-width="0.8" fill="none"/>
<g filter="url(#b)">
<path d="M153.20 128.50C153.37 126.78 154.53 125.08 155.50 123.50C156.47 121.92 157.67 120.32 159.00 119.00C160.33 117.68 162.08 116.60 163.50 115.60C164.92 114.60 166.58 114.02 167.50 113.00C168.42 111.98 168.50 110.53 169.00 109.50C169.50 108.47 169.67 107.33 170.50 106.80C171.33 106.27 173.00 106.17 174.00 106.30C175.00 106.43 176.00 106.65 176.50 107.60C177.00 108.55 176.82 110.52 177.00 112.00C177.18 113.48 177.18 115.57 177.60 116.50C178.02 117.43 178.68 117.75 179.50 117.60C180.32 117.45 181.25 116.07 182.50 115.60C183.75 115.13 185.25 114.83 187.00 114.80C188.75 114.77 191.22 115.55 193.00 115.40C194.78 115.25 196.45 113.80 197.70 113.90C198.95 114.00 199.48 115.07 200.50 116.00C201.52 116.93 202.78 117.83 203.80 119.50C204.82 121.17 206.20 124.08 206.60 126.00C207.00 127.92 206.97 129.57 206.20 131.00C205.43 132.43 204.37 133.83 202.00 134.60C199.63 135.37 195.67 135.43 192.00 135.60C188.33 135.77 183.67 135.50 180.00 135.60C176.33 135.70 173.33 136.10 170.00 136.20C166.67 136.30 162.58 136.60 160.00 136.20C157.42 135.80 155.63 135.08 154.50 133.80C153.37 132.52 153.03 130.22 153.20 128.50Z" fill="#0a4cff"/>
</g>
<g filter="url(#b)">
<path d="M167.00 107.50C167.15 107.13 168.17 106.82 168.50 107.00C168.83 107.18 169.15 108.23 169.00 108.60C168.85 108.97 167.93 109.38 167.60 109.20C167.27 109.02 166.85 107.87 167.00 107.50Z" fill="#0a4cff"/>
</g>
<g filter="url(#b)">
<path d="M154.30 129.00C154.02 127.23 154.93 125.45 155.80 124.00C156.67 122.55 158.05 121.30 159.50 120.30C160.95 119.30 162.92 118.58 164.50 118.00C166.08 117.42 167.85 117.50 169.00 116.80C170.15 116.10 170.77 114.63 171.40 113.80C172.03 112.97 172.33 111.80 172.80 111.80C173.27 111.80 173.93 112.77 174.20 113.80C174.47 114.83 174.23 116.47 174.40 118.00C174.57 119.53 175.18 121.17 175.20 123.00C175.22 124.83 174.95 127.17 174.50 129.00C174.05 130.83 174.08 132.90 172.50 134.00C170.92 135.10 167.50 135.50 165.00 135.60C162.50 135.70 159.28 135.70 157.50 134.60C155.72 133.50 154.58 130.77 154.30 129.00Z" fill="#10d0ff"/>
</g>
<g filter="url(#b)">
<path d="M155.30 129.50C155.38 128.08 156.38 126.53 157.50 125.50C158.62 124.47 160.33 123.68 162.00 123.30C163.67 122.92 166.00 122.83 167.50 123.20C169.00 123.57 170.32 124.37 171.00 125.50C171.68 126.63 171.85 128.58 171.60 130.00C171.35 131.42 170.93 133.17 169.50 134.00C168.07 134.83 165.08 135.00 163.00 135.00C160.92 135.00 158.28 134.92 157.00 134.00C155.72 133.08 155.22 130.92 155.30 129.50Z" fill="#20f040"/>
</g>
<g filter="url(#b)">
<path d="M157.00 129.50C157.08 128.50 158.00 127.20 159.00 126.50C160.00 125.80 161.67 125.30 163.00 125.30C164.33 125.30 166.17 125.80 167.00 126.50C167.83 127.20 168.08 128.50 168.00 129.50C167.92 130.50 167.50 131.83 166.50 132.50C165.50 133.17 163.33 133.50 162.00 133.50C160.67 133.50 159.33 133.17 158.50 132.50C157.67 131.83 156.92 130.50 157.00 129.50Z" fill="#f8f020"/>
</g>
<g filter="url(#b)"><circle cx="158.7" cy="130" r="2.4" fill="#ff8000"/><circle cx="158.6" cy="130" r="1.6" fill="#ff1800"/><circle cx="163.8" cy="129.5" r="1.4" fill="#ff8000"/></g>
<g filter="url(#b)">
<path d="M177.00 128.00C176.83 126.00 177.50 123.17 178.50 121.50C179.50 119.83 180.92 118.70 183.00 118.00C185.08 117.30 188.33 117.30 191.00 117.30C193.67 117.30 196.87 117.22 199.00 118.00C201.13 118.78 202.72 120.33 203.80 122.00C204.88 123.67 205.55 126.17 205.50 128.00C205.45 129.83 205.08 131.80 203.50 133.00C201.92 134.20 198.92 134.83 196.00 135.20C193.08 135.57 188.75 135.48 186.00 135.20C183.25 134.92 181.00 134.70 179.50 133.50C178.00 132.30 177.17 130.00 177.00 128.00Z" fill="#10d0ff"/>
<path d="M177.91 127.94C177.75 126.18 178.38 123.69 179.31 122.22C180.24 120.75 181.55 119.76 183.49 119.14C185.43 118.52 188.45 118.52 190.93 118.52C193.41 118.52 196.39 118.45 198.37 119.14C200.35 119.83 201.83 121.19 202.83 122.66C203.84 124.13 204.46 126.33 204.41 127.94C204.37 129.55 204.03 131.28 202.56 132.34C201.08 133.40 198.29 133.95 195.58 134.28C192.87 134.60 188.84 134.53 186.28 134.28C183.72 134.03 181.63 133.84 180.24 132.78C178.84 131.72 178.06 129.70 177.91 127.94Z" fill="#20f040"/>
</g>
<g filter="url(#b)">
<path d="M181.00 128.50C181.08 127.25 181.50 125.08 182.50 124.00C183.50 122.92 185.25 122.33 187.00 122.00C188.75 121.67 191.33 121.58 193.00 122.00C194.67 122.42 196.13 123.42 197.00 124.50C197.87 125.58 198.28 127.25 198.20 128.50C198.12 129.75 197.70 131.15 196.50 132.00C195.30 132.85 192.92 133.38 191.00 133.60C189.08 133.82 186.50 133.65 185.00 133.30C183.50 132.95 182.67 132.30 182.00 131.50C181.33 130.70 180.92 129.75 181.00 128.50Z" fill="#f8f020"/>
<path d="M182.09 128.56C182.16 127.56 182.52 125.83 183.38 124.96C184.24 124.09 185.75 123.63 187.25 123.36C188.76 123.09 190.98 123.03 192.41 123.36C193.85 123.69 195.11 124.49 195.85 125.36C196.60 126.23 196.96 127.56 196.88 128.56C196.81 129.56 196.45 130.68 195.42 131.36C194.39 132.04 192.34 132.47 190.69 132.64C189.04 132.81 186.82 132.68 185.53 132.40C184.24 132.12 183.53 131.60 182.95 130.96C182.38 130.32 182.02 129.56 182.09 128.56Z" fill="#ff8000"/>
<path d="M183.65 128.64C183.71 127.99 183.98 126.87 184.64 126.30C185.30 125.74 186.46 125.44 187.61 125.26C188.77 125.09 190.47 125.05 191.57 125.26C192.67 125.48 193.64 126.00 194.21 126.56C194.78 127.13 195.06 127.99 195.00 128.64C194.95 129.29 194.67 130.02 193.88 130.46C193.09 130.91 191.52 131.18 190.25 131.30C188.99 131.41 187.28 131.32 186.29 131.14C185.30 130.96 184.75 130.62 184.31 130.20C183.87 129.79 183.60 129.29 183.65 128.64Z" fill="#ff1800"/>
</g>
<path d="M167.3 144.1L191.2 86.5H213.3V144.1Z" stroke="#707070" stroke-width="0.75" fill="none"/>
<text x="177.8" y="96.7" font-size="5.7" text-anchor="start" font-weight="bold" fill="#111" stroke="#111" stroke-width="0.28" >GFP+</text>
<text x="177.8" y="102.6" font-size="5.7" text-anchor="start" font-weight="bold" fill="#111" stroke="#111" stroke-width="0.28" >%P:62,75</text>
<text x="113.4" y="181.2" font-size="9.2" text-anchor="start" font-weight="normal" fill="#111" stroke="#111" stroke-width="0.18" >B</text>
<path d="M185.5 260.0H391.6" stroke="#c8c8c8" stroke-width="0.7" fill="none"/>
<path d="M175.5 189.4V235.9M173.7 235.9h3.6M175.5 241.9V263.7" stroke="#000" stroke-width="1" fill="none"/>
<path d="M175.0 263.7H391.6" stroke="#383838" stroke-width="1.55" fill="none"/>
<path d="M173.1 199.4h2.4" stroke="#000" stroke-width="0.9"/>
<text x="172.5" y="201.6" font-size="6.3" text-anchor="end" font-weight="normal" fill="#111" stroke="#111" stroke-width="0.06" >60</text>
<path d="M173.1 212.0h2.4" stroke="#000" stroke-width="0.9"/>
<text x="172.5" y="214.2" font-size="6.3" text-anchor="end" font-weight="normal" fill="#111" stroke="#111" stroke-width="0.06" >40</text>
<path d="M173.1 224.6h2.4" stroke="#000" stroke-width="0.9"/>
<text x="172.5" y="226.8" font-size="6.3" text-anchor="end" font-weight="normal" fill="#111" stroke="#111" stroke-width="0.06" >20</text>
<path d="M173.5 241.9h2" stroke="#000" stroke-width="0.9"/>
<text x="172.6" y="244.1" font-size="6.3" text-anchor="end" font-weight="normal" fill="#111" stroke="#111" stroke-width="0.06" >0.4</text>
<path d="M173.5 247.3h2" stroke="#000" stroke-width="0.9"/>
<text x="172.6" y="249.5" font-size="6.3" text-anchor="end" font-weight="normal" fill="#111" stroke="#111" stroke-width="0.06" >0.3</text>
<path d="M173.5 252.8h2" stroke="#000" stroke-width="0.9"/>
<text x="172.6" y="255.0" font-size="6.3" text-anchor="end" font-weight="normal" fill="#111" stroke="#111" stroke-width="0.06" >0.2</text>
<path d="M173.5 258.2h2" stroke="#000" stroke-width="0.9"/>
<text x="172.6" y="260.4" font-size="6.3" text-anchor="end" font-weight="normal" fill="#111" stroke="#111" stroke-width="0.06" >0.1</text>
<text transform="translate(153.2 226.0) rotate(-90)" font-size="6.1" text-anchor="middle" fill="#111">Transduction efficiency [%]</text>
<text x="283.2" y="179.3" font-size="6.8" text-anchor="middle" font-weight="normal" fill="#111" stroke="#111" stroke-width="0.06" >w/o enhancer</text>
<path d="M182.0 263.7v2.3" stroke="#333" stroke-width="0.8"/>
<text x="182.0" y="271.4" font-size="3.8" text-anchor="middle" font-weight="normal" fill="#444" stroke="#444" stroke-width="0.06" >-</text>
<text x="182.0" y="277.3" font-size="3.8" text-anchor="middle" font-weight="normal" fill="#444" stroke="#444" stroke-width="0.06" >-</text>
<path d="M179.1 263.2V261.0M178.1 261.0h2" stroke="#000" stroke-width="0.8"/>
<circle cx="179.1" cy="262.1" r="1.9" fill="#000"/>
<path d="M185.0 261.2l2.1 3.4h-4.2z" fill="#f6105f"/>
<path d="M197.5 263.7v2.3" stroke="#333" stroke-width="0.8"/>
<text x="197.5" y="271.4" font-size="3.8" text-anchor="middle" font-weight="normal" fill="#444" stroke="#444" stroke-width="0.06" >-</text>
<text x="197.5" y="277.3" font-size="3.8" text-anchor="middle" font-weight="normal" fill="#444" stroke="#444" stroke-width="0.06" >+</text>
<circle cx="194.6" cy="262.8" r="1.9" fill="#000"/>
<path d="M200.5 261.2l2.1 3.4h-4.2z" fill="#f6105f"/>
<path d="M228.6 263.7v2.3" stroke="#333" stroke-width="0.8"/>
<text x="228.6" y="271.4" font-size="3.8" text-anchor="middle" font-weight="normal" fill="#444" stroke="#444" stroke-width="0.06" >+</text>
<text x="228.6" y="277.3" font-size="3.8" text-anchor="middle" font-weight="normal" fill="#444" stroke="#444" stroke-width="0.06" >-</text>
<circle cx="225.7" cy="262.6" r="1.9" fill="#000"/>
<path d="M230.5 263.3V261.6H233.5V263.3" stroke="#f6105f" stroke-width="1.15" fill="none"/>
<path d="M232.0 262.1V259.9M231.0 259.9h2" stroke="#f6105f" stroke-width="0.8"/>
<path d="M232.0 259.0l2.1 3.4h-4.2z" fill="#f6105f"/>
<path d="M232.0 259.8l0.9 1.6h-1.8z" fill="#500018"/>
<path d="M244.2 263.7v2.3" stroke="#333" stroke-width="0.8"/>
<text x="244.2" y="271.4" font-size="3.8" text-anchor="middle" font-weight="normal" fill="#444" stroke="#444" stroke-width="0.06" >-</text>
<text x="244.2" y="277.3" font-size="3.8" text-anchor="middle" font-weight="normal" fill="#444" stroke="#444" stroke-width="0.06" >+</text>
<circle cx="241.3" cy="262.8" r="1.9" fill="#000"/>
<path d="M247.2 261.2l2.1 3.4h-4.2z" fill="#f6105f"/>
<path d="M259.7 263.7v2.3" stroke="#333" stroke-width="0.8"/>
<text x="259.7" y="271.4" font-size="3.8" text-anchor="middle" font-weight="normal" fill="#444" stroke="#444" stroke-width="0.06" >+</text>
<text x="259.7" y="277.3" font-size="3.8" text-anchor="middle" font-weight="normal" fill="#444" stroke="#444" stroke-width="0.06" >+</text>
<circle cx="256.8" cy="262.1" r="1.9" fill="#000"/>
<path d="M261.5 263.3V241.6M264.5 263.3V241.6M261.5 236.4V214.8A1.5 1.5 0 0 1 264.5 214.8V236.4" stroke="#f6105f" stroke-width="1.15" fill="none"/>
<path d="M263.0 212.1l1.7 2.8h-3.4z" fill="#f6105f"/>
<path d="M263.0 212.4l1.2 2.1h-2.4z" fill="#3a0010"/>
<path d="M290.8 263.7v2.3" stroke="#333" stroke-width="0.8"/>
<text x="290.8" y="271.4" font-size="3.8" text-anchor="middle" font-weight="normal" fill="#444" stroke="#444" stroke-width="0.06" >+</text>
<text x="290.8" y="277.3" font-size="3.8" text-anchor="middle" font-weight="normal" fill="#444" stroke="#444" stroke-width="0.06" >-</text>
<circle cx="287.9" cy="262.6" r="1.9" fill="#000"/>
<path d="M292.5 263.3V261.6H295.5V263.3" stroke="#f6105f" stroke-width="1.15" fill="none"/>
<path d="M294.0 262.1V259.9M293.0 259.9h2" stroke="#f6105f" stroke-width="0.8"/>
<path d="M294.0 259.0l2.1 3.4h-4.2z" fill="#f6105f"/>
<path d="M294.0 259.8l0.9 1.6h-1.8z" fill="#500018"/>
<path d="M306.3 263.7v2.3" stroke="#333" stroke-width="0.8"/>
<text x="306.3" y="271.4" font-size="3.8" text-anchor="middle" font-weight="normal" fill="#444" stroke="#444" stroke-width="0.06" >-</text>
<text x="306.3" y="277.3" font-size="3.8" text-anchor="middle" font-weight="normal" fill="#444" stroke="#444" stroke-width="0.06" >+</text>
<circle cx="303.4" cy="262.8" r="1.9" fill="#000"/>
<path d="M309.3 261.2l2.1 3.4h-4.2z" fill="#f6105f"/>
<path d="M321.9 263.7v2.3" stroke="#333" stroke-width="0.8"/>
<text x="321.9" y="271.4" font-size="3.8" text-anchor="middle" font-weight="normal" fill="#444" stroke="#444" stroke-width="0.06" >+</text>
<text x="321.9" y="277.3" font-size="3.8" text-anchor="middle" font-weight="normal" fill="#444" stroke="#444" stroke-width="0.06" >+</text>
<circle cx="319.0" cy="262.6" r="1.9" fill="#000"/>
<path d="M323.5 263.3V241.6M326.5 263.3V241.6M323.5 236.4V222.9A1.5 1.5 0 0 1 326.5 222.9V236.4" stroke="#f6105f" stroke-width="1.15" fill="none"/>
<path d="M325.0 220.2l1.7 2.8h-3.4z" fill="#f6105f"/>
<path d="M325.0 220.5l1.2 2.1h-2.4z" fill="#3a0010"/>
<path d="M352.9 263.7v2.3" stroke="#333" stroke-width="0.8"/>
<text x="352.9" y="271.4" font-size="3.8" text-anchor="middle" font-weight="normal" fill="#444" stroke="#444" stroke-width="0.06" >+</text>
<text x="352.9" y="277.3" font-size="3.8" text-anchor="middle" font-weight="normal" fill="#444" stroke="#444" stroke-width="0.06" >-</text>
<circle cx="350.0" cy="262.6" r="1.9" fill="#000"/>
<path d="M355.9 262.1V261.0M354.9 261.0h2" stroke="#f6105f" stroke-width="0.8"/>
<path d="M355.9 259.5l2.1 3.4h-4.2z" fill="#f6105f"/>
<path d="M368.5 263.7v2.3" stroke="#333" stroke-width="0.8"/>
<text x="368.5" y="271.4" font-size="3.8" text-anchor="middle" font-weight="normal" fill="#444" stroke="#444" stroke-width="0.06" >-</text>
<text x="368.5" y="277.3" font-size="3.8" text-anchor="middle" font-weight="normal" fill="#444" stroke="#444" stroke-width="0.06" >+</text>
<circle cx="365.6" cy="262.6" r="1.9" fill="#000"/>
<path d="M371.5 261.2l2.1 3.4h-4.2z" fill="#f6105f"/>
<path d="M384.0 263.7v2.3" stroke="#333" stroke-width="0.8"/>
<text x="384.0" y="271.4" font-size="3.8" text-anchor="middle" font-weight="normal" fill="#444" stroke="#444" stroke-width="0.06" >+</text>
<text x="384.0" y="277.3" font-size="3.8" text-anchor="middle" font-weight="normal" fill="#444" stroke="#444" stroke-width="0.06" >+</text>
<path d="M379.5 263.3V241.6M382.5 263.3V241.6M379.5 236.4V234.8A1.5 1.5 0 0 1 382.5 234.8V236.4" stroke="#000" stroke-width="1.15" fill="none"/>
<path d="M381.0 234.3V232.3M380.0 232.3h2" stroke="#000" stroke-width="0.8"/>
<circle cx="381.0" cy="233.3" r="1.8" fill="#000"/>
<path d="M387.0 260.1l2.1 3.4h-4.2z" fill="#f6105f"/>
<path d="M176.6 281.7H206.4" stroke="#6c6c6c" stroke-width="1.5"/>
<text x="192.0" y="289.9" font-size="6.25" text-anchor="middle" font-weight="normal" fill="#111" stroke="#111" stroke-width="0.06" >w/o</text>
<path d="M219.2 281.7H269.8" stroke="#6c6c6c" stroke-width="1.5"/>
<text x="244.7" y="289.9" font-size="6.25" text-anchor="middle" font-weight="normal" fill="#111" stroke="#111" stroke-width="0.06" >CD4-mAB</text>
<path d="M282.0 281.7H332.2" stroke="#6c6c6c" stroke-width="1.5"/>
<text x="307.1" y="289.9" font-size="6.25" text-anchor="middle" font-weight="normal" fill="#111" stroke="#111" stroke-width="0.06" >CD8-mAB</text>
<path d="M344.1 281.7H391.6" stroke="#6c6c6c" stroke-width="1.5"/>
<text x="366.4" y="289.9" font-size="6.25" text-anchor="middle" font-weight="normal" fill="#111" stroke="#111" stroke-width="0.06" >CD20-mAB</text>
<text x="393.3" y="270.9" font-size="6.2" text-anchor="start" font-weight="normal" fill="#111" stroke="#111" stroke-width="0.06" >LLE</text>
<text x="393.3" y="278.1" font-size="6.2" text-anchor="start" font-weight="normal" fill="#111" stroke="#111" stroke-width="0.06" >LV</text>
<circle cx="398.4" cy="200.5" r="1.75" fill="#000"/>
<text x="407.0" y="202.7" font-size="6.2" text-anchor="start" font-weight="normal" fill="#111" stroke="#111" stroke-width="0.06" >Raji</text>
<path d="M398.4 211.5l1.7 2.9h-3.4z" fill="#f6105f"/>
<text x="407.0" y="214.9" font-size="6.2" text-anchor="start" font-weight="normal" fill="#111" stroke="#111" stroke-width="0.06" >SupT1</text>
<path d="M187.6 391.5H390.8" stroke="#c8c8c8" stroke-width="0.7" fill="none"/>
<path d="M177.6 321.4V367.9M175.8 367.9h3.6M177.6 374.0V395.1" stroke="#000" stroke-width="1" fill="none"/>
<path d="M177.1 395.1H390.8" stroke="#151515" stroke-width="1.25" fill="none"/>
<path d="M175.2 331.4h2.4" stroke="#000" stroke-width="0.9"/>
<text x="174.6" y="333.6" font-size="6.3" text-anchor="end" font-weight="normal" fill="#111" stroke="#111" stroke-width="0.06" >60</text>
<path d="M175.2 344.0h2.4" stroke="#000" stroke-width="0.9"/>
<text x="174.6" y="346.2" font-size="6.3" text-anchor="end" font-weight="normal" fill="#111" stroke="#111" stroke-width="0.06" >40</text>
<path d="M175.2 356.6h2.4" stroke="#000" stroke-width="0.9"/>
<text x="174.6" y="358.8" font-size="6.3" text-anchor="end" font-weight="normal" fill="#111" stroke="#111" stroke-width="0.06" >20</text>
<path d="M175.6 374.0h2" stroke="#000" stroke-width="0.9"/>
<text x="174.7" y="376.2" font-size="6.3" text-anchor="end" font-weight="normal" fill="#111" stroke="#111" stroke-width="0.06" >0.4</text>
<path d="M175.6 379.3h2" stroke="#000" stroke-width="0.9"/>
<text x="174.7" y="381.5" font-size="6.3" text-anchor="end" font-weight="normal" fill="#111" stroke="#111" stroke-width="0.06" >0.3</text>
<path d="M175.6 384.5h2" stroke="#000" stroke-width="0.9"/>
<text x="174.7" y="386.7" font-size="6.3" text-anchor="end" font-weight="normal" fill="#111" stroke="#111" stroke-width="0.06" >0.2</text>
<path d="M175.6 389.8h2" stroke="#000" stroke-width="0.9"/>
<text x="174.7" y="392.0" font-size="6.3" text-anchor="end" font-weight="normal" fill="#111" stroke="#111" stroke-width="0.06" >0.1</text>
<text transform="translate(155.3 357.4) rotate(-90)" font-size="6.1" text-anchor="middle" fill="#111">Transduction efficiency [%]</text>
<text x="284.2" y="311.6" font-size="6.8" text-anchor="middle" font-weight="normal" fill="#111" stroke="#111" stroke-width="0.06" >with Vectofusin<tspan font-size="5" dy="-2.4">®</tspan><tspan dy="2.4">-1</tspan></text>
<path d="M255.8 312.8H312.6" stroke="#444" stroke-width="0.6"/>
<path d="M184.1 395.1v2.3" stroke="#333" stroke-width="0.8"/>
<text x="184.1" y="403.3" font-size="4.6" text-anchor="middle" font-weight="bold" fill="#000" stroke="#000" stroke-width="0.3" >-</text>
<text x="184.1" y="409.1" font-size="4.6" text-anchor="middle" font-weight="bold" fill="#000" stroke="#000" stroke-width="0.3" >-</text>
<path d="M181.2 394.6V392.5M180.2 392.5h2" stroke="#000" stroke-width="0.8"/>
<circle cx="181.2" cy="393.5" r="1.9" fill="#000"/>
<path d="M187.1 392.6l2.1 3.4h-4.2z" fill="#f6105f"/>
<path d="M199.5 395.1v2.3" stroke="#333" stroke-width="0.8"/>
<text x="199.5" y="403.3" font-size="4.6" text-anchor="middle" font-weight="bold" fill="#000" stroke="#000" stroke-width="0.3" >-</text>
<text x="199.5" y="409.1" font-size="4.6" text-anchor="middle" font-weight="bold" fill="#000" stroke="#000" stroke-width="0.3" >+</text>
<circle cx="196.6" cy="394.2" r="1.9" fill="#000"/>
<path d="M202.5 392.6l2.1 3.4h-4.2z" fill="#f6105f"/>
<path d="M230.2 395.1v2.3" stroke="#333" stroke-width="0.8"/>
<text x="230.2" y="403.3" font-size="4.6" text-anchor="middle" font-weight="bold" fill="#000" stroke="#000" stroke-width="0.3" >+</text>
<text x="230.2" y="409.1" font-size="4.6" text-anchor="middle" font-weight="bold" fill="#000" stroke="#000" stroke-width="0.3" >-</text>
<circle cx="227.3" cy="394.0" r="1.9" fill="#000"/>
<path d="M231.5 394.7V393.1H234.5V394.7" stroke="#f6105f" stroke-width="1.15" fill="none"/>
<path d="M233.0 393.5V391.4M232.0 391.4h2" stroke="#f6105f" stroke-width="0.8"/>
<path d="M233.0 390.5l2.1 3.4h-4.2z" fill="#f6105f"/>
<path d="M233.0 391.3l0.9 1.6h-1.8z" fill="#500018"/>
<path d="M245.6 395.1v2.3" stroke="#333" stroke-width="0.8"/>
<text x="245.6" y="403.3" font-size="4.6" text-anchor="middle" font-weight="bold" fill="#000" stroke="#000" stroke-width="0.3" >-</text>
<text x="245.6" y="409.1" font-size="4.6" text-anchor="middle" font-weight="bold" fill="#000" stroke="#000" stroke-width="0.3" >+</text>
<path d="M241.5 394.7V388.8H244.5V394.7" stroke="#000" stroke-width="1.15" fill="none"/>
<path d="M243.0 390.3V386.1M242.0 386.1h2" stroke="#000" stroke-width="0.8"/>
<circle cx="243.0" cy="388.2" r="1.8" fill="#000"/>
<path d="M248.6 392.0l2.1 3.4h-4.2z" fill="#f6105f"/>
<path d="M261.0 395.1v2.3" stroke="#333" stroke-width="0.8"/>
<text x="261.0" y="403.3" font-size="4.6" text-anchor="middle" font-weight="bold" fill="#000" stroke="#000" stroke-width="0.3" >+</text>
<text x="261.0" y="409.1" font-size="4.6" text-anchor="middle" font-weight="bold" fill="#000" stroke="#000" stroke-width="0.3" >+</text>
<path d="M256.5 394.7V379.9H259.5V394.7" stroke="#000" stroke-width="1.15" fill="none"/>
<path d="M258.0 382.4V376.1M257.0 376.1h2" stroke="#000" stroke-width="0.8"/>
<circle cx="258.0" cy="379.3" r="1.8" fill="#000"/>
<path d="M262.5 394.7V373.7M265.5 394.7V373.7M262.5 368.4V356.8A1.5 1.5 0 0 1 265.5 356.8V368.4" stroke="#f6105f" stroke-width="1.15" fill="none"/>
<path d="M264.0 354.1l1.7 2.8h-3.4z" fill="#f6105f"/>
<path d="M264.0 354.4l1.2 2.1h-2.4z" fill="#3a0010"/>
<path d="M291.8 395.1v2.3" stroke="#333" stroke-width="0.8"/>
<text x="291.8" y="403.3" font-size="4.6" text-anchor="middle" font-weight="bold" fill="#000" stroke="#000" stroke-width="0.3" >+</text>
<text x="291.8" y="409.1" font-size="4.6" text-anchor="middle" font-weight="bold" fill="#000" stroke="#000" stroke-width="0.3" >-</text>
<circle cx="288.9" cy="393.5" r="1.9" fill="#000"/>
<path d="M293.5 394.7V392.5H296.5V394.7" stroke="#f6105f" stroke-width="1.15" fill="none"/>
<path d="M295.0 393.0V390.9M294.0 390.9h2" stroke="#f6105f" stroke-width="0.8"/>
<path d="M295.0 389.9l2.1 3.4h-4.2z" fill="#f6105f"/>
<path d="M295.0 390.7l0.9 1.6h-1.8z" fill="#500018"/>
<path d="M307.1 395.1v2.3" stroke="#333" stroke-width="0.8"/>
<text x="307.1" y="403.3" font-size="4.6" text-anchor="middle" font-weight="bold" fill="#000" stroke="#000" stroke-width="0.3" >-</text>
<text x="307.1" y="409.1" font-size="4.6" text-anchor="middle" font-weight="bold" fill="#000" stroke="#000" stroke-width="0.3" >+</text>
<path d="M302.5 394.7V388.8H305.5V394.7" stroke="#000" stroke-width="1.15" fill="none"/>
<path d="M304.0 389.8V386.7M303.0 386.7h2" stroke="#000" stroke-width="0.8"/>
<circle cx="304.0" cy="388.2" r="1.8" fill="#000"/>
<path d="M310.1 392.0l2.1 3.4h-4.2z" fill="#f6105f"/>
<path d="M322.5 395.1v2.3" stroke="#333" stroke-width="0.8"/>
<text x="322.5" y="403.3" font-size="4.6" text-anchor="middle" font-weight="bold" fill="#000" stroke="#000" stroke-width="0.3" >+</text>
<text x="322.5" y="409.1" font-size="4.6" text-anchor="middle" font-weight="bold" fill="#000" stroke="#000" stroke-width="0.3" >+</text>
<path d="M318.5 394.7V386.7H321.5V394.7" stroke="#000" stroke-width="1.15" fill="none"/>
<path d="M320.0 387.7V384.5M319.0 384.5h2" stroke="#000" stroke-width="0.8"/>
<circle cx="320.0" cy="386.1" r="1.8" fill="#000"/>
<path d="M324.5 394.7V373.7M327.5 394.7V373.7M324.5 368.4V363.1A1.5 1.5 0 0 1 327.5 363.1V368.4" stroke="#f6105f" stroke-width="1.15" fill="none"/>
<path d="M326.0 363.2V360.1M325.0 360.1h2" stroke="#f6105f" stroke-width="0.8"/>
<path d="M326.0 360.4l1.7 2.8h-3.4z" fill="#f6105f"/>
<path d="M326.0 360.7l1.2 2.1h-2.4z" fill="#3a0010"/>
<path d="M353.3 395.1v2.3" stroke="#333" stroke-width="0.8"/>
<text x="353.3" y="403.3" font-size="4.6" text-anchor="middle" font-weight="bold" fill="#000" stroke="#000" stroke-width="0.3" >+</text>
<text x="353.3" y="409.1" font-size="4.6" text-anchor="middle" font-weight="bold" fill="#000" stroke="#000" stroke-width="0.3" >-</text>
<circle cx="350.4" cy="393.5" r="1.9" fill="#000"/>
<path d="M354.5 394.7V393.1H357.5V394.7" stroke="#f6105f" stroke-width="1.15" fill="none"/>
<path d="M356.0 393.0V391.9M355.0 391.9h2" stroke="#f6105f" stroke-width="0.8"/>
<path d="M356.0 390.5l2.1 3.4h-4.2z" fill="#f6105f"/>
<path d="M356.0 391.3l0.9 1.6h-1.8z" fill="#500018"/>
<path d="M368.7 395.1v2.3" stroke="#333" stroke-width="0.8"/>
<text x="368.7" y="403.3" font-size="4.6" text-anchor="middle" font-weight="bold" fill="#000" stroke="#000" stroke-width="0.3" >-</text>
<text x="368.7" y="409.1" font-size="4.6" text-anchor="middle" font-weight="bold" fill="#000" stroke="#000" stroke-width="0.3" >+</text>
<path d="M364.5 394.7V388.8H367.5V394.7" stroke="#000" stroke-width="1.15" fill="none"/>
<path d="M366.0 390.3V386.1M365.0 386.1h2" stroke="#000" stroke-width="0.8"/>
<circle cx="366.0" cy="388.2" r="1.8" fill="#000"/>
<path d="M371.7 392.6l2.1 3.4h-4.2z" fill="#f6105f"/>
<path d="M384.0 395.1v2.3" stroke="#333" stroke-width="0.8"/>
<text x="384.0" y="403.3" font-size="4.6" text-anchor="middle" font-weight="bold" fill="#000" stroke="#000" stroke-width="0.3" >+</text>
<text x="384.0" y="409.1" font-size="4.6" text-anchor="middle" font-weight="bold" fill="#000" stroke="#000" stroke-width="0.3" >+</text>
<path d="M379.5 394.7V370.2M382.5 394.7V370.2M379.5 367.6V348.0A1.5 1.5 0 0 1 382.5 348.0V367.6" stroke="#000" stroke-width="1.15" fill="none"/>
<path d="M381.0 347.5V345.6M380.0 345.6h2" stroke="#000" stroke-width="0.8"/>
<circle cx="381.0" cy="346.5" r="1.8" fill="#000"/>
<path d="M385.5 394.7V388.3H388.5V394.7" stroke="#f6105f" stroke-width="1.15" fill="none"/>
<path d="M387.0 392.5V383.0M386.0 383.0h2" stroke="#f6105f" stroke-width="0.8"/>
<path d="M387.0 385.7l2.1 3.4h-4.2z" fill="#f6105f"/>
<path d="M387.0 386.5l0.9 1.6h-1.8z" fill="#500018"/>
<path d="M183.5 412.2H209.5" stroke="#484848" stroke-width="1.5"/>
<text x="195.5" y="420.4" font-size="6.25" text-anchor="middle" font-weight="normal" fill="#111" stroke="#111" stroke-width="0.06" >w/o</text>
<path d="M223.3 412.2H271.9" stroke="#484848" stroke-width="1.5"/>
<text x="245.8" y="420.4" font-size="6.25" text-anchor="middle" font-weight="normal" fill="#111" stroke="#111" stroke-width="0.06" >CD4-mAB</text>
<path d="M282.0 412.2H335.9" stroke="#484848" stroke-width="1.5"/>
<text x="307.0" y="420.4" font-size="6.25" text-anchor="middle" font-weight="normal" fill="#111" stroke="#111" stroke-width="0.06" >CD8-mAB</text>
<path d="M344.8 412.2H390.0" stroke="#484848" stroke-width="1.5"/>
<text x="368.6" y="420.4" font-size="6.25" text-anchor="middle" font-weight="normal" fill="#111" stroke="#111" stroke-width="0.06" >CD20-mAB</text>
<text x="392.5" y="402.3" font-size="6.2" text-anchor="start" font-weight="normal" fill="#111" stroke="#111" stroke-width="0.06" >LLE</text>
<text x="392.5" y="409.5" font-size="6.2" text-anchor="start" font-weight="normal" fill="#111" stroke="#111" stroke-width="0.06" >LV</text>
<circle cx="402.8" cy="327.6" r="1.75" fill="#000"/>
<text x="411.4" y="329.8" font-size="6.2" text-anchor="start" font-weight="normal" fill="#111" stroke="#111" stroke-width="0.06" >Raji</text>
<path d="M402.8 338.6l1.7 2.9h-3.4z" fill="#f6105f"/>
<text x="411.4" y="342.0" font-size="6.2" text-anchor="start" font-weight="normal" fill="#111" stroke="#111" stroke-width="0.06" >SupT1</text>
<path d="M188.2 518.3H394.1" stroke="#c8c8c8" stroke-width="0.7" fill="none"/>
<path d="M178.2 447.8V494.3M176.4 494.3h3.6M178.2 499.9V522.1" stroke="#000" stroke-width="1" fill="none"/>
<path d="M177.7 522.1H394.1" stroke="#101010" stroke-width="1.15" fill="none"/>
<path d="M175.8 457.8h2.4" stroke="#000" stroke-width="0.9"/>
<text x="175.2" y="460.0" font-size="6.3" text-anchor="end" font-weight="normal" fill="#111" stroke="#111" stroke-width="0.06" >60</text>
<path d="M175.8 470.4h2.4" stroke="#000" stroke-width="0.9"/>
<text x="175.2" y="472.6" font-size="6.3" text-anchor="end" font-weight="normal" fill="#111" stroke="#111" stroke-width="0.06" >40</text>
<path d="M175.8 483.0h2.4" stroke="#000" stroke-width="0.9"/>
<text x="175.2" y="485.2" font-size="6.3" text-anchor="end" font-weight="normal" fill="#111" stroke="#111" stroke-width="0.06" >20</text>
<path d="M176.2 499.9h2" stroke="#000" stroke-width="0.9"/>
<text x="175.3" y="502.1" font-size="6.3" text-anchor="end" font-weight="normal" fill="#111" stroke="#111" stroke-width="0.06" >0.4</text>
<path d="M176.2 505.4h2" stroke="#000" stroke-width="0.9"/>
<text x="175.3" y="507.6" font-size="6.3" text-anchor="end" font-weight="normal" fill="#111" stroke="#111" stroke-width="0.06" >0.3</text>
<path d="M176.2 511.0h2" stroke="#000" stroke-width="0.9"/>
<text x="175.3" y="513.2" font-size="6.3" text-anchor="end" font-weight="normal" fill="#111" stroke="#111" stroke-width="0.06" >0.2</text>
<path d="M176.2 516.5h2" stroke="#000" stroke-width="0.9"/>
<text x="175.3" y="518.8" font-size="6.3" text-anchor="end" font-weight="normal" fill="#111" stroke="#111" stroke-width="0.06" >0.1</text>
<text transform="translate(155.9 484.4) rotate(-90)" font-size="6.1" text-anchor="middle" fill="#111">Transduction efficiency [%]</text>
<text x="285.8" y="437.7" font-size="6.8" text-anchor="middle" font-weight="normal" fill="#111" stroke="#111" stroke-width="0.06" >with spin</text>
<path d="M184.7 522.1v2.3" stroke="#333" stroke-width="0.8"/>
<text x="184.7" y="530.3" font-size="4.6" text-anchor="middle" font-weight="bold" fill="#000" stroke="#000" stroke-width="0.3" >-</text>
<text x="184.7" y="536.1" font-size="4.6" text-anchor="middle" font-weight="bold" fill="#000" stroke="#000" stroke-width="0.3" >-</text>
<path d="M181.8 521.5V519.3M180.8 519.3h2" stroke="#000" stroke-width="0.8"/>
<circle cx="181.8" cy="520.4" r="1.9" fill="#000"/>
<path d="M187.7 519.5l2.1 3.4h-4.2z" fill="#f6105f"/>
<path d="M200.2 522.1v2.3" stroke="#333" stroke-width="0.8"/>
<text x="200.2" y="530.3" font-size="4.6" text-anchor="middle" font-weight="bold" fill="#000" stroke="#000" stroke-width="0.3" >-</text>
<text x="200.2" y="536.1" font-size="4.6" text-anchor="middle" font-weight="bold" fill="#000" stroke="#000" stroke-width="0.3" >+</text>
<circle cx="197.3" cy="521.2" r="1.9" fill="#000"/>
<path d="M203.2 519.5l2.1 3.4h-4.2z" fill="#f6105f"/>
<path d="M231.3 522.1v2.3" stroke="#333" stroke-width="0.8"/>
<text x="231.3" y="530.3" font-size="4.6" text-anchor="middle" font-weight="bold" fill="#000" stroke="#000" stroke-width="0.3" >+</text>
<text x="231.3" y="536.1" font-size="4.6" text-anchor="middle" font-weight="bold" fill="#000" stroke="#000" stroke-width="0.3" >-</text>
<circle cx="228.4" cy="521.0" r="1.9" fill="#000"/>
<path d="M232.5 521.7V519.9H235.5V521.7" stroke="#f6105f" stroke-width="1.3" fill="none"/>
<path d="M234.0 520.4V518.2M233.0 518.2h2" stroke="#f6105f" stroke-width="0.8"/>
<path d="M234.0 517.3l2.1 3.4h-4.2z" fill="#f6105f"/>
<path d="M234.0 518.1l0.9 1.6h-1.8z" fill="#500018"/>
<path d="M246.9 522.1v2.3" stroke="#333" stroke-width="0.8"/>
<text x="246.9" y="530.3" font-size="4.6" text-anchor="middle" font-weight="bold" fill="#000" stroke="#000" stroke-width="0.3" >-</text>
<text x="246.9" y="536.1" font-size="4.6" text-anchor="middle" font-weight="bold" fill="#000" stroke="#000" stroke-width="0.3" >+</text>
<circle cx="244.0" cy="521.0" r="1.9" fill="#000"/>
<path d="M249.9 519.5l2.1 3.4h-4.2z" fill="#f6105f"/>
<path d="M262.4 522.1v2.3" stroke="#333" stroke-width="0.8"/>
<text x="262.4" y="530.3" font-size="4.6" text-anchor="middle" font-weight="bold" fill="#000" stroke="#000" stroke-width="0.3" >+</text>
<text x="262.4" y="536.1" font-size="4.6" text-anchor="middle" font-weight="bold" fill="#000" stroke="#000" stroke-width="0.3" >+</text>
<circle cx="259.5" cy="521.0" r="1.9" fill="#000"/>
<path d="M263.5 521.7V499.6M266.5 521.7V499.6M263.5 494.8V458.0A1.5 1.5 0 0 1 266.5 458.0V494.8" stroke="#f6105f" stroke-width="1.3" fill="none"/>
<path d="M265.0 458.4V454.6M264.0 454.6h2" stroke="#f6105f" stroke-width="0.8"/>
<path d="M265.0 455.3l1.7 2.8h-3.4z" fill="#f6105f"/>
<path d="M265.0 455.6l1.2 2.1h-2.4z" fill="#3a0010"/>
<path d="M293.5 522.1v2.3" stroke="#333" stroke-width="0.8"/>
<text x="293.5" y="530.3" font-size="4.6" text-anchor="middle" font-weight="bold" fill="#000" stroke="#000" stroke-width="0.3" >+</text>
<text x="293.5" y="536.1" font-size="4.6" text-anchor="middle" font-weight="bold" fill="#000" stroke="#000" stroke-width="0.3" >-</text>
<circle cx="290.6" cy="521.0" r="1.9" fill="#000"/>
<path d="M294.5 521.7V519.9H297.5V521.7" stroke="#f6105f" stroke-width="1.3" fill="none"/>
<path d="M296.0 520.4V518.2M295.0 518.2h2" stroke="#f6105f" stroke-width="0.8"/>
<path d="M296.0 517.3l2.1 3.4h-4.2z" fill="#f6105f"/>
<path d="M296.0 518.1l0.9 1.6h-1.8z" fill="#500018"/>
<path d="M309.0 522.1v2.3" stroke="#333" stroke-width="0.8"/>
<text x="309.0" y="530.3" font-size="4.6" text-anchor="middle" font-weight="bold" fill="#000" stroke="#000" stroke-width="0.3" >-</text>
<text x="309.0" y="536.1" font-size="4.6" text-anchor="middle" font-weight="bold" fill="#000" stroke="#000" stroke-width="0.3" >+</text>
<circle cx="306.1" cy="521.2" r="1.9" fill="#000"/>
<path d="M312.0 519.5l2.1 3.4h-4.2z" fill="#f6105f"/>
<path d="M324.6 522.1v2.3" stroke="#333" stroke-width="0.8"/>
<text x="324.6" y="530.3" font-size="4.6" text-anchor="middle" font-weight="bold" fill="#000" stroke="#000" stroke-width="0.3" >+</text>
<text x="324.6" y="536.1" font-size="4.6" text-anchor="middle" font-weight="bold" fill="#000" stroke="#000" stroke-width="0.3" >+</text>
<circle cx="321.7" cy="521.2" r="1.9" fill="#000"/>
<path d="M326.5 521.7V499.6M329.5 521.7V499.6M326.5 494.8V480.1A1.5 1.5 0 0 1 329.5 480.1V494.8" stroke="#f6105f" stroke-width="1.3" fill="none"/>
<path d="M328.0 477.4l1.7 2.8h-3.4z" fill="#f6105f"/>
<path d="M328.0 477.7l1.2 2.1h-2.4z" fill="#3a0010"/>
<path d="M355.6 522.1v2.3" stroke="#333" stroke-width="0.8"/>
<text x="355.6" y="530.3" font-size="4.6" text-anchor="middle" font-weight="bold" fill="#000" stroke="#000" stroke-width="0.3" >+</text>
<text x="355.6" y="536.1" font-size="4.6" text-anchor="middle" font-weight="bold" fill="#000" stroke="#000" stroke-width="0.3" >-</text>
<circle cx="352.7" cy="521.0" r="1.9" fill="#000"/>
<path d="M357.5 521.7V519.9H360.5V521.7" stroke="#f6105f" stroke-width="1.3" fill="none"/>
<path d="M359.0 520.4V518.2M358.0 518.2h2" stroke="#f6105f" stroke-width="0.8"/>
<path d="M359.0 517.3l2.1 3.4h-4.2z" fill="#f6105f"/>
<path d="M359.0 518.1l0.9 1.6h-1.8z" fill="#500018"/>
<path d="M371.2 522.1v2.3" stroke="#333" stroke-width="0.8"/>
<text x="371.2" y="530.3" font-size="4.6" text-anchor="middle" font-weight="bold" fill="#000" stroke="#000" stroke-width="0.3" >-</text>
<text x="371.2" y="536.1" font-size="4.6" text-anchor="middle" font-weight="bold" fill="#000" stroke="#000" stroke-width="0.3" >+</text>
<circle cx="368.3" cy="521.0" r="1.9" fill="#000"/>
<path d="M374.2 519.5l2.1 3.4h-4.2z" fill="#f6105f"/>
<path d="M386.7 522.1v2.3" stroke="#333" stroke-width="0.8"/>
<text x="386.7" y="530.3" font-size="4.6" text-anchor="middle" font-weight="bold" fill="#000" stroke="#000" stroke-width="0.3" >+</text>
<text x="386.7" y="536.1" font-size="4.6" text-anchor="middle" font-weight="bold" fill="#000" stroke="#000" stroke-width="0.3" >+</text>
<path d="M382.5 521.7V496.7M385.5 521.7V496.7M382.5 495.1V480.1A1.5 1.5 0 0 1 385.5 480.1V495.1" stroke="#000" stroke-width="1.3" fill="none"/>
<path d="M384.0 479.3V477.8M383.0 477.8h2" stroke="#000" stroke-width="0.8"/>
<circle cx="384.0" cy="478.6" r="1.8" fill="#000"/>
<path d="M388.5 521.7V517.7H391.5V521.7" stroke="#f6105f" stroke-width="1.3" fill="none"/>
<path d="M390.0 519.3V514.9M389.0 514.9h2" stroke="#f6105f" stroke-width="0.8"/>
<path d="M390.0 515.1l2.1 3.4h-4.2z" fill="#f6105f"/>
<path d="M390.0 515.9l0.9 1.6h-1.8z" fill="#500018"/>
<path d="M179.6 539.6H207.4" stroke="#303030" stroke-width="1.5"/>
<text x="193.4" y="547.8" font-size="6.25" text-anchor="middle" font-weight="normal" fill="#111" stroke="#111" stroke-width="0.06" >w/o</text>
<path d="M223.9 539.6H271.9" stroke="#303030" stroke-width="1.5"/>
<text x="245.6" y="547.8" font-size="6.25" text-anchor="middle" font-weight="normal" fill="#111" stroke="#111" stroke-width="0.06" >CD4-mAB</text>
<path d="M286.0 539.6H334.8" stroke="#303030" stroke-width="1.5"/>
<text x="311.4" y="547.8" font-size="6.25" text-anchor="middle" font-weight="normal" fill="#111" stroke="#111" stroke-width="0.06" >CD8-mAB</text>
<path d="M348.3 539.6H393.8" stroke="#303030" stroke-width="1.5"/>
<text x="371.4" y="547.8" font-size="6.25" text-anchor="middle" font-weight="normal" fill="#111" stroke="#111" stroke-width="0.06" >CD20-mAB</text>
<text x="395.8" y="529.3" font-size="6.2" text-anchor="start" font-weight="normal" fill="#111" stroke="#111" stroke-width="0.06" >LLE</text>
<text x="395.8" y="536.5" font-size="6.2" text-anchor="start" font-weight="normal" fill="#111" stroke="#111" stroke-width="0.06" >LV</text>
<circle cx="398.5" cy="455.2" r="1.75" fill="#000"/>
<text x="407.1" y="457.4" font-size="6.2" text-anchor="start" font-weight="normal" fill="#111" stroke="#111" stroke-width="0.06" >Raji</text>
<path d="M398.5 466.2l1.7 2.9h-3.4z" fill="#f6105f"/>
<text x="407.1" y="469.6" font-size="6.2" text-anchor="start" font-weight="normal" fill="#111" stroke="#111" stroke-width="0.06" >SupT1</text>
</svg></body></html>
